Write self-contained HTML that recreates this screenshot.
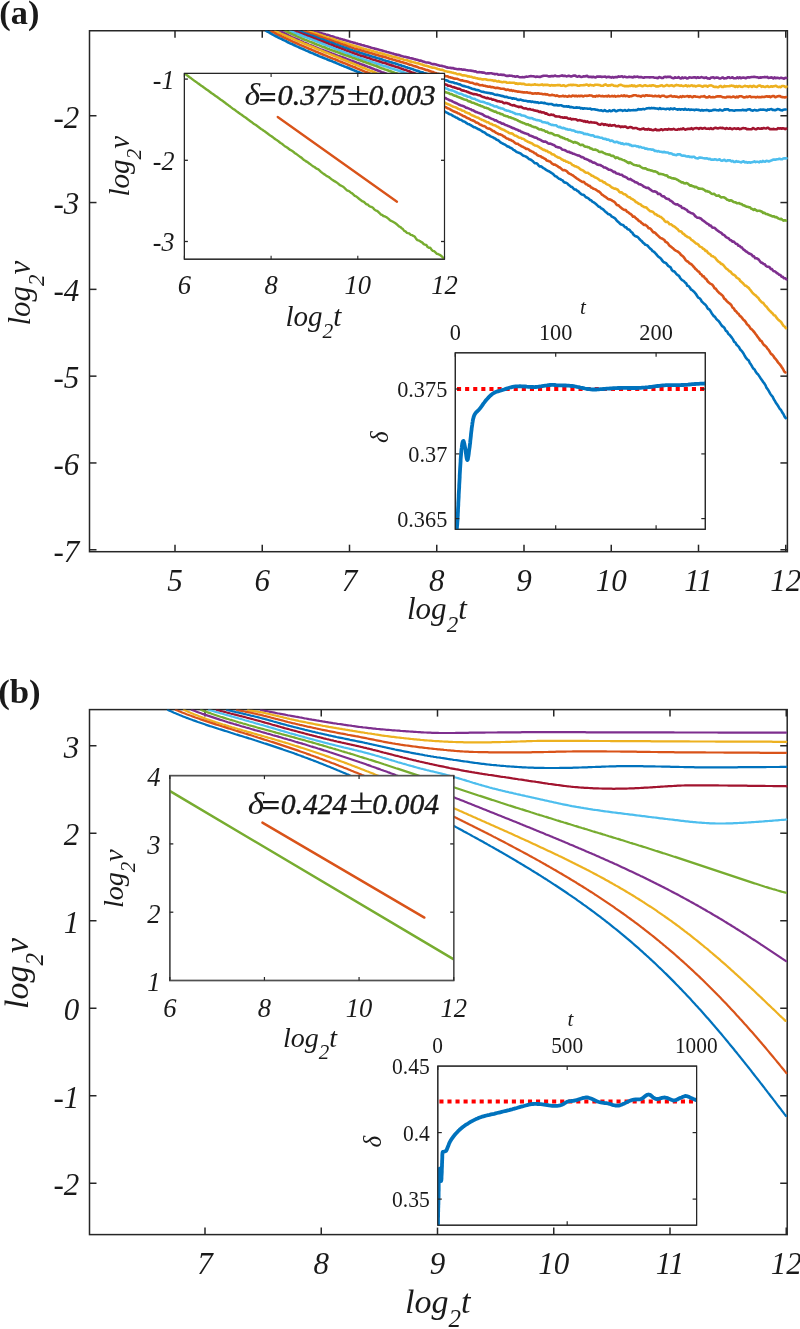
<!DOCTYPE html>
<html><head><meta charset="utf-8"><title>figure</title>
<style>
html,body{margin:0;padding:0;background:#fff;}
svg{display:block;}
text{font-family:'Liberation Serif', 'Times New Roman', serif;fill:#1a1a1a;}
</style></head>
<body>
<svg width="800" height="1329" viewBox="0 0 800 1329">
<rect width="800" height="1329" fill="#fff"/>
<rect x="89.5" y="30.75" width="697.9" height="520.95" fill="none" stroke="#262626" stroke-width="1.5"/>
<line x1="175.0" y1="551.7" x2="175.0" y2="544.7" stroke="#262626" stroke-width="1.5"/>
<line x1="175.0" y1="30.75" x2="175.0" y2="37.75" stroke="#262626" stroke-width="1.5"/>
<line x1="262.25" y1="551.7" x2="262.25" y2="544.7" stroke="#262626" stroke-width="1.5"/>
<line x1="262.25" y1="30.75" x2="262.25" y2="37.75" stroke="#262626" stroke-width="1.5"/>
<line x1="349.5" y1="551.7" x2="349.5" y2="544.7" stroke="#262626" stroke-width="1.5"/>
<line x1="349.5" y1="30.75" x2="349.5" y2="37.75" stroke="#262626" stroke-width="1.5"/>
<line x1="436.75" y1="551.7" x2="436.75" y2="544.7" stroke="#262626" stroke-width="1.5"/>
<line x1="436.75" y1="30.75" x2="436.75" y2="37.75" stroke="#262626" stroke-width="1.5"/>
<line x1="524.0" y1="551.7" x2="524.0" y2="544.7" stroke="#262626" stroke-width="1.5"/>
<line x1="524.0" y1="30.75" x2="524.0" y2="37.75" stroke="#262626" stroke-width="1.5"/>
<line x1="611.25" y1="551.7" x2="611.25" y2="544.7" stroke="#262626" stroke-width="1.5"/>
<line x1="611.25" y1="30.75" x2="611.25" y2="37.75" stroke="#262626" stroke-width="1.5"/>
<line x1="698.5" y1="551.7" x2="698.5" y2="544.7" stroke="#262626" stroke-width="1.5"/>
<line x1="698.5" y1="30.75" x2="698.5" y2="37.75" stroke="#262626" stroke-width="1.5"/>
<line x1="785.75" y1="551.7" x2="785.75" y2="544.7" stroke="#262626" stroke-width="1.5"/>
<line x1="785.75" y1="30.75" x2="785.75" y2="37.75" stroke="#262626" stroke-width="1.5"/>
<line x1="89.5" y1="115.75" x2="96.5" y2="115.75" stroke="#262626" stroke-width="1.5"/>
<line x1="787.4" y1="115.75" x2="780.4" y2="115.75" stroke="#262626" stroke-width="1.5"/>
<line x1="89.5" y1="202.55" x2="96.5" y2="202.55" stroke="#262626" stroke-width="1.5"/>
<line x1="787.4" y1="202.55" x2="780.4" y2="202.55" stroke="#262626" stroke-width="1.5"/>
<line x1="89.5" y1="289.35" x2="96.5" y2="289.35" stroke="#262626" stroke-width="1.5"/>
<line x1="787.4" y1="289.35" x2="780.4" y2="289.35" stroke="#262626" stroke-width="1.5"/>
<line x1="89.5" y1="376.15" x2="96.5" y2="376.15" stroke="#262626" stroke-width="1.5"/>
<line x1="787.4" y1="376.15" x2="780.4" y2="376.15" stroke="#262626" stroke-width="1.5"/>
<line x1="89.5" y1="462.95" x2="96.5" y2="462.95" stroke="#262626" stroke-width="1.5"/>
<line x1="787.4" y1="462.95" x2="780.4" y2="462.95" stroke="#262626" stroke-width="1.5"/>
<line x1="89.5" y1="549.75" x2="96.5" y2="549.75" stroke="#262626" stroke-width="1.5"/>
<line x1="787.4" y1="549.75" x2="780.4" y2="549.75" stroke="#262626" stroke-width="1.5"/>
<clipPath id="clipA"><rect x="89.5" y="30.75" width="698.1999999999999" height="520.95"/></clipPath>
<g clip-path="url(#clipA)">
<polyline points="313.8,31.0 314.9,31.3 316.1,31.6 317.3,32.1 318.5,32.3 319.7,32.7 320.9,33.1 322.1,33.4 323.3,33.8 324.5,34.1 325.7,34.5 326.9,34.8 328.1,35.1 329.3,35.5 330.5,36.0 331.7,36.2 332.9,36.6 334.1,37.0 335.3,37.4 336.5,37.7 337.7,38.0 338.9,38.5 340.1,38.7 341.3,39.2 342.5,39.4 343.7,39.7 344.9,40.1 346.1,40.4 347.3,40.9 348.5,41.1 349.7,41.6 350.9,41.9 352.1,42.2 353.3,42.6 354.5,42.8 355.7,43.2 356.9,43.5 358.1,44.0 359.3,44.3 360.5,44.6 361.7,45.0 362.9,45.3 364.1,45.6 365.3,46.0 366.5,46.3 367.7,46.6 368.9,46.9 370.1,47.3 371.3,47.7 372.5,48.0 373.7,48.2 374.9,48.7 376.1,48.9 377.3,49.2 378.5,49.6 379.7,49.9 380.9,50.2 382.1,50.5 383.3,50.9 384.5,51.3 385.7,51.6 386.9,52.0 388.1,52.2 389.3,52.6 390.5,52.9 391.7,53.3 392.9,53.5 394.1,54.0 395.3,54.4 396.5,54.6 397.7,54.9 398.9,55.1 400.1,55.5 401.3,55.9 402.5,56.3 403.7,56.6 404.9,56.7 406.1,57.0 407.3,57.4 408.5,57.5 409.7,57.9 410.9,58.2 412.1,58.4 413.3,58.7 414.5,59.3 415.7,59.4 416.9,59.7 418.1,60.1 419.3,60.6 420.5,60.6 421.7,61.0 422.9,61.4 424.1,61.8 425.3,62.2 426.5,62.5 427.7,62.5 428.9,62.8 430.1,63.1 431.3,63.7 432.5,64.1 433.7,64.0 434.9,64.3 436.1,64.6 437.3,64.9 438.5,65.3 439.7,65.7 440.9,65.8 442.1,65.9 443.3,66.3 444.5,66.6 445.7,67.0 446.9,67.4 448.1,67.6 449.3,67.7 450.5,67.9 451.7,68.1 452.9,68.0 454.1,68.6 455.3,68.8 456.5,69.0 457.7,69.2 458.9,69.1 460.1,69.3 461.3,69.3 462.5,69.7 463.7,69.6 464.9,69.7 466.1,70.0 467.3,70.2 468.5,70.5 469.7,70.5 470.9,70.6 472.1,70.9 473.3,71.0 474.5,71.4 475.7,71.4 476.9,72.1 478.1,72.2 479.3,72.0 480.5,72.2 481.7,72.4 482.9,72.6 484.1,72.6 485.3,73.2 486.5,73.5 487.7,73.4 488.9,73.4 490.1,73.3 491.3,73.3 492.5,73.6 493.7,73.8 494.9,74.3 496.1,74.0 497.3,74.0 498.5,74.8 499.7,74.8 500.9,74.6 502.1,74.9 503.3,74.7 504.5,75.1 505.7,75.7 506.9,75.9 508.1,75.9 509.3,75.6 510.5,75.8 511.7,75.7 512.9,76.3 514.1,76.3 515.3,76.7 516.5,76.4 517.7,76.3 518.9,76.9 520.1,77.2 521.3,77.2 522.5,77.1 523.7,77.2 524.9,77.1 526.1,76.6 527.3,76.7 528.5,76.5 529.7,76.2 530.9,76.1 532.1,76.2 533.3,76.2 534.5,76.6 535.7,76.9 536.9,76.5 538.1,76.8 539.3,76.9 540.5,76.9 541.7,76.3 542.9,75.9 544.1,75.8 545.3,75.7 546.5,75.7 547.7,76.1 548.9,76.4 550.1,76.4 551.3,76.0 552.5,76.1 553.7,76.2 554.9,75.5 556.1,75.9 557.3,76.2 558.5,76.2 559.7,76.1 560.9,75.8 562.1,75.4 563.3,76.0 564.5,75.7 565.7,76.1 566.9,76.4 568.1,75.9 569.3,75.8 570.5,76.4 571.7,76.4 572.9,75.8 574.1,75.6 575.3,75.6 576.5,76.5 577.7,76.7 578.9,76.0 580.1,76.6 581.3,77.0 582.5,76.7 583.7,76.3 584.9,76.5 586.1,76.1 587.3,75.9 588.5,77.0 589.7,76.9 590.9,76.8 592.1,77.3 593.3,76.8 594.5,77.3 595.7,77.4 596.9,76.6 598.1,76.5 599.3,76.6 600.5,76.5 601.7,77.0 602.9,76.7 604.1,76.8 605.3,76.5 606.5,77.4 607.7,76.9 608.9,76.9 610.1,77.1 611.3,77.6 612.5,77.0 613.7,77.6 614.9,77.1 616.1,77.1 617.3,77.1 618.5,76.4 619.7,76.8 620.9,76.5 622.1,76.2 623.3,77.2 624.5,76.6 625.7,76.9 626.9,77.3 628.1,77.1 629.3,76.8 630.5,77.0 631.7,77.1 632.9,77.4 634.1,76.6 635.3,77.0 636.5,76.7 637.7,76.6 638.9,77.3 640.1,77.1 641.3,77.1 642.5,77.4 643.7,77.7 644.9,77.2 646.1,77.3 647.3,77.2 648.5,77.2 649.7,77.4 650.9,77.2 652.1,77.2 653.3,77.2 654.5,77.8 655.7,77.7 656.9,77.9 658.1,78.1 659.3,77.1 660.5,77.4 661.7,78.0 662.9,78.0 664.1,77.0 665.3,76.8 666.5,77.2 667.7,76.8 668.9,76.9 670.1,76.7 671.3,77.5 672.5,77.9 673.7,78.2 674.9,77.2 676.1,77.8 677.3,77.8 678.5,77.1 679.7,78.0 680.9,78.4 682.1,77.4 683.3,78.2 684.5,77.6 685.7,77.6 686.9,78.4 688.1,78.3 689.3,77.4 690.5,77.5 691.7,77.7 692.9,77.5 694.1,77.3 695.3,77.4 696.5,78.0 697.7,77.2 698.9,77.7 700.1,77.7 701.3,77.1 702.5,77.4 703.7,77.9 704.9,77.9 706.1,77.3 707.3,78.4 708.5,78.4 709.7,78.7 710.9,77.6 712.1,77.5 713.3,77.2 714.5,78.1 715.7,77.7 716.9,77.4 718.1,77.7 719.3,78.5 720.5,78.5 721.7,77.8 722.9,77.4 724.1,78.4 725.3,78.2 726.5,78.3 727.7,77.4 728.9,77.2 730.1,78.0 731.3,77.8 732.5,77.3 733.7,78.3 734.9,78.2 736.1,78.3 737.3,77.4 738.5,78.2 739.7,77.3 740.9,78.2 742.1,77.8 743.3,77.5 744.5,77.8 745.7,78.3 746.9,77.6 748.1,77.2 749.3,77.6 750.5,77.3 751.7,77.0 752.9,77.0 754.1,76.9 755.3,77.0 756.5,77.2 757.7,77.3 758.9,77.9 760.1,77.4 761.3,77.6 762.5,77.2 763.7,77.3 764.9,76.9 766.1,77.2 767.3,76.9 768.5,77.9 769.7,77.8 770.9,77.4 772.1,77.6 773.3,78.4 774.5,77.4 775.7,78.2 776.9,77.8 778.1,77.9 779.3,78.4 780.5,77.9 781.7,77.9 782.9,78.2 784.1,78.7 785.3,77.9 786.5,78.0" fill="none" stroke="#7E2F8E" stroke-width="2.6" stroke-linejoin="round" stroke-linecap="round" />
<polyline points="308.0,31.0 309.2,31.5 310.4,31.8 311.6,32.2 312.8,32.5 314.0,32.9 315.2,33.2 316.4,33.6 317.6,34.0 318.8,34.5 320.0,34.8 321.2,35.2 322.4,35.6 323.6,36.1 324.8,36.5 326.0,36.9 327.2,37.2 328.4,37.6 329.6,37.9 330.8,38.4 332.0,38.7 333.2,39.1 334.4,39.5 335.6,40.0 336.8,40.5 338.0,40.8 339.2,41.1 340.4,41.6 341.6,41.9 342.8,42.3 344.0,42.6 345.2,43.0 346.4,43.4 347.6,43.8 348.8,44.2 350.0,44.6 351.2,44.9 352.4,45.3 353.6,45.6 354.8,46.0 356.0,46.3 357.2,46.7 358.4,47.1 359.6,47.4 360.8,47.8 362.0,48.2 363.2,48.5 364.4,48.9 365.6,49.2 366.8,49.6 368.0,49.8 369.2,50.1 370.4,50.5 371.6,50.7 372.8,51.1 374.0,51.5 375.2,51.7 376.4,52.1 377.6,52.5 378.8,52.8 380.0,53.1 381.2,53.5 382.4,53.6 383.6,54.0 384.8,54.4 386.0,54.8 387.2,55.1 388.4,55.4 389.6,55.7 390.8,56.1 392.0,56.4 393.2,56.7 394.4,56.9 395.6,57.2 396.8,57.5 398.0,57.9 399.2,58.2 400.4,58.7 401.6,59.0 402.8,59.3 404.0,59.7 405.2,60.0 406.4,60.3 407.6,60.4 408.8,61.0 410.0,61.4 411.2,61.6 412.4,62.0 413.6,62.3 414.8,62.5 416.0,63.0 417.2,63.2 418.4,63.4 419.6,63.8 420.8,64.3 422.0,64.5 423.2,65.0 424.4,65.5 425.6,65.7 426.8,65.9 428.0,66.3 429.2,66.7 430.4,67.1 431.6,67.4 432.8,67.7 434.0,67.8 435.2,68.1 436.4,68.4 437.6,69.0 438.8,69.2 440.0,69.6 441.2,69.7 442.4,69.9 443.6,70.4 444.8,70.9 446.0,71.3 447.2,71.6 448.4,71.7 449.6,72.0 450.8,72.3 452.0,72.6 453.2,72.7 454.4,73.3 455.6,73.3 456.8,73.9 458.0,74.3 459.2,74.0 460.4,74.4 461.6,75.0 462.8,75.4 464.0,75.4 465.2,75.5 466.4,75.7 467.6,76.4 468.8,76.3 470.0,76.7 471.2,76.8 472.4,77.2 473.6,77.8 474.8,77.6 476.0,78.2 477.2,78.3 478.4,78.8 479.6,78.9 480.8,78.8 482.0,79.4 483.2,79.4 484.4,79.2 485.6,79.2 486.8,79.7 488.0,79.9 489.2,80.0 490.4,80.0 491.6,80.3 492.8,80.4 494.0,81.0 495.2,80.6 496.4,81.2 497.6,81.5 498.8,81.1 500.0,81.8 501.2,81.9 502.4,82.2 503.6,81.9 504.8,82.0 506.0,82.1 507.2,82.8 508.4,82.7 509.6,82.6 510.8,82.8 512.0,82.8 513.2,82.7 514.4,82.8 515.6,83.6 516.8,83.4 518.0,84.0 519.2,83.6 520.4,83.6 521.6,83.9 522.8,83.7 524.0,83.9 525.2,84.5 526.4,84.7 527.6,84.7 528.8,84.6 530.0,84.8 531.2,85.0 532.4,84.7 533.6,84.8 534.8,84.2 536.0,84.8 537.2,84.7 538.4,85.0 539.6,85.0 540.8,84.7 542.0,84.4 543.2,85.2 544.4,84.7 545.6,84.9 546.8,84.9 548.0,84.9 549.2,85.3 550.4,85.7 551.6,85.1 552.8,85.4 554.0,85.2 555.2,85.4 556.4,85.3 557.6,85.1 558.8,85.0 560.0,85.1 561.2,85.8 562.4,85.6 563.6,85.2 564.8,85.9 566.0,86.1 567.2,85.6 568.4,85.1 569.6,85.0 570.8,84.9 572.0,85.1 573.2,84.9 574.4,85.0 575.6,85.0 576.8,85.3 578.0,85.8 579.2,85.7 580.4,85.3 581.6,85.2 582.8,85.3 584.0,85.1 585.2,85.0 586.4,84.6 587.6,84.8 588.8,85.6 590.0,84.8 591.2,85.1 592.4,85.3 593.6,85.6 594.8,84.9 596.0,84.7 597.2,84.7 598.4,84.9 599.6,85.0 600.8,85.6 602.0,85.7 603.2,85.7 604.4,84.7 605.6,84.4 606.8,85.3 608.0,85.7 609.2,85.3 610.4,85.4 611.6,84.7 612.8,85.0 614.0,85.8 615.2,85.9 616.4,86.0 617.6,86.2 618.8,85.3 620.0,84.9 621.2,84.9 622.4,85.4 623.6,85.8 624.8,86.3 626.0,86.1 627.2,86.0 628.4,86.2 629.6,85.8 630.8,85.9 632.0,85.2 633.2,86.1 634.4,85.5 635.6,86.4 636.8,86.2 638.0,85.7 639.2,85.4 640.4,85.4 641.6,86.0 642.8,86.2 644.0,85.5 645.2,85.2 646.4,85.8 647.6,86.0 648.8,85.8 650.0,85.5 651.2,85.9 652.4,85.2 653.6,85.4 654.8,85.7 656.0,86.4 657.2,86.2 658.4,86.4 659.6,85.9 660.8,85.5 662.0,85.3 663.2,86.3 664.4,86.2 665.6,85.6 666.8,85.0 668.0,85.5 669.2,85.9 670.4,85.6 671.6,85.3 672.8,85.8 674.0,86.3 675.2,85.4 676.4,84.9 677.6,85.3 678.8,85.4 680.0,85.9 681.2,85.3 682.4,86.0 683.6,86.1 684.8,85.8 686.0,85.3 687.2,86.3 688.4,85.6 689.6,86.2 690.8,85.5 692.0,85.4 693.2,86.1 694.4,85.7 695.6,86.5 696.8,86.1 698.0,85.6 699.2,85.5 700.4,85.8 701.6,86.2 702.8,86.7 704.0,85.8 705.2,85.9 706.4,85.7 707.6,86.7 708.8,85.8 710.0,85.5 711.2,85.4 712.4,85.9 713.6,86.7 714.8,86.9 716.0,86.8 717.2,87.1 718.4,87.2 719.6,86.3 720.8,85.9 722.0,86.9 723.2,86.9 724.4,85.9 725.6,86.5 726.8,86.3 728.0,86.2 729.2,86.1 730.4,85.9 731.6,85.6 732.8,85.9 734.0,86.1 735.2,87.0 736.4,86.0 737.6,87.0 738.8,86.1 740.0,86.1 741.2,86.8 742.4,86.9 743.6,86.4 744.8,85.8 746.0,86.2 747.2,86.2 748.4,86.9 749.6,86.1 750.8,86.1 752.0,86.9 753.2,85.9 754.4,86.1 755.6,86.8 756.8,86.9 758.0,85.9 759.2,85.6 760.4,85.6 761.6,86.8 762.8,86.2 764.0,86.7 765.2,87.0 766.4,86.4 767.6,86.1 768.8,87.0 770.0,86.7 771.2,86.2 772.4,86.7 773.6,86.3 774.8,86.1 776.0,85.7 777.2,86.6 778.4,87.1 779.6,86.8 780.8,87.2 782.0,86.0 783.2,86.0 784.4,86.3 785.6,87.1 786.8,86.5" fill="none" stroke="#EDB120" stroke-width="2.6" stroke-linejoin="round" stroke-linecap="round" />
<polyline points="303.8,31.0 304.9,31.5 306.1,31.8 307.3,32.2 308.5,32.6 309.7,33.1 310.9,33.6 312.1,33.9 313.3,34.4 314.5,34.8 315.7,35.2 316.9,35.6 318.1,36.0 319.3,36.4 320.5,36.8 321.7,37.2 322.9,37.7 324.1,38.0 325.3,38.4 326.5,38.9 327.7,39.3 328.9,39.6 330.1,40.0 331.3,40.5 332.5,40.9 333.7,41.5 334.9,41.9 336.1,42.3 337.3,42.6 338.5,43.0 339.7,43.4 340.9,43.9 342.1,44.3 343.3,44.7 344.5,45.1 345.7,45.5 346.9,46.0 348.1,46.4 349.3,46.8 350.5,47.3 351.7,47.6 352.9,47.9 354.1,48.4 355.3,48.7 356.5,49.1 357.7,49.4 358.9,49.9 360.1,50.1 361.3,50.5 362.5,50.8 363.7,51.1 364.9,51.6 366.1,51.9 367.3,52.2 368.5,52.6 369.7,53.0 370.9,53.3 372.1,53.6 373.3,54.0 374.5,54.3 375.7,54.7 376.9,54.9 378.1,55.3 379.3,55.7 380.5,56.1 381.7,56.4 382.9,56.6 384.1,56.9 385.3,57.2 386.5,57.6 387.7,58.1 388.9,58.4 390.1,58.8 391.3,59.0 392.5,59.5 393.7,59.7 394.9,60.0 396.1,60.5 397.3,60.9 398.5,61.1 399.7,61.5 400.9,61.9 402.1,62.2 403.3,62.5 404.5,62.9 405.7,63.2 406.9,63.6 408.1,64.1 409.3,64.6 410.5,64.8 411.7,65.1 412.9,65.6 414.1,66.1 415.3,66.3 416.5,66.7 417.7,67.1 418.9,67.7 420.1,68.0 421.3,68.2 422.5,68.6 423.7,69.1 424.9,69.5 426.1,70.0 427.3,70.1 428.5,70.5 429.7,71.1 430.9,71.4 432.1,71.8 433.3,72.1 434.5,72.8 435.7,73.0 436.9,73.4 438.1,73.7 439.3,74.1 440.5,74.7 441.7,75.2 442.9,75.3 444.1,75.5 445.3,76.1 446.5,76.2 447.7,76.4 448.9,77.1 450.1,77.3 451.3,77.8 452.5,77.9 453.7,78.5 454.9,78.6 456.1,78.7 457.3,78.8 458.5,79.4 459.7,79.9 460.9,80.4 462.1,80.2 463.3,80.7 464.5,81.0 465.7,81.3 466.9,81.4 468.1,81.8 469.3,82.2 470.5,82.8 471.7,82.7 472.9,83.1 474.1,83.7 475.3,84.1 476.5,83.9 477.7,84.1 478.9,84.8 480.1,85.3 481.3,85.2 482.5,85.1 483.7,85.8 484.9,85.8 486.1,86.3 487.3,86.4 488.5,86.8 489.7,86.5 490.9,87.1 492.1,87.0 493.3,87.2 494.5,87.8 495.7,88.1 496.9,87.8 498.1,87.9 499.3,88.2 500.5,88.6 501.7,88.7 502.9,88.7 504.1,88.9 505.3,89.5 506.5,90.0 507.7,89.6 508.9,90.0 510.1,90.5 511.3,90.1 512.5,90.9 513.7,90.6 514.9,91.1 516.1,91.3 517.3,91.6 518.5,91.5 519.7,91.7 520.9,92.0 522.1,92.1 523.3,92.4 524.5,92.4 525.7,92.5 526.9,92.2 528.1,92.8 529.3,92.9 530.5,92.8 531.7,93.4 532.9,93.6 534.1,93.5 535.3,93.2 536.5,93.6 537.7,93.4 538.9,93.4 540.1,93.8 541.3,93.7 542.5,94.1 543.7,94.3 544.9,94.0 546.1,94.6 547.3,94.3 548.5,95.0 549.7,95.3 550.9,95.2 552.1,94.8 553.3,95.2 554.5,95.3 555.7,96.0 556.9,95.3 558.1,96.0 559.3,96.4 560.5,96.2 561.7,96.3 562.9,95.7 564.1,96.4 565.3,96.1 566.5,96.5 567.7,96.6 568.9,95.8 570.1,96.3 571.3,96.5 572.5,95.6 573.7,95.7 574.9,96.2 576.1,95.7 577.3,96.4 578.5,95.8 579.7,96.3 580.9,95.7 582.1,95.9 583.3,96.5 584.5,95.8 585.7,95.7 586.9,95.9 588.1,95.8 589.3,95.4 590.5,95.5 591.7,95.5 592.9,96.4 594.1,96.3 595.3,96.6 596.5,95.7 597.7,96.3 598.9,95.6 600.1,95.9 601.3,96.2 602.5,95.9 603.7,96.4 604.9,96.2 606.1,96.1 607.3,96.5 608.5,95.6 609.7,96.5 610.9,96.3 612.1,95.9 613.3,96.4 614.5,95.8 615.7,96.6 616.9,96.3 618.1,95.9 619.3,96.3 620.5,96.0 621.7,95.6 622.9,96.2 624.1,95.4 625.3,96.3 626.5,95.7 627.7,96.1 628.9,96.7 630.1,96.3 631.3,96.3 632.5,95.8 633.7,95.3 634.9,95.2 636.1,95.3 637.3,96.0 638.5,95.9 639.7,96.0 640.9,96.6 642.1,95.7 643.3,95.6 644.5,96.2 645.7,95.4 646.9,95.2 648.1,95.7 649.3,95.5 650.5,95.8 651.7,95.7 652.9,96.2 654.1,96.3 655.3,95.8 656.5,96.3 657.7,96.3 658.9,95.8 660.1,96.8 661.3,96.1 662.5,95.8 663.7,95.7 664.9,96.4 666.1,96.9 667.3,96.9 668.5,96.4 669.7,96.1 670.9,95.7 672.1,96.5 673.3,96.6 674.5,96.3 675.7,96.7 676.9,96.5 678.1,97.2 679.3,97.1 680.5,96.4 681.7,97.1 682.9,96.1 684.1,96.6 685.3,96.5 686.5,96.3 687.7,96.0 688.9,96.9 690.1,96.1 691.3,96.6 692.5,97.3 693.7,96.4 694.9,96.2 696.1,96.8 697.3,96.8 698.5,97.0 699.7,97.3 700.9,96.5 702.1,96.5 703.3,96.5 704.5,96.1 705.7,97.2 706.9,97.4 708.1,97.3 709.3,96.3 710.5,97.2 711.7,97.3 712.9,97.0 714.1,97.3 715.3,97.0 716.5,96.6 717.7,96.3 718.9,96.4 720.1,96.2 721.3,96.5 722.5,97.2 723.7,97.3 724.9,97.5 726.1,97.4 727.3,96.7 728.5,96.9 729.7,96.8 730.9,97.3 732.1,97.0 733.3,96.6 734.5,97.0 735.7,97.5 736.9,96.6 738.1,97.3 739.3,96.2 740.5,96.3 741.7,96.3 742.9,97.0 744.1,97.4 745.3,97.3 746.5,96.6 747.7,97.2 748.9,96.6 750.1,96.3 751.3,97.2 752.5,97.0 753.7,97.0 754.9,97.0 756.1,97.4 757.3,96.8 758.5,97.2 759.7,97.1 760.9,97.3 762.1,96.7 763.3,97.0 764.5,96.9 765.7,96.5 766.9,96.2 768.1,96.8 769.3,96.2 770.5,97.2 771.7,96.4 772.9,96.0 774.1,96.1 775.3,97.2 776.5,96.7 777.7,96.3 778.9,96.1 780.1,96.1 781.3,97.0 782.5,97.1 783.7,97.3 784.9,97.4 786.1,97.0" fill="none" stroke="#D95319" stroke-width="2.6" stroke-linejoin="round" stroke-linecap="round" />
<polyline points="298.8,31.0 299.9,31.3 301.1,31.9 302.3,32.3 303.5,32.8 304.7,33.2 305.9,33.7 307.1,34.0 308.3,34.5 309.5,35.0 310.7,35.4 311.9,35.7 313.1,36.1 314.3,36.5 315.5,36.9 316.7,37.5 317.9,38.0 319.1,38.4 320.3,38.9 321.5,39.3 322.7,39.6 323.9,40.0 325.1,40.4 326.3,41.0 327.5,41.3 328.7,41.7 329.9,42.2 331.1,42.6 332.3,43.0 333.5,43.5 334.7,44.0 335.9,44.4 337.1,44.8 338.3,45.3 339.5,45.7 340.7,46.2 341.9,46.6 343.1,46.9 344.3,47.4 345.5,47.8 346.7,48.3 347.9,48.7 349.1,49.2 350.3,49.6 351.5,49.9 352.7,50.4 353.9,50.7 355.1,51.2 356.3,51.5 357.5,51.9 358.7,52.3 359.9,52.8 361.1,53.2 362.3,53.4 363.5,53.8 364.7,54.2 365.9,54.7 367.1,54.9 368.3,55.3 369.5,55.7 370.7,56.1 371.9,56.4 373.1,56.9 374.3,57.1 375.5,57.5 376.7,57.9 377.9,58.3 379.1,58.5 380.3,59.0 381.5,59.3 382.7,59.8 383.9,60.2 385.1,60.5 386.3,60.9 387.5,61.2 388.7,61.5 389.9,61.9 391.1,62.4 392.3,62.6 393.5,63.1 394.7,63.3 395.9,63.7 397.1,64.1 398.3,64.6 399.5,64.9 400.7,65.3 401.9,65.8 403.1,66.0 404.3,66.4 405.5,66.9 406.7,67.3 407.9,67.8 409.1,68.1 410.3,68.4 411.5,68.8 412.7,69.1 413.9,69.7 415.1,70.1 416.3,70.6 417.5,70.7 418.7,71.2 419.9,71.7 421.1,72.1 422.3,72.3 423.5,72.8 424.7,73.4 425.9,73.6 427.1,73.9 428.3,74.3 429.5,74.9 430.7,75.4 431.9,75.5 433.1,75.9 434.3,76.3 435.5,76.7 436.7,77.2 437.9,77.5 439.1,77.9 440.3,78.3 441.5,79.0 442.7,79.4 443.9,79.5 445.1,80.2 446.3,80.2 447.5,80.7 448.7,81.4 449.9,81.8 451.1,82.1 452.3,82.3 453.5,82.5 454.7,83.1 455.9,83.2 457.1,83.6 458.3,84.1 459.5,84.3 460.7,84.8 461.9,85.5 463.1,85.9 464.3,86.1 465.5,86.5 466.7,86.8 467.9,87.0 469.1,87.6 470.3,87.9 471.5,88.5 472.7,89.0 473.9,89.1 475.1,89.5 476.3,90.0 477.5,90.1 478.7,90.3 479.9,90.9 481.1,91.4 482.3,91.7 483.5,91.9 484.7,92.3 485.9,92.5 487.1,92.7 488.3,92.9 489.5,93.0 490.7,93.5 491.9,93.4 493.1,93.8 494.3,94.4 495.5,94.7 496.7,94.9 497.9,94.9 499.1,95.2 500.3,95.5 501.5,95.9 502.7,96.1 503.9,96.5 505.1,97.0 506.3,96.8 507.5,97.3 508.7,97.7 509.9,97.7 511.1,98.0 512.3,98.7 513.5,98.2 514.7,98.8 515.9,98.7 517.1,99.5 518.3,99.9 519.5,99.9 520.7,99.6 521.9,100.2 523.1,100.4 524.3,100.8 525.5,100.8 526.7,101.1 527.9,101.4 529.1,101.4 530.3,101.4 531.5,102.0 532.7,101.6 533.9,102.1 535.1,102.1 536.3,102.5 537.5,102.2 538.7,103.0 539.9,102.8 541.1,102.5 542.3,102.8 543.5,103.1 544.7,102.9 545.9,103.4 547.1,103.7 548.3,104.1 549.5,104.0 550.7,104.0 551.9,104.1 553.1,104.8 554.3,105.3 555.5,105.1 556.7,104.9 557.9,105.5 559.1,105.4 560.3,105.3 561.5,105.3 562.7,106.1 563.9,106.4 565.1,106.5 566.3,106.4 567.5,106.6 568.7,106.4 569.9,107.2 571.1,106.9 572.3,107.2 573.5,107.6 574.7,107.8 575.9,107.6 577.1,107.4 578.3,107.8 579.5,107.5 580.7,108.4 581.9,108.1 583.1,108.8 584.3,108.3 585.5,108.5 586.7,108.5 587.9,108.8 589.1,108.7 590.3,108.5 591.5,109.5 592.7,109.3 593.9,109.3 595.1,109.4 596.3,109.8 597.5,109.9 598.7,110.3 599.9,110.5 601.1,110.2 602.3,110.9 603.5,111.0 604.7,110.1 605.9,110.9 607.1,111.2 608.3,111.2 609.5,110.3 610.7,111.1 611.9,111.0 613.1,110.2 614.3,110.0 615.5,111.2 616.7,111.1 617.9,110.5 619.1,110.2 620.3,110.1 621.5,110.2 622.7,110.9 623.9,110.4 625.1,110.0 626.3,110.8 627.5,110.8 628.7,109.8 629.9,110.5 631.1,110.2 632.3,110.3 633.5,110.1 634.7,110.3 635.9,110.1 637.1,110.0 638.3,109.0 639.5,109.4 640.7,109.2 641.9,109.4 643.1,108.9 644.3,109.4 645.5,108.9 646.7,108.4 647.9,108.2 649.1,108.0 650.3,108.4 651.5,107.9 652.7,108.3 653.9,108.0 655.1,108.4 656.3,108.5 657.5,108.6 658.7,109.1 659.9,108.1 661.1,109.0 662.3,108.7 663.5,108.8 664.7,109.0 665.9,109.3 667.1,108.7 668.3,108.7 669.5,109.4 670.7,108.4 671.9,108.9 673.1,109.1 674.3,108.3 675.5,108.9 676.7,109.2 677.9,109.7 679.1,109.0 680.3,109.7 681.5,109.3 682.7,109.2 683.9,109.8 685.1,108.8 686.3,109.6 687.5,109.7 688.7,109.3 689.9,110.0 691.1,109.6 692.3,109.7 693.5,109.8 694.7,110.2 695.9,109.6 697.1,109.8 698.3,109.9 699.5,110.1 700.7,110.6 701.9,110.0 703.1,110.6 704.3,110.2 705.5,110.2 706.7,109.9 707.9,110.2 709.1,110.9 710.3,110.6 711.5,110.7 712.7,110.1 713.9,109.9 715.1,109.8 716.3,110.1 717.5,110.3 718.7,110.5 719.9,109.5 721.1,110.2 722.3,110.6 723.5,110.2 724.7,109.4 725.9,109.6 727.1,109.2 728.3,109.4 729.5,110.4 730.7,110.3 731.9,110.3 733.1,110.5 734.3,110.7 735.5,110.3 736.7,110.2 737.9,110.2 739.1,110.3 740.3,110.2 741.5,110.3 742.7,109.7 743.9,110.2 745.1,110.0 746.3,110.4 747.5,109.5 748.7,109.4 749.9,109.2 751.1,110.2 752.3,110.6 753.5,110.4 754.7,109.9 755.9,110.4 757.1,110.5 758.3,110.2 759.5,109.7 760.7,109.6 761.9,109.7 763.1,109.6 764.3,109.7 765.5,110.0 766.7,110.5 767.9,109.4 769.1,109.8 770.3,109.2 771.5,109.1 772.7,110.0 773.9,109.9 775.1,110.3 776.3,109.8 777.5,109.0 778.7,109.3 779.9,109.7 781.1,110.2 782.3,110.4 783.5,109.7 784.7,109.5 785.9,109.5" fill="none" stroke="#0072BD" stroke-width="2.6" stroke-linejoin="round" stroke-linecap="round" />
<polyline points="294.4,31.0 295.6,31.4 296.8,31.9 298.0,32.3 299.2,32.7 300.4,33.1 301.6,33.6 302.8,34.2 304.0,34.5 305.2,35.1 306.4,35.4 307.6,36.0 308.8,36.3 310.0,36.7 311.2,37.3 312.4,37.7 313.6,38.2 314.8,38.6 316.0,39.0 317.2,39.6 318.4,40.1 319.6,40.5 320.8,41.0 322.0,41.3 323.2,41.8 324.4,42.3 325.6,42.7 326.8,43.3 328.0,43.6 329.2,44.2 330.4,44.6 331.6,44.9 332.8,45.3 334.0,45.9 335.2,46.4 336.4,46.7 337.6,47.2 338.8,47.7 340.0,48.1 341.2,48.6 342.4,49.0 343.6,49.4 344.8,49.9 346.0,50.4 347.2,50.8 348.4,51.3 349.6,51.6 350.8,52.2 352.0,52.6 353.2,53.0 354.4,53.5 355.6,53.8 356.8,54.2 358.0,54.7 359.2,55.2 360.4,55.5 361.6,55.9 362.8,56.2 364.0,56.5 365.2,57.1 366.4,57.4 367.6,57.8 368.8,58.1 370.0,58.5 371.2,59.0 372.4,59.4 373.6,59.7 374.8,60.0 376.0,60.4 377.2,60.9 378.4,61.2 379.6,61.6 380.8,62.0 382.0,62.4 383.2,62.8 384.4,63.0 385.6,63.3 386.8,63.7 388.0,64.2 389.2,64.6 390.4,65.0 391.6,65.5 392.8,65.6 394.0,66.2 395.2,66.6 396.4,67.0 397.6,67.3 398.8,67.6 400.0,68.2 401.2,68.6 402.4,69.0 403.6,69.5 404.8,69.8 406.0,70.1 407.2,70.6 408.4,71.2 409.6,71.4 410.8,72.0 412.0,72.5 413.2,72.8 414.4,73.3 415.6,73.8 416.8,74.1 418.0,74.4 419.2,74.9 420.4,75.5 421.6,76.0 422.8,76.3 424.0,76.6 425.2,77.3 426.4,77.8 427.6,78.0 428.8,78.5 430.0,79.1 431.2,79.6 432.4,79.9 433.6,80.3 434.8,80.7 436.0,81.0 437.2,81.4 438.4,81.8 439.6,82.5 440.8,82.8 442.0,83.3 443.2,83.7 444.4,84.1 445.6,84.4 446.8,84.7 448.0,85.6 449.2,85.8 450.4,86.0 451.6,86.6 452.8,87.1 454.0,87.2 455.2,87.8 456.4,88.1 457.6,88.6 458.8,88.7 460.0,89.0 461.2,90.0 462.4,90.4 463.6,90.6 464.8,91.0 466.0,91.2 467.2,91.9 468.4,92.1 469.6,92.8 470.8,93.2 472.0,93.6 473.2,94.1 474.4,94.1 475.6,94.2 476.8,94.6 478.0,95.0 479.2,95.3 480.4,95.6 481.6,96.3 482.8,97.0 484.0,97.1 485.2,97.7 486.4,98.1 487.6,97.9 488.8,98.4 490.0,98.7 491.2,98.8 492.4,99.7 493.6,99.6 494.8,100.1 496.0,100.5 497.2,101.1 498.4,101.3 499.6,101.4 500.8,101.7 502.0,101.8 503.2,102.7 504.4,103.2 505.6,102.9 506.8,103.0 508.0,103.4 509.2,103.8 510.4,104.6 511.6,105.1 512.8,105.4 514.0,105.1 515.2,105.8 516.4,106.2 517.6,106.5 518.8,107.1 520.0,106.7 521.2,106.9 522.4,107.7 523.6,108.3 524.8,108.5 526.0,108.4 527.2,108.9 528.4,109.3 529.6,109.1 530.8,109.5 532.0,109.7 533.2,109.9 534.4,110.5 535.6,110.6 536.8,110.9 538.0,111.1 539.2,111.9 540.4,111.6 541.6,112.5 542.8,112.4 544.0,112.5 545.2,113.6 546.4,113.4 547.6,114.3 548.8,114.7 550.0,115.0 551.2,114.6 552.4,115.0 553.6,114.9 554.8,116.0 556.0,116.4 557.2,116.5 558.4,116.5 559.6,116.6 560.8,117.3 562.0,117.3 563.2,117.7 564.4,117.4 565.6,117.6 566.8,117.6 568.0,118.5 569.2,118.7 570.4,118.4 571.6,119.4 572.8,119.1 574.0,119.3 575.2,119.2 576.4,119.5 577.6,120.4 578.8,120.2 580.0,120.1 581.2,120.6 582.4,120.7 583.6,121.5 584.8,121.0 586.0,122.0 587.2,121.3 588.4,122.3 589.6,122.5 590.8,122.1 592.0,122.5 593.2,122.5 594.4,122.6 595.6,122.7 596.8,123.1 598.0,124.1 599.2,124.5 600.4,124.7 601.6,123.8 602.8,124.0 604.0,124.9 605.2,124.2 606.4,125.0 607.6,124.7 608.8,125.7 610.0,124.8 611.2,125.7 612.4,125.4 613.6,125.2 614.8,125.1 616.0,126.2 617.2,126.2 618.4,125.9 619.6,126.3 620.8,127.1 622.0,126.5 623.2,126.9 624.4,126.6 625.6,126.6 626.8,127.6 628.0,127.9 629.2,127.3 630.4,127.1 631.6,127.2 632.8,128.1 634.0,128.2 635.2,128.0 636.4,128.0 637.6,128.7 638.8,129.0 640.0,129.4 641.2,129.2 642.4,128.7 643.6,128.4 644.8,129.4 646.0,129.2 647.2,129.6 648.4,128.9 649.6,129.8 650.8,129.4 652.0,130.0 653.2,130.3 654.4,129.8 655.6,129.1 656.8,130.2 658.0,129.9 659.2,130.3 660.4,129.6 661.6,129.3 662.8,130.1 664.0,129.6 665.2,129.2 666.4,129.4 667.6,129.7 668.8,128.9 670.0,129.4 671.2,129.3 672.4,129.4 673.6,128.8 674.8,129.4 676.0,129.7 677.2,129.8 678.4,129.0 679.6,129.4 680.8,128.9 682.0,129.3 683.2,128.4 684.4,129.3 685.6,129.7 686.8,129.1 688.0,128.9 689.2,128.9 690.4,128.9 691.6,128.2 692.8,129.3 694.0,128.5 695.2,128.3 696.4,128.1 697.6,128.2 698.8,129.0 700.0,128.1 701.2,128.0 702.4,128.8 703.6,128.2 704.8,127.9 706.0,128.6 707.2,128.7 708.4,128.6 709.6,128.9 710.8,128.1 712.0,128.9 713.2,128.9 714.4,128.0 715.6,127.8 716.8,128.3 718.0,128.4 719.2,128.1 720.4,127.8 721.6,128.1 722.8,127.9 724.0,128.4 725.2,128.9 726.4,128.1 727.6,128.5 728.8,128.8 730.0,128.1 731.2,128.8 732.4,129.2 733.6,128.5 734.8,128.4 736.0,128.9 737.2,128.6 738.4,128.4 739.6,129.1 740.8,129.0 742.0,128.4 743.2,128.1 744.4,128.2 745.6,128.4 746.8,129.2 748.0,129.1 749.2,129.3 750.4,129.2 751.6,129.2 752.8,128.1 754.0,128.5 755.2,129.2 756.4,129.3 757.6,128.4 758.8,128.4 760.0,128.7 761.2,128.4 762.4,128.6 763.6,128.0 764.8,128.3 766.0,128.5 767.2,127.9 768.4,127.9 769.6,129.1 770.8,129.1 772.0,129.3 773.2,128.9 774.4,129.1 775.6,129.2 776.8,129.2 778.0,128.1 779.2,128.6 780.4,128.2 781.6,128.7 782.8,128.2 784.0,128.5 785.2,129.1 786.4,128.5" fill="none" stroke="#A2142F" stroke-width="2.6" stroke-linejoin="round" stroke-linecap="round" />
<polyline points="290.0,31.0 291.2,31.5 292.4,31.9 293.6,32.4 294.8,32.9 296.0,33.4 297.2,33.8 298.4,34.2 299.6,34.8 300.8,35.2 302.0,35.7 303.2,36.3 304.4,36.7 305.6,37.1 306.8,37.6 308.0,38.1 309.2,38.5 310.4,38.9 311.6,39.4 312.8,39.9 314.0,40.4 315.2,40.8 316.4,41.3 317.6,41.7 318.8,42.3 320.0,42.8 321.2,43.3 322.4,43.7 323.6,44.2 324.8,44.6 326.0,45.2 327.2,45.6 328.4,46.1 329.6,46.6 330.8,47.0 332.0,47.4 333.2,47.9 334.4,48.3 335.6,48.9 336.8,49.3 338.0,49.8 339.2,50.2 340.4,50.7 341.6,51.3 342.8,51.7 344.0,52.2 345.2,52.7 346.4,53.1 347.6,53.7 348.8,54.0 350.0,54.6 351.2,54.9 352.4,55.3 353.6,55.9 354.8,56.3 356.0,56.6 357.2,57.1 358.4,57.5 359.6,58.0 360.8,58.3 362.0,58.7 363.2,59.2 364.4,59.6 365.6,59.9 366.8,60.3 368.0,60.6 369.2,61.1 370.4,61.5 371.6,61.9 372.8,62.3 374.0,62.6 375.2,63.1 376.4,63.5 377.6,63.9 378.8,64.2 380.0,64.6 381.2,65.0 382.4,65.4 383.6,65.7 384.8,66.2 386.0,66.4 387.2,66.9 388.4,67.3 389.6,67.7 390.8,68.2 392.0,68.5 393.2,68.8 394.4,69.3 395.6,69.7 396.8,70.1 398.0,70.4 399.2,70.8 400.4,71.2 401.6,71.7 402.8,72.1 404.0,72.5 405.2,73.0 406.4,73.4 407.6,73.8 408.8,74.4 410.0,74.9 411.2,75.3 412.4,75.7 413.6,76.0 414.8,76.5 416.0,76.9 417.2,77.5 418.4,78.0 419.6,78.2 420.8,79.0 422.0,79.3 423.2,79.9 424.4,80.4 425.6,80.9 426.8,81.1 428.0,81.5 429.2,82.2 430.4,82.3 431.6,82.7 432.8,83.4 434.0,83.8 435.2,84.5 436.4,84.9 437.6,85.3 438.8,85.9 440.0,86.2 441.2,86.6 442.4,87.1 443.6,87.4 444.8,87.8 446.0,88.4 447.2,88.7 448.4,89.5 449.6,89.9 450.8,90.2 452.0,90.4 453.2,90.9 454.4,91.4 455.6,92.0 456.8,92.4 458.0,93.1 459.2,93.6 460.4,93.8 461.6,94.1 462.8,94.7 464.0,95.4 465.2,95.5 466.4,96.0 467.6,96.6 468.8,96.7 470.0,97.1 471.2,98.0 472.4,98.5 473.6,98.7 474.8,98.8 476.0,99.7 477.2,100.1 478.4,100.6 479.6,101.2 480.8,101.6 482.0,101.7 483.2,101.9 484.4,102.3 485.6,102.9 486.8,103.4 488.0,103.6 489.2,103.9 490.4,104.7 491.6,105.1 492.8,105.4 494.0,106.2 495.2,106.5 496.4,106.4 497.6,107.0 498.8,107.8 500.0,107.9 501.2,108.5 502.4,108.5 503.6,109.0 504.8,109.9 506.0,110.2 507.2,110.7 508.4,110.7 509.6,111.3 510.8,111.8 512.0,112.0 513.2,112.7 514.4,113.1 515.6,113.9 516.8,114.0 518.0,114.2 519.2,114.3 520.4,114.6 521.6,115.5 522.8,115.5 524.0,115.7 525.2,116.1 526.4,116.8 527.6,117.5 528.8,117.8 530.0,118.3 531.2,118.0 532.4,118.2 533.6,119.2 534.8,119.3 536.0,120.0 537.2,120.1 538.4,120.2 539.6,120.6 540.8,120.8 542.0,121.9 543.2,122.1 544.4,122.2 545.6,122.6 546.8,122.9 548.0,122.9 549.2,124.0 550.4,124.3 551.6,125.0 552.8,124.9 554.0,125.3 555.2,125.3 556.4,125.4 557.6,126.6 558.8,127.1 560.0,126.9 561.2,127.7 562.4,128.1 563.6,127.9 564.8,128.4 566.0,129.2 567.2,129.1 568.4,129.8 569.6,129.5 570.8,129.8 572.0,130.5 573.2,130.4 574.4,130.7 575.6,131.6 576.8,131.7 578.0,132.3 579.2,132.1 580.4,132.2 581.6,132.7 582.8,132.8 584.0,134.0 585.2,133.8 586.4,134.3 587.6,134.1 588.8,134.8 590.0,135.1 591.2,135.4 592.4,135.3 593.6,135.6 594.8,136.8 596.0,136.8 597.2,136.9 598.4,137.1 599.6,137.5 600.8,137.7 602.0,137.8 603.2,138.8 604.4,138.9 605.6,138.9 606.8,139.8 608.0,139.5 609.2,139.9 610.4,140.9 611.6,140.5 612.8,141.0 614.0,141.9 615.2,142.3 616.4,141.7 617.6,142.1 618.8,142.9 620.0,142.8 621.2,143.8 622.4,143.2 623.6,144.2 624.8,144.1 626.0,143.8 627.2,144.3 628.4,144.1 629.6,145.1 630.8,144.9 632.0,145.9 633.2,145.9 634.4,145.8 635.6,145.8 636.8,146.5 638.0,146.3 639.2,147.3 640.4,146.8 641.6,147.4 642.8,147.8 644.0,147.7 645.2,148.6 646.4,148.5 647.6,149.1 648.8,149.3 650.0,149.3 651.2,149.6 652.4,149.5 653.6,149.8 654.8,151.0 656.0,150.8 657.2,151.4 658.4,151.0 659.6,151.7 660.8,151.8 662.0,152.1 663.2,152.1 664.4,151.9 665.6,152.4 666.8,152.5 668.0,152.5 669.2,153.5 670.4,153.3 671.6,153.5 672.8,154.4 674.0,154.6 675.2,155.0 676.4,155.1 677.6,154.3 678.8,154.4 680.0,154.3 681.2,155.3 682.4,155.7 683.6,155.5 684.8,155.7 686.0,156.2 687.2,156.6 688.4,156.2 689.6,157.0 690.8,156.7 692.0,157.2 693.2,156.8 694.4,156.8 695.6,158.0 696.8,158.2 698.0,158.4 699.2,157.6 700.4,157.5 701.6,157.7 702.8,158.0 704.0,158.2 705.2,158.5 706.4,158.2 707.6,158.6 708.8,159.2 710.0,158.8 711.2,159.7 712.4,159.6 713.6,159.8 714.8,159.3 716.0,159.5 717.2,160.0 718.4,159.7 719.6,159.3 720.8,160.4 722.0,160.7 723.2,160.2 724.4,159.8 725.6,160.9 726.8,160.9 728.0,160.2 729.2,160.4 730.4,160.4 731.6,161.4 732.8,160.9 734.0,161.9 735.2,161.9 736.4,161.1 737.6,161.8 738.8,161.6 740.0,162.1 741.2,162.4 742.4,161.7 743.6,161.3 744.8,162.4 746.0,162.0 747.2,162.6 748.4,162.4 749.6,162.4 750.8,162.6 752.0,162.3 753.2,162.0 754.4,161.3 755.6,162.1 756.8,161.8 758.0,161.8 759.2,162.4 760.4,161.3 761.6,161.9 762.8,160.9 764.0,161.5 765.2,161.7 766.4,160.9 767.6,161.0 768.8,161.5 770.0,161.0 771.2,160.6 772.4,160.0 773.6,159.5 774.8,159.6 776.0,159.6 777.2,159.2 778.4,159.1 779.6,158.7 780.8,159.3 782.0,159.3 783.2,158.5 784.4,158.2 785.6,158.4 786.8,158.3" fill="none" stroke="#4DBEEE" stroke-width="2.6" stroke-linejoin="round" stroke-linecap="round" />
<polyline points="285.6,31.0 286.8,31.6 288.0,32.3 289.2,32.8 290.4,33.3 291.6,34.0 292.8,34.4 294.0,35.0 295.2,35.5 296.4,36.1 297.6,36.6 298.8,37.2 300.0,37.6 301.2,38.2 302.4,38.7 303.6,39.2 304.8,39.7 306.0,40.3 307.2,40.6 308.4,41.1 309.6,41.6 310.8,42.1 312.0,42.5 313.2,43.0 314.4,43.5 315.6,44.1 316.8,44.5 318.0,44.9 319.2,45.4 320.4,45.9 321.6,46.4 322.8,46.8 324.0,47.2 325.2,47.6 326.4,48.3 327.6,48.7 328.8,49.0 330.0,49.6 331.2,50.1 332.4,50.5 333.6,50.8 334.8,51.3 336.0,51.7 337.2,52.1 338.4,52.6 339.6,53.0 340.8,53.6 342.0,54.0 343.2,54.4 344.4,54.9 345.6,55.3 346.8,55.6 348.0,56.0 349.2,56.4 350.4,56.8 351.6,57.4 352.8,57.9 354.0,58.2 355.2,58.6 356.4,59.1 357.6,59.6 358.8,60.0 360.0,60.3 361.2,60.8 362.4,61.3 363.6,61.7 364.8,62.1 366.0,62.4 367.2,63.0 368.4,63.3 369.6,63.7 370.8,64.2 372.0,64.6 373.2,65.1 374.4,65.5 375.6,65.8 376.8,66.3 378.0,66.8 379.2,67.3 380.4,67.7 381.6,68.2 382.8,68.6 384.0,69.0 385.2,69.4 386.4,69.7 387.6,70.2 388.8,70.7 390.0,71.0 391.2,71.6 392.4,71.9 393.6,72.4 394.8,73.0 396.0,73.2 397.2,73.6 398.4,74.1 399.6,74.5 400.8,75.1 402.0,75.4 403.2,76.0 404.4,76.5 405.6,77.0 406.8,77.3 408.0,77.7 409.2,78.2 410.4,78.6 411.6,79.1 412.8,79.5 414.0,79.9 415.2,80.5 416.4,81.0 417.6,81.5 418.8,81.7 420.0,82.1 421.2,82.7 422.4,83.2 423.6,83.6 424.8,83.9 426.0,84.3 427.2,84.9 428.4,85.4 429.6,86.1 430.8,86.6 432.0,87.0 433.2,87.6 434.4,88.0 435.6,88.3 436.8,88.9 438.0,89.0 439.2,89.6 440.4,90.1 441.6,90.4 442.8,91.0 444.0,91.7 445.2,92.0 446.4,92.5 447.6,92.8 448.8,93.2 450.0,94.0 451.2,94.1 452.4,94.5 453.6,95.3 454.8,95.7 456.0,95.9 457.2,96.7 458.4,97.0 459.6,97.6 460.8,98.0 462.0,98.5 463.2,99.0 464.4,99.4 465.6,99.7 466.8,100.1 468.0,101.1 469.2,101.4 470.4,101.6 471.6,102.5 472.8,102.7 474.0,103.0 475.2,103.7 476.4,104.0 477.6,104.6 478.8,105.2 480.0,105.4 481.2,106.1 482.4,106.3 483.6,107.0 484.8,107.6 486.0,107.7 487.2,108.3 488.4,108.6 489.6,109.3 490.8,110.1 492.0,110.5 493.2,111.0 494.4,111.6 495.6,111.6 496.8,112.6 498.0,113.0 499.2,113.0 500.4,113.9 501.6,114.1 502.8,114.4 504.0,115.4 505.2,115.7 506.4,116.3 507.6,116.3 508.8,117.2 510.0,117.2 511.2,117.7 512.4,118.3 513.6,118.5 514.8,119.3 516.0,119.6 517.2,120.1 518.4,120.9 519.6,121.2 520.8,122.1 522.0,122.4 523.2,123.0 524.4,123.3 525.6,124.0 526.8,124.5 528.0,124.3 529.2,125.2 530.4,125.4 531.6,126.2 532.8,126.6 534.0,127.2 535.2,127.1 536.4,127.6 537.6,128.4 538.8,129.2 540.0,129.5 541.2,129.3 542.4,130.1 543.6,130.2 544.8,131.0 546.0,131.8 547.2,131.6 548.4,132.8 549.6,133.1 550.8,133.1 552.0,133.4 553.2,134.1 554.4,135.0 555.6,135.3 556.8,135.3 558.0,135.5 559.2,136.0 560.4,137.2 561.6,137.1 562.8,137.9 564.0,138.1 565.2,138.9 566.4,139.2 567.6,139.3 568.8,140.5 570.0,140.7 571.2,141.3 572.4,141.9 573.6,142.6 574.8,142.0 576.0,142.6 577.2,142.8 578.4,143.6 579.6,144.6 580.8,145.1 582.0,144.7 583.2,145.1 584.4,146.2 585.6,146.7 586.8,146.8 588.0,147.3 589.2,147.3 590.4,148.5 591.6,148.6 592.8,149.5 594.0,149.8 595.2,149.5 596.4,150.1 597.6,150.4 598.8,151.7 600.0,152.0 601.2,151.7 602.4,152.1 603.6,152.8 604.8,153.4 606.0,154.0 607.2,154.3 608.4,154.6 609.6,154.6 610.8,155.6 612.0,155.9 613.2,155.9 614.4,156.8 615.6,158.1 616.8,157.4 618.0,157.8 619.2,158.9 620.4,158.9 621.6,159.3 622.8,160.0 624.0,160.2 625.2,161.0 626.4,161.5 627.6,162.5 628.8,163.1 630.0,162.3 631.2,163.1 632.4,164.0 633.6,164.7 634.8,165.0 636.0,165.2 637.2,165.6 638.4,165.7 639.6,165.9 640.8,167.0 642.0,167.7 643.2,168.3 644.4,168.4 645.6,168.3 646.8,169.2 648.0,169.7 649.2,169.9 650.4,170.4 651.6,170.5 652.8,171.1 654.0,171.4 655.2,171.3 656.4,172.0 657.6,172.5 658.8,173.9 660.0,173.9 661.2,174.0 662.4,174.2 663.6,174.6 664.8,175.2 666.0,175.4 667.2,175.6 668.4,177.2 669.6,177.3 670.8,177.7 672.0,178.3 673.2,178.4 674.4,178.6 675.6,178.8 676.8,179.5 678.0,180.1 679.2,181.1 680.4,181.5 681.6,182.4 682.8,182.2 684.0,183.3 685.2,183.4 686.4,183.1 687.6,183.5 688.8,184.5 690.0,185.6 691.2,185.4 692.4,186.2 693.6,186.3 694.8,187.3 696.0,186.8 697.2,187.5 698.4,188.7 699.6,188.4 700.8,188.7 702.0,188.8 703.2,189.3 704.4,189.9 705.6,191.1 706.8,191.0 708.0,191.6 709.2,191.8 710.4,192.8 711.6,193.7 712.8,194.0 714.0,193.8 715.2,194.8 716.4,195.7 717.6,195.8 718.8,195.4 720.0,196.7 721.2,197.5 722.4,197.3 723.6,197.3 724.8,197.7 726.0,198.6 727.2,199.7 728.4,200.0 729.6,200.8 730.8,200.3 732.0,200.7 733.2,201.8 734.4,202.2 735.6,202.3 736.8,203.1 738.0,203.2 739.2,203.1 740.4,204.0 741.6,204.0 742.8,205.2 744.0,205.4 745.2,206.0 746.4,206.6 747.6,206.7 748.8,207.3 750.0,207.2 751.2,208.7 752.4,209.0 753.6,210.0 754.8,209.2 756.0,210.2 757.2,210.9 758.4,210.8 759.6,210.8 760.8,211.2 762.0,211.7 763.2,213.0 764.4,212.7 765.6,213.9 766.8,214.0 768.0,214.5 769.2,215.0 770.4,215.4 771.6,216.0 772.8,216.4 774.0,216.4 775.2,217.3 776.4,217.1 777.6,218.0 778.8,218.6 780.0,219.1 781.2,218.9 782.4,219.8 783.6,220.6 784.8,220.3 786.0,220.6" fill="none" stroke="#77AC30" stroke-width="2.6" stroke-linejoin="round" stroke-linecap="round" />
<polyline points="280.0,31.0 281.2,31.6 282.4,32.3 283.6,33.0 284.8,33.5 286.0,34.1 287.2,34.7 288.4,35.4 289.6,36.0 290.8,36.6 292.0,37.2 293.2,37.7 294.4,38.3 295.6,38.8 296.8,39.3 298.0,39.8 299.2,40.3 300.4,41.0 301.6,41.5 302.8,42.0 304.0,42.6 305.2,43.1 306.4,43.5 307.6,44.0 308.8,44.6 310.0,45.1 311.2,45.5 312.4,45.9 313.6,46.5 314.8,46.9 316.0,47.5 317.2,47.9 318.4,48.4 319.6,48.8 320.8,49.4 322.0,49.8 323.2,50.2 324.4,50.8 325.6,51.1 326.8,51.6 328.0,52.0 329.2,52.5 330.4,52.9 331.6,53.5 332.8,53.8 334.0,54.3 335.2,54.7 336.4,55.2 337.6,55.7 338.8,56.1 340.0,56.4 341.2,56.9 342.4,57.3 343.6,57.8 344.8,58.2 346.0,58.6 347.2,59.1 348.4,59.6 349.6,60.0 350.8,60.5 352.0,60.8 353.2,61.3 354.4,61.7 355.6,62.2 356.8,62.7 358.0,63.0 359.2,63.6 360.4,64.0 361.6,64.4 362.8,64.8 364.0,65.3 365.2,65.8 366.4,66.1 367.6,66.7 368.8,67.1 370.0,67.5 371.2,68.0 372.4,68.5 373.6,68.8 374.8,69.4 376.0,69.8 377.2,70.3 378.4,70.8 379.6,71.1 380.8,71.7 382.0,72.2 383.2,72.5 384.4,72.9 385.6,73.4 386.8,74.0 388.0,74.3 389.2,75.0 390.4,75.3 391.6,75.9 392.8,76.2 394.0,76.7 395.2,77.3 396.4,77.6 397.6,78.2 398.8,78.8 400.0,79.3 401.2,79.8 402.4,80.4 403.6,80.6 404.8,81.0 406.0,81.7 407.2,82.2 408.4,82.5 409.6,83.1 410.8,83.5 412.0,84.1 413.2,84.5 414.4,84.9 415.6,85.7 416.8,86.1 418.0,86.8 419.2,87.0 420.4,87.6 421.6,88.0 422.8,88.6 424.0,89.0 425.2,89.7 426.4,90.0 427.6,90.7 428.8,91.2 430.0,91.5 431.2,92.1 432.4,92.7 433.6,93.4 434.8,93.7 436.0,94.1 437.2,95.0 438.4,95.6 439.6,96.0 440.8,96.3 442.0,96.7 443.2,97.2 444.4,97.7 445.6,98.1 446.8,98.9 448.0,99.4 449.2,100.0 450.4,100.5 451.6,100.8 452.8,101.6 454.0,102.2 455.2,102.7 456.4,103.2 457.6,103.8 458.8,104.5 460.0,105.1 461.2,105.5 462.4,105.8 463.6,106.2 464.8,106.8 466.0,107.7 467.2,107.9 468.4,108.4 469.6,108.9 470.8,109.3 472.0,110.3 473.2,110.3 474.4,111.1 475.6,111.9 476.8,112.1 478.0,112.7 479.2,113.1 480.4,113.6 481.6,114.0 482.8,114.5 484.0,115.5 485.2,116.1 486.4,116.7 487.6,116.7 488.8,117.5 490.0,117.9 491.2,118.6 492.4,119.1 493.6,119.4 494.8,120.4 496.0,120.3 497.2,121.2 498.4,122.0 499.6,122.3 500.8,122.8 502.0,123.6 503.2,123.6 504.4,124.4 505.6,125.0 506.8,125.3 508.0,126.0 509.2,126.3 510.4,126.9 511.6,127.5 512.8,128.1 514.0,128.3 515.2,129.0 516.4,129.5 517.6,129.8 518.8,130.6 520.0,130.8 521.2,131.9 522.4,132.1 523.6,132.8 524.8,133.2 526.0,133.6 527.2,133.9 528.4,134.3 529.6,135.5 530.8,135.8 532.0,136.2 533.2,136.7 534.4,137.5 535.6,137.6 536.8,137.9 538.0,139.0 539.2,139.3 540.4,139.9 541.6,140.6 542.8,141.3 544.0,141.8 545.2,141.5 546.4,142.1 547.6,143.1 548.8,143.7 550.0,143.6 551.2,143.9 552.4,144.5 553.6,144.9 554.8,145.6 556.0,146.7 557.2,147.0 558.4,147.4 559.6,147.5 560.8,148.2 562.0,149.4 563.2,149.8 564.4,150.0 565.6,150.5 566.8,151.3 568.0,151.9 569.2,151.7 570.4,152.7 571.6,152.9 572.8,153.6 574.0,153.8 575.2,154.4 576.4,154.9 577.6,155.4 578.8,155.5 580.0,156.1 581.2,157.1 582.4,157.1 583.6,157.7 584.8,158.8 586.0,159.0 587.2,159.5 588.4,159.9 589.6,161.1 590.8,160.9 592.0,161.9 593.2,162.8 594.4,162.6 595.6,163.3 596.8,164.3 598.0,164.7 599.2,164.9 600.4,165.0 601.6,165.9 602.8,166.4 604.0,167.4 605.2,167.5 606.4,168.1 607.6,168.9 608.8,169.8 610.0,169.8 611.2,170.2 612.4,171.0 613.6,172.1 614.8,171.8 616.0,173.2 617.2,173.6 618.4,173.7 619.6,174.5 620.8,174.7 622.0,174.8 623.2,176.2 624.4,176.5 625.6,177.1 626.8,177.7 628.0,178.9 629.2,179.4 630.4,178.9 631.6,180.0 632.8,180.6 634.0,181.2 635.2,182.3 636.4,182.4 637.6,183.0 638.8,184.1 640.0,184.3 641.2,184.8 642.4,185.4 643.6,186.5 644.8,187.0 646.0,187.7 647.2,187.9 648.4,187.9 649.6,189.2 650.8,189.9 652.0,190.8 653.2,191.5 654.4,191.3 655.6,191.8 656.8,192.3 658.0,193.9 659.2,193.8 660.4,194.3 661.6,195.8 662.8,196.4 664.0,196.4 665.2,197.7 666.4,198.6 667.6,199.0 668.8,199.1 670.0,200.5 671.2,201.0 672.4,201.8 673.6,203.2 674.8,203.8 676.0,204.5 677.2,204.2 678.4,205.0 679.6,205.9 680.8,206.0 682.0,207.9 683.2,208.0 684.4,208.5 685.6,209.3 686.8,209.9 688.0,211.5 689.2,212.0 690.4,212.7 691.6,213.3 692.8,213.5 694.0,214.5 695.2,216.1 696.4,217.0 697.6,217.8 698.8,217.8 700.0,218.3 701.2,218.8 702.4,220.2 703.6,220.9 704.8,221.8 706.0,222.7 707.2,223.6 708.4,224.2 709.6,225.5 710.8,225.6 712.0,227.3 713.2,227.8 714.4,227.8 715.6,228.8 716.8,230.0 718.0,230.8 719.2,231.8 720.4,232.4 721.6,233.1 722.8,234.6 724.0,234.9 725.2,236.2 726.4,237.3 727.6,237.9 728.8,238.5 730.0,240.0 731.2,240.3 732.4,241.7 733.6,241.5 734.8,242.6 736.0,243.8 737.2,244.0 738.4,245.8 739.6,245.8 740.8,247.2 742.0,247.6 743.2,249.4 744.4,250.0 745.6,251.2 746.8,251.7 748.0,252.7 749.2,253.6 750.4,254.0 751.6,254.6 752.8,256.3 754.0,256.4 755.2,258.2 756.4,258.3 757.6,258.8 758.8,259.6 760.0,261.4 761.2,262.7 762.4,262.9 763.6,264.0 764.8,264.3 766.0,266.0 767.2,266.7 768.4,266.8 769.6,267.3 770.8,269.0 772.0,269.1 773.2,270.9 774.4,271.2 775.6,271.8 776.8,273.0 778.0,273.6 779.2,274.7 780.4,275.0 781.6,276.7 782.8,276.9 784.0,278.3 785.2,278.2 786.4,279.4" fill="none" stroke="#7E2F8E" stroke-width="2.6" stroke-linejoin="round" stroke-linecap="round" />
<polyline points="274.8,31.0 275.9,31.6 277.1,32.2 278.3,32.6 279.5,33.0 280.7,33.6 281.9,34.1 283.1,34.6 284.3,35.2 285.5,35.6 286.7,36.2 287.9,36.7 289.1,37.2 290.3,37.8 291.5,38.2 292.7,38.8 293.9,39.2 295.1,39.8 296.3,40.4 297.5,40.9 298.7,41.3 299.9,41.7 301.1,42.2 302.3,42.8 303.5,43.3 304.7,43.9 305.9,44.2 307.1,44.7 308.3,45.3 309.5,45.8 310.7,46.3 311.9,46.7 313.1,47.1 314.3,47.7 315.5,48.3 316.7,48.8 317.9,49.2 319.1,49.8 320.3,50.1 321.5,50.7 322.7,51.3 323.9,51.7 325.1,52.3 326.3,52.7 327.5,53.1 328.7,53.6 329.9,54.1 331.1,54.6 332.3,55.2 333.5,55.5 334.7,56.1 335.9,56.6 337.1,57.0 338.3,57.6 339.5,58.0 340.7,58.5 341.9,59.1 343.1,59.6 344.3,60.0 345.5,60.4 346.7,61.0 347.9,61.4 349.1,62.0 350.3,62.4 351.5,63.0 352.7,63.4 353.9,63.9 355.1,64.5 356.3,64.9 357.5,65.3 358.7,66.0 359.9,66.4 361.1,67.0 362.3,67.5 363.5,67.9 364.7,68.3 365.9,68.8 367.1,69.4 368.3,69.8 369.5,70.4 370.7,70.9 371.9,71.3 373.1,71.8 374.3,72.3 375.5,72.8 376.7,73.4 377.9,73.8 379.1,74.3 380.3,74.8 381.5,75.3 382.7,75.7 383.9,76.3 385.1,76.9 386.3,77.4 387.5,78.0 388.7,78.3 389.9,79.0 391.1,79.4 392.3,80.0 393.5,80.4 394.7,80.9 395.9,81.3 397.1,82.0 398.3,82.3 399.5,82.8 400.7,83.3 401.9,83.9 403.1,84.4 404.3,84.9 405.5,85.6 406.7,85.9 407.9,86.5 409.1,86.9 410.3,87.5 411.5,88.1 412.7,88.6 413.9,88.9 415.1,89.4 416.3,90.1 417.5,90.8 418.7,91.0 419.9,91.7 421.1,92.2 422.3,92.8 423.5,93.2 424.7,93.9 425.9,94.3 427.1,95.0 428.3,95.1 429.5,96.0 430.7,96.3 431.9,96.8 433.1,97.2 434.3,97.8 435.5,98.5 436.7,99.1 437.9,99.4 439.1,99.9 440.3,100.4 441.5,100.9 442.7,101.5 443.9,102.0 445.1,102.9 446.3,103.6 447.5,104.0 448.7,104.4 449.9,104.9 451.1,105.6 452.3,106.2 453.5,106.7 454.7,107.1 455.9,107.4 457.1,108.1 458.3,108.9 459.5,109.4 460.7,109.5 461.9,110.4 463.1,110.8 464.3,111.1 465.5,112.2 466.7,112.6 467.9,113.2 469.1,113.4 470.3,114.3 471.5,115.0 472.7,115.6 473.9,116.0 475.1,116.6 476.3,117.2 477.5,117.6 478.7,118.0 479.9,118.8 481.1,119.4 482.3,120.0 483.5,120.2 484.7,121.1 485.9,121.5 487.1,122.3 488.3,122.3 489.5,123.4 490.7,123.9 491.9,124.1 493.1,125.0 494.3,125.2 495.5,125.6 496.7,126.4 497.9,126.8 499.1,127.6 500.3,128.5 501.5,129.0 502.7,129.6 503.9,129.9 505.1,130.7 506.3,131.4 507.5,131.9 508.7,132.7 509.9,133.2 511.1,133.4 512.3,133.6 513.5,134.6 514.7,135.5 515.9,135.7 517.1,136.4 518.3,137.2 519.5,137.8 520.7,137.7 521.9,138.6 523.1,138.8 524.3,139.4 525.5,140.6 526.7,141.0 527.9,141.8 529.1,142.2 530.3,142.7 531.5,143.2 532.7,143.9 533.9,144.9 535.1,145.5 536.3,145.7 537.5,146.1 538.7,146.8 539.9,147.8 541.1,148.3 542.3,149.1 543.5,149.9 544.7,149.9 545.9,150.9 547.1,150.9 548.3,152.2 549.5,152.3 550.7,152.9 551.9,154.3 553.1,154.4 554.3,154.8 555.5,156.1 556.7,156.6 557.9,157.4 559.1,157.6 560.3,158.2 561.5,159.4 562.7,159.6 563.9,160.7 565.1,160.6 566.3,161.7 567.5,161.8 568.7,162.7 569.9,162.8 571.1,163.5 572.3,165.0 573.5,165.3 574.7,166.3 575.9,166.4 577.1,167.0 578.3,167.4 579.5,168.5 580.7,169.6 581.9,170.0 583.1,170.4 584.3,171.6 585.5,172.4 586.7,172.8 587.9,172.7 589.1,173.9 590.3,174.4 591.5,175.7 592.7,175.8 593.9,176.7 595.1,177.4 596.3,177.8 597.5,178.5 598.7,179.4 599.9,180.5 601.1,180.7 602.3,181.1 603.5,182.5 604.7,182.2 605.9,183.7 607.1,184.4 608.3,184.9 609.5,185.4 610.7,186.5 611.9,187.5 613.1,188.0 614.3,188.7 615.5,188.5 616.7,189.3 617.9,189.8 619.1,191.6 620.3,192.5 621.5,192.2 622.7,193.3 623.9,194.1 625.1,194.2 626.3,195.2 627.5,196.5 628.7,197.2 629.9,197.4 631.1,198.7 632.3,199.0 633.5,199.9 634.7,200.6 635.9,202.1 637.1,202.5 638.3,203.5 639.5,204.1 640.7,204.4 641.9,205.8 643.1,206.4 644.3,207.1 645.5,207.3 646.7,207.8 647.9,209.1 649.1,210.3 650.3,211.2 651.5,211.4 652.7,211.7 653.9,212.9 655.1,214.3 656.3,214.3 657.5,215.7 658.7,215.8 659.9,216.7 661.1,217.1 662.3,218.2 663.5,219.2 664.7,220.9 665.9,221.9 667.1,221.7 668.3,222.5 669.5,224.2 670.7,224.2 671.9,225.0 673.1,226.0 674.3,226.4 675.5,227.4 676.7,228.5 677.9,229.4 679.1,231.1 680.3,231.2 681.5,231.7 682.7,233.5 683.9,234.0 685.1,235.3 686.3,236.1 687.5,237.1 688.7,237.4 689.9,237.9 691.1,239.6 692.3,240.3 693.5,241.3 694.7,242.3 695.9,243.4 697.1,243.7 698.3,244.6 699.5,246.3 700.7,246.9 701.9,247.4 703.1,248.8 704.3,249.3 705.5,250.9 706.7,250.9 707.9,252.8 709.1,253.6 710.3,254.3 711.5,256.0 712.7,256.2 713.9,257.0 715.1,257.7 716.3,259.3 717.5,260.7 718.7,261.8 719.9,262.4 721.1,263.9 722.3,264.1 723.5,265.2 724.7,266.7 725.9,268.3 727.1,269.0 728.3,270.1 729.5,271.3 730.7,271.8 731.9,273.5 733.1,274.5 734.3,275.0 735.5,276.0 736.7,277.7 737.9,278.3 739.1,279.0 740.3,281.0 741.5,281.9 742.7,282.9 743.9,284.3 745.1,285.8 746.3,285.9 747.5,287.1 748.7,287.9 749.9,289.5 751.1,290.9 752.3,292.6 753.5,293.7 754.7,294.7 755.9,295.6 757.1,297.0 758.3,297.8 759.5,299.8 760.7,301.1 761.9,302.4 763.1,302.7 764.3,304.5 765.5,306.0 766.7,306.9 767.9,308.7 769.1,310.1 770.3,311.2 771.5,312.6 772.7,313.6 773.9,315.2 775.1,315.5 776.3,317.4 777.5,318.9 778.7,320.2 779.9,321.0 781.1,322.0 782.3,324.0 783.5,325.8 784.7,326.5 785.9,328.1" fill="none" stroke="#EDB120" stroke-width="2.6" stroke-linejoin="round" stroke-linecap="round" />
<polyline points="270.6,31.0 271.8,31.5 273.0,32.1 274.2,32.7 275.4,33.4 276.6,34.1 277.8,34.7 279.0,35.2 280.2,35.8 281.4,36.3 282.6,37.0 283.8,37.5 285.0,37.9 286.2,38.6 287.4,39.1 288.6,39.7 289.8,40.2 291.0,40.8 292.2,41.4 293.4,42.0 294.6,42.4 295.8,43.0 297.0,43.4 298.2,44.0 299.4,44.6 300.6,45.1 301.8,45.6 303.0,46.1 304.2,46.6 305.4,47.2 306.6,47.6 307.8,48.2 309.0,48.8 310.2,49.2 311.4,49.6 312.6,50.2 313.8,50.6 315.0,51.2 316.2,51.7 317.4,52.1 318.6,52.7 319.8,53.2 321.0,53.7 322.2,54.2 323.4,54.7 324.6,55.2 325.8,55.6 327.0,56.2 328.2,56.8 329.4,57.2 330.6,57.7 331.8,58.1 333.0,58.7 334.2,59.0 335.4,59.5 336.6,60.0 337.8,60.5 339.0,61.1 340.2,61.6 341.4,62.0 342.6,62.5 343.8,62.9 345.0,63.4 346.2,63.9 347.4,64.4 348.6,65.0 349.8,65.4 351.0,65.9 352.2,66.3 353.4,66.9 354.6,67.3 355.8,67.8 357.0,68.4 358.2,68.9 359.4,69.4 360.6,69.9 361.8,70.4 363.0,70.9 364.2,71.4 365.4,71.9 366.6,72.2 367.8,72.7 369.0,73.2 370.2,73.8 371.4,74.4 372.6,74.8 373.8,75.3 375.0,75.8 376.2,76.2 377.4,76.8 378.6,77.4 379.8,77.8 381.0,78.2 382.2,78.7 383.4,79.3 384.6,79.9 385.8,80.5 387.0,80.9 388.2,81.3 389.4,81.8 390.6,82.3 391.8,83.0 393.0,83.5 394.2,84.1 395.4,84.6 396.6,85.1 397.8,85.6 399.0,86.2 400.2,86.5 401.4,87.0 402.6,87.6 403.8,88.2 405.0,88.6 406.2,89.1 407.4,89.6 408.6,90.4 409.8,90.9 411.0,91.5 412.2,92.1 413.4,92.5 414.6,93.1 415.8,93.5 417.0,94.2 418.2,94.8 419.4,95.0 420.6,95.5 421.8,96.1 423.0,96.8 424.2,97.3 425.4,97.7 426.6,98.5 427.8,99.1 429.0,99.6 430.2,99.9 431.4,100.8 432.6,101.2 433.8,101.6 435.0,102.2 436.2,102.9 437.4,103.6 438.6,104.0 439.8,104.7 441.0,105.0 442.2,105.5 443.4,106.4 444.6,106.8 445.8,107.2 447.0,108.0 448.2,108.4 449.4,108.9 450.6,109.6 451.8,110.3 453.0,111.0 454.2,111.6 455.4,112.0 456.6,112.4 457.8,113.3 459.0,113.5 460.2,114.3 461.4,114.9 462.6,115.6 463.8,116.3 465.0,116.6 466.2,117.4 467.4,118.1 468.6,118.5 469.8,118.9 471.0,119.9 472.2,120.4 473.4,120.6 474.6,121.3 475.8,122.4 477.0,122.6 478.2,123.2 479.4,124.1 480.6,124.8 481.8,125.3 483.0,126.0 484.2,126.1 485.4,126.6 486.6,127.8 487.8,128.5 489.0,128.6 490.2,129.0 491.4,129.8 492.6,130.9 493.8,131.1 495.0,132.0 496.2,132.9 497.4,133.4 498.6,134.2 499.8,134.3 501.0,134.8 502.2,135.2 503.4,136.4 504.6,136.6 505.8,137.9 507.0,138.5 508.2,138.7 509.4,139.7 510.6,139.9 511.8,140.7 513.0,141.1 514.2,142.2 515.4,143.1 516.6,143.8 517.8,143.7 519.0,144.9 520.2,145.4 521.4,146.3 522.6,146.7 523.8,147.4 525.0,148.0 526.2,148.9 527.4,148.9 528.6,149.4 529.8,150.5 531.0,151.0 532.2,151.7 533.4,152.1 534.6,153.3 535.8,153.5 537.0,154.8 538.2,155.6 539.4,156.0 540.6,156.2 541.8,157.3 543.0,157.7 544.2,158.5 545.4,158.9 546.6,160.4 547.8,160.8 549.0,161.3 550.2,161.6 551.4,162.9 552.6,163.9 553.8,164.6 555.0,164.6 556.2,165.4 557.4,166.0 558.6,167.2 559.8,167.4 561.0,168.4 562.2,169.6 563.4,170.3 564.6,170.1 565.8,170.7 567.0,171.4 568.2,172.8 569.4,173.6 570.6,174.2 571.8,174.9 573.0,175.5 574.2,176.5 575.4,177.3 576.6,178.4 577.8,179.0 579.0,179.8 580.2,180.7 581.4,181.4 582.6,182.0 583.8,181.9 585.0,183.2 586.2,184.3 587.4,184.6 588.6,185.8 589.8,185.9 591.0,187.4 592.2,187.7 593.4,188.7 594.6,189.0 595.8,189.7 597.0,190.5 598.2,191.3 599.4,191.8 600.6,193.0 601.8,194.5 603.0,195.1 604.2,196.2 605.4,196.9 606.6,197.8 607.8,198.8 609.0,199.4 610.2,199.5 611.4,200.1 612.6,201.1 613.8,201.4 615.0,202.4 616.2,204.2 617.4,205.3 618.6,205.4 619.8,206.7 621.0,207.6 622.2,208.7 623.4,209.5 624.6,209.9 625.8,210.1 627.0,211.8 628.2,212.2 629.4,213.4 630.6,214.0 631.8,215.0 633.0,216.6 634.2,216.5 635.4,217.7 636.6,218.8 637.8,219.6 639.0,221.1 640.2,221.4 641.4,222.8 642.6,223.6 643.8,224.9 645.0,224.7 646.2,225.5 647.4,226.5 648.6,228.3 649.8,228.3 651.0,229.3 652.2,230.9 653.4,232.4 654.6,232.4 655.8,233.5 657.0,234.8 658.2,235.9 659.4,237.0 660.6,238.1 661.8,238.4 663.0,239.2 664.2,239.8 665.4,241.7 666.6,242.2 667.8,243.2 669.0,245.2 670.2,246.1 671.4,247.0 672.6,248.1 673.8,249.1 675.0,250.2 676.2,250.8 677.4,251.4 678.6,252.3 679.8,253.3 681.0,254.9 682.2,255.8 683.4,256.8 684.6,258.4 685.8,260.3 687.0,261.2 688.2,261.7 689.4,263.3 690.6,263.8 691.8,264.6 693.0,266.0 694.2,267.3 695.4,268.9 696.6,269.8 697.8,271.3 699.0,271.7 700.2,273.8 701.4,274.4 702.6,276.2 703.8,276.4 705.0,278.4 706.2,279.0 707.4,281.0 708.6,282.3 709.8,283.3 711.0,284.0 712.2,284.7 713.4,286.1 714.6,288.3 715.8,288.8 717.0,290.6 718.2,291.9 719.4,293.2 720.6,293.9 721.8,294.9 723.0,296.1 724.2,298.6 725.4,299.4 726.6,300.9 727.8,302.2 729.0,303.0 730.2,304.0 731.4,305.2 732.6,307.7 733.8,308.3 735.0,310.6 736.2,311.4 737.4,313.1 738.6,313.8 739.8,315.9 741.0,316.7 742.2,318.1 743.4,319.7 744.6,320.6 745.8,322.1 747.0,324.3 748.2,325.2 749.4,326.6 750.6,328.6 751.8,329.4 753.0,330.6 754.2,332.1 755.4,333.8 756.6,335.3 757.8,337.1 759.0,338.5 760.2,340.5 761.4,340.9 762.6,343.0 763.8,344.9 765.0,345.7 766.2,346.7 767.4,348.7 768.6,349.9 769.8,351.8 771.0,353.8 772.2,354.6 773.4,356.0 774.6,358.0 775.8,359.2 777.0,360.8 778.2,362.7 779.4,363.9 780.6,365.3 781.8,367.2 783.0,369.0 784.2,371.4 785.4,372.4" fill="none" stroke="#D95319" stroke-width="2.6" stroke-linejoin="round" stroke-linecap="round" />
<polyline points="266.2,30.9 267.4,31.6 268.6,32.2 269.8,32.9 271.0,33.7 272.2,34.3 273.4,35.0 274.6,35.7 275.8,36.3 277.0,36.8 278.2,37.5 279.4,38.1 280.6,38.6 281.8,39.2 283.0,39.9 284.2,40.4 285.4,40.9 286.6,41.5 287.8,42.3 289.0,42.8 290.2,43.4 291.4,43.8 292.6,44.4 293.8,45.0 295.0,45.5 296.2,46.1 297.4,46.6 298.6,47.1 299.8,47.8 301.0,48.3 302.2,48.7 303.4,49.2 304.6,49.9 305.8,50.4 307.0,50.8 308.2,51.4 309.4,52.0 310.6,52.5 311.8,52.9 313.0,53.4 314.2,54.0 315.4,54.5 316.6,54.9 317.8,55.5 319.0,56.1 320.2,56.6 321.4,57.1 322.6,57.5 323.8,58.1 325.0,58.4 326.2,58.9 327.4,59.5 328.6,60.0 329.8,60.4 331.0,60.8 332.2,61.3 333.4,61.9 334.6,62.3 335.8,62.8 337.0,63.4 338.2,63.9 339.4,64.4 340.6,64.8 341.8,65.4 343.0,65.7 344.2,66.4 345.4,66.7 346.6,67.3 347.8,67.8 349.0,68.3 350.2,68.8 351.4,69.3 352.6,69.8 353.8,70.2 355.0,70.8 356.2,71.2 357.4,71.8 358.6,72.2 359.8,72.6 361.0,73.3 362.2,73.7 363.4,74.2 364.6,74.6 365.8,75.2 367.0,75.6 368.2,76.1 369.4,76.6 370.6,77.2 371.8,77.6 373.0,78.2 374.2,78.7 375.4,79.2 376.6,79.7 377.8,80.3 379.0,80.7 380.2,81.2 381.4,81.7 382.6,82.4 383.8,82.8 385.0,83.3 386.2,83.9 387.4,84.4 388.6,85.0 389.8,85.4 391.0,85.9 392.2,86.4 393.4,87.0 394.6,87.6 395.8,88.1 397.0,88.8 398.2,89.3 399.4,89.9 400.6,90.5 401.8,90.8 403.0,91.5 404.2,91.9 405.4,92.3 406.6,93.1 407.8,93.5 409.0,93.9 410.2,94.6 411.4,95.1 412.6,96.0 413.8,96.5 415.0,96.9 416.2,97.5 417.4,98.2 418.6,98.8 419.8,99.3 421.0,99.8 422.2,100.2 423.4,100.8 424.6,101.5 425.8,102.1 427.0,102.8 428.2,103.5 429.4,104.1 430.6,104.4 431.8,104.8 433.0,105.8 434.2,106.3 435.4,106.7 436.6,107.5 437.8,107.9 439.0,108.5 440.2,109.1 441.4,109.8 442.6,110.5 443.8,110.8 445.0,111.7 446.2,112.3 447.4,112.9 448.6,113.6 449.8,114.3 451.0,114.5 452.2,115.3 453.4,116.1 454.6,116.7 455.8,117.4 457.0,117.7 458.2,118.7 459.4,119.4 460.6,119.7 461.8,120.3 463.0,121.3 464.2,121.6 465.4,122.2 466.6,123.2 467.8,123.9 469.0,124.2 470.2,125.0 471.4,125.5 472.6,126.3 473.8,127.1 475.0,127.3 476.2,128.0 477.4,128.6 478.6,129.3 479.8,129.8 481.0,130.5 482.2,131.4 483.4,132.1 484.6,132.5 485.8,133.5 487.0,134.5 488.2,135.0 489.4,135.5 490.6,136.4 491.8,136.9 493.0,137.4 494.2,138.2 495.4,138.6 496.6,139.7 497.8,140.1 499.0,140.9 500.2,142.1 501.4,142.8 502.6,143.5 503.8,144.1 505.0,144.7 506.2,145.5 507.4,146.4 508.6,146.6 509.8,147.6 511.0,148.0 512.2,148.6 513.4,149.8 514.6,150.4 515.8,151.3 517.0,152.1 518.2,152.6 519.4,153.0 520.6,153.4 521.8,154.6 523.0,155.6 524.2,155.9 525.4,156.4 526.6,157.0 527.8,157.9 529.0,159.1 530.2,159.4 531.4,160.2 532.6,161.0 533.8,162.2 535.0,163.3 536.2,163.2 537.4,163.9 538.6,165.4 539.8,166.4 541.0,166.4 542.2,167.2 543.4,168.1 544.6,168.7 545.8,169.6 547.0,170.4 548.2,171.0 549.4,171.5 550.6,172.3 551.8,173.1 553.0,173.8 554.2,175.2 555.4,176.2 556.6,176.6 557.8,177.8 559.0,178.7 560.2,179.1 561.4,179.9 562.6,180.4 563.8,182.0 565.0,182.6 566.2,182.8 567.4,183.5 568.6,184.9 569.8,185.6 571.0,186.7 572.2,187.1 573.4,188.4 574.6,189.4 575.8,189.5 577.0,190.7 578.2,191.2 579.4,192.5 580.6,193.6 581.8,194.5 583.0,194.7 584.2,195.2 585.4,196.7 586.6,197.6 587.8,198.0 589.0,198.8 590.2,200.1 591.4,200.5 592.6,201.9 593.8,202.4 595.0,203.3 596.2,204.3 597.4,205.4 598.6,206.6 599.8,206.7 601.0,208.3 602.2,208.7 603.4,209.6 604.6,210.9 605.8,212.0 607.0,212.9 608.2,214.2 609.4,214.3 610.6,215.2 611.8,216.6 613.0,217.1 614.2,217.8 615.4,218.8 616.6,220.4 617.8,221.7 619.0,222.5 620.2,223.8 621.4,224.6 622.6,224.9 623.8,225.7 625.0,227.2 626.2,227.4 627.4,229.0 628.6,229.4 629.8,230.2 631.0,231.8 632.2,232.5 633.4,234.5 634.6,235.7 635.8,236.2 637.0,236.7 638.2,237.5 639.4,239.0 640.6,240.2 641.8,241.1 643.0,242.6 644.2,243.5 645.4,244.8 646.6,245.0 647.8,245.9 649.0,247.3 650.2,248.6 651.4,249.5 652.6,251.1 653.8,251.7 655.0,252.8 656.2,254.1 657.4,255.6 658.6,256.9 659.8,257.6 661.0,258.7 662.2,260.5 663.4,261.8 664.6,262.6 665.8,262.9 667.0,264.4 668.2,265.9 669.4,266.6 670.6,267.4 671.8,269.8 673.0,271.2 674.2,271.3 675.4,272.7 676.6,274.2 677.8,275.1 679.0,275.9 680.2,278.0 681.4,279.5 682.6,280.3 683.8,281.0 685.0,282.5 686.2,283.4 687.4,285.8 688.6,286.1 689.8,287.5 691.0,289.5 692.2,290.1 693.4,291.2 694.6,292.4 695.8,293.8 697.0,295.7 698.2,297.6 699.4,298.2 700.6,299.4 701.8,301.5 703.0,302.6 704.2,303.8 705.4,304.8 706.6,306.3 707.8,308.7 709.0,309.2 710.2,310.6 711.4,312.7 712.6,314.5 713.8,316.1 715.0,316.9 716.2,318.9 717.4,320.0 718.6,321.0 719.8,322.6 721.0,324.5 722.2,326.1 723.4,326.8 724.6,328.2 725.8,330.8 727.0,331.4 728.2,333.7 729.4,334.7 730.6,336.1 731.8,337.6 733.0,339.4 734.2,341.8 735.4,342.5 736.6,344.8 737.8,345.9 739.0,347.1 740.2,349.5 741.4,350.7 742.6,352.1 743.8,354.0 745.0,356.3 746.2,358.2 747.4,359.5 748.6,360.3 749.8,362.9 751.0,364.6 752.2,366.7 753.4,368.6 754.6,369.5 755.8,371.8 757.0,373.6 758.2,374.6 759.4,376.4 760.6,378.2 761.8,379.9 763.0,381.8 764.2,383.2 765.4,385.1 766.6,387.9 767.8,389.3 769.0,391.4 770.2,393.6 771.4,395.4 772.6,396.6 773.8,399.2 775.0,401.1 776.2,403.3 777.4,404.9 778.6,406.8 779.8,408.8 781.0,410.0 782.2,412.4 783.4,414.0 784.6,416.6 785.8,418.1" fill="none" stroke="#0072BD" stroke-width="2.6" stroke-linejoin="round" stroke-linecap="round" />
</g>
<text x="175.0" y="590.5" font-size="31" font-style="italic" font-weight="normal" text-anchor="middle" >5</text>
<text x="262.25" y="590.5" font-size="31" font-style="italic" font-weight="normal" text-anchor="middle" >6</text>
<text x="349.5" y="590.5" font-size="31" font-style="italic" font-weight="normal" text-anchor="middle" >7</text>
<text x="436.75" y="590.5" font-size="31" font-style="italic" font-weight="normal" text-anchor="middle" >8</text>
<text x="524.0" y="590.5" font-size="31" font-style="italic" font-weight="normal" text-anchor="middle" >9</text>
<text x="611.25" y="590.5" font-size="31" font-style="italic" font-weight="normal" text-anchor="middle" >10</text>
<text x="698.5" y="590.5" font-size="31" font-style="italic" font-weight="normal" text-anchor="middle" >11</text>
<text x="785.75" y="590.5" font-size="31" font-style="italic" font-weight="normal" text-anchor="middle" >12</text>
<text x="79.3" y="127.55" font-size="31" font-style="italic" font-weight="normal" text-anchor="end" >-2</text>
<text x="79.3" y="214.35000000000002" font-size="31" font-style="italic" font-weight="normal" text-anchor="end" >-3</text>
<text x="79.3" y="301.15000000000003" font-size="31" font-style="italic" font-weight="normal" text-anchor="end" >-4</text>
<text x="79.3" y="387.95" font-size="31" font-style="italic" font-weight="normal" text-anchor="end" >-5</text>
<text x="79.3" y="474.75" font-size="31" font-style="italic" font-weight="normal" text-anchor="end" >-6</text>
<text x="79.3" y="561.55" font-size="31" font-style="italic" font-weight="normal" text-anchor="end" >-7</text>
<text x="407" y="618.5" font-size="31" font-style="italic">log<tspan font-size="23" dy="13">2</tspan><tspan dy="-13">t</tspan></text>
<text transform="translate(29.5,325.5) rotate(-90)" font-size="31" font-style="italic">log<tspan font-size="23" dy="14">2</tspan><tspan dy="-14">v</tspan></text>
<text transform="translate(-0.65,23.54) scale(1.0536,1.0000)" font-size="32.67" font-style="normal" font-weight="bold" >(a)</text>
<rect x="184.4" y="73.4" width="260.1" height="185.79999999999998" fill="#fff" stroke="#262626" stroke-width="1.1"/>
<clipPath id="clipA1"><rect x="184.4" y="73.4" width="260.1" height="185.79999999999998"/></clipPath>
<g clip-path="url(#clipA1)">
<polyline points="184.4,73.4 185.7,74.3 187.0,75.3 188.3,76.2 189.6,77.2 190.9,78.1 192.2,79.1 193.5,80.1 194.8,81.1 196.1,81.9 197.4,82.9 198.7,83.8 200.0,84.8 201.3,85.7 202.6,86.5 203.9,87.6 205.2,88.5 206.5,89.4 207.8,90.3 209.1,91.3 210.4,92.3 211.7,93.3 213.0,94.1 214.3,95.0 215.6,95.9 216.9,96.8 218.2,97.8 219.5,98.7 220.8,99.8 222.1,100.6 223.4,101.5 224.7,102.4 226.0,103.5 227.3,104.4 228.6,105.4 229.9,106.3 231.2,107.4 232.5,108.4 233.8,109.2 235.1,110.1 236.4,111.2 237.7,112.0 239.0,113.1 240.3,114.0 241.6,114.8 242.9,115.8 244.2,116.7 245.5,117.5 246.8,118.5 248.1,119.6 249.4,120.5 250.7,121.4 252.0,122.3 253.3,123.4 254.6,124.3 255.9,125.1 257.2,126.0 258.5,126.9 259.8,128.1 261.1,129.0 262.4,129.7 263.7,130.8 265.0,131.5 266.3,132.6 267.6,133.5 268.9,134.5 270.2,135.4 271.5,136.2 272.8,137.2 274.1,138.3 275.4,139.3 276.7,140.1 278.0,140.9 279.3,142.0 280.6,143.0 281.9,143.7 283.2,144.9 284.5,145.9 285.8,146.7 287.1,147.5 288.4,148.5 289.7,149.6 291.0,150.3 292.3,151.1 293.6,152.0 294.9,153.2 296.2,153.9 297.5,154.9 298.8,155.9 300.1,156.9 301.4,157.6 302.7,158.9 304.0,160.0 305.3,160.7 306.6,161.7 307.9,162.3 309.2,163.5 310.5,164.3 311.8,165.4 313.1,166.4 314.5,167.0 315.8,168.2 317.1,168.8 318.4,169.4 319.7,170.6 321.0,171.8 322.3,172.9 323.6,173.9 324.9,174.6 326.2,175.7 327.5,176.4 328.8,177.0 330.1,178.1 331.4,179.2 332.7,180.0 334.0,180.9 335.3,181.6 336.6,182.4 337.9,183.4 339.2,184.5 340.5,185.4 341.8,186.0 343.1,186.7 344.4,187.8 345.7,189.2 347.0,190.3 348.3,190.8 349.6,191.6 350.9,192.7 352.2,193.4 353.5,194.6 354.8,195.9 356.1,196.3 357.4,197.4 358.7,198.5 360.0,199.6 361.3,200.5 362.6,201.4 363.9,201.9 365.2,203.2 366.5,204.4 367.8,204.5 369.1,206.0 370.4,206.6 371.7,207.0 373.0,207.7 374.3,209.4 375.6,210.4 376.9,210.8 378.2,211.8 379.5,213.0 380.8,214.5 382.1,214.8 383.4,216.0 384.7,216.4 386.0,217.0 387.3,217.8 388.6,218.9 389.9,220.2 391.2,220.9 392.5,221.5 393.8,222.3 395.1,223.1 396.4,224.0 397.7,225.1 399.0,226.4 400.3,227.0 401.6,228.2 402.9,229.1 404.2,230.9 405.5,231.4 406.8,232.8 408.1,233.2 409.4,233.5 410.7,234.8 412.0,235.1 413.3,235.9 414.6,236.5 415.9,238.4 417.2,240.1 418.5,240.4 419.8,241.0 421.1,241.9 422.4,242.6 423.7,244.1 425.0,244.7 426.3,245.0 427.6,247.0 428.9,247.8 430.2,247.6 431.5,249.6 432.8,250.8 434.1,251.1 435.4,252.3 436.7,253.8 438.0,254.0 439.3,254.7 440.6,255.3 441.9,256.5 443.2,257.8 444.5,258.4" fill="none" stroke="#77AC30" stroke-width="2.4" stroke-linejoin="round" stroke-linecap="round" />
</g>
<polyline points="277.7,117.0 397.0,201.7" fill="none" stroke="#D95319" stroke-width="2.3" stroke-linejoin="round" stroke-linecap="round" />
<rect x="184.4" y="73.4" width="260.1" height="185.79999999999998" fill="none" stroke="#262626" stroke-width="1.1"/>
<line x1="184.4" y1="259.2" x2="184.4" y2="255.7" stroke="#262626" stroke-width="1.1"/>
<line x1="184.4" y1="73.4" x2="184.4" y2="76.9" stroke="#262626" stroke-width="1.1"/>
<line x1="271.1" y1="259.2" x2="271.1" y2="255.7" stroke="#262626" stroke-width="1.1"/>
<line x1="271.1" y1="73.4" x2="271.1" y2="76.9" stroke="#262626" stroke-width="1.1"/>
<line x1="357.8" y1="259.2" x2="357.8" y2="255.7" stroke="#262626" stroke-width="1.1"/>
<line x1="357.8" y1="73.4" x2="357.8" y2="76.9" stroke="#262626" stroke-width="1.1"/>
<line x1="444.5" y1="259.2" x2="444.5" y2="255.7" stroke="#262626" stroke-width="1.1"/>
<line x1="444.5" y1="73.4" x2="444.5" y2="76.9" stroke="#262626" stroke-width="1.1"/>
<line x1="184.4" y1="79.1" x2="187.9" y2="79.1" stroke="#262626" stroke-width="1.3"/>
<line x1="444.5" y1="79.1" x2="441.0" y2="79.1" stroke="#262626" stroke-width="1.3"/>
<line x1="184.4" y1="160.3" x2="187.9" y2="160.3" stroke="#262626" stroke-width="1.3"/>
<line x1="444.5" y1="160.3" x2="441.0" y2="160.3" stroke="#262626" stroke-width="1.3"/>
<line x1="184.4" y1="241.5" x2="187.9" y2="241.5" stroke="#262626" stroke-width="1.3"/>
<line x1="444.5" y1="241.5" x2="441.0" y2="241.5" stroke="#262626" stroke-width="1.3"/>
<text transform="translate(184.40,293.50) scale(0.95,1)" font-size="28" font-style="italic" font-weight="normal" text-anchor="middle" >6</text>
<text transform="translate(271.10,293.50) scale(0.95,1)" font-size="28" font-style="italic" font-weight="normal" text-anchor="middle" >8</text>
<text transform="translate(357.80,293.50) scale(0.95,1)" font-size="28" font-style="italic" font-weight="normal" text-anchor="middle" >10</text>
<text transform="translate(444.50,293.50) scale(0.95,1)" font-size="28" font-style="italic" font-weight="normal" text-anchor="middle" >12</text>
<text transform="translate(174.50,88.60) scale(0.93,1)" font-size="28" font-style="italic" font-weight="normal" text-anchor="end" >-1</text>
<text transform="translate(174.50,169.80) scale(0.93,1)" font-size="28" font-style="italic" font-weight="normal" text-anchor="end" >-2</text>
<text transform="translate(174.50,251.00) scale(0.93,1)" font-size="28" font-style="italic" font-weight="normal" text-anchor="end" >-3</text>
<text x="285.5" y="326.2" font-size="29" font-style="italic">log<tspan font-size="21.5" dy="12">2</tspan><tspan dy="-12">t</tspan></text>
<text transform="translate(128.5,196.5) rotate(-90)" font-size="29" font-style="italic">log<tspan font-size="21.5" dy="12.5">2</tspan><tspan dy="-12.5">v</tspan></text>
<text transform="translate(244.59,104.94) scale(1.0976,1.0000)" font-size="30.71" font-style="italic" font-weight="normal" >δ</text>
<text transform="translate(258.39,108.07) scale(0.9954,1.0000)" font-size="32.41" font-style="normal" font-weight="bold" >=</text>
<text transform="translate(277.54,104.80) scale(1.0124,1.0000)" font-size="29.93" font-style="italic" font-weight="normal" stroke="#000" stroke-width="0.35">0.375</text>
<text transform="translate(346.41,104.90) scale(1.2487,1.0000)" font-size="33.93" font-style="normal" font-weight="normal" >±</text>
<text transform="translate(368.61,104.80) scale(0.9978,1.0000)" font-size="29.93" font-style="italic" font-weight="normal" stroke="#000" stroke-width="0.35">0.003</text>
<rect x="455.3" y="352.8" width="249.99999999999994" height="176.49999999999994" fill="#fff" stroke="#262626" stroke-width="1.1"/>
<clipPath id="clipA2"><rect x="455.3" y="352.8" width="249.99999999999994" height="176.49999999999994"/></clipPath>
<g clip-path="url(#clipA2)">
<line x1="457" y1="389" x2="705.3" y2="389" stroke="#FF0000" stroke-width="3.8" stroke-dasharray="4.1 4"/>
<polyline points="456.6,531.0 456.7,530.2 456.8,529.2 456.9,528.1 457.0,526.6 457.2,524.8 457.3,522.7 457.5,520.0 457.6,518.9 457.6,517.8 457.7,516.6 457.8,515.3 457.8,514.0 457.9,512.6 458.0,511.1 458.0,509.6 458.1,508.1 458.2,506.5 458.3,504.9 458.3,503.3 458.4,501.6 458.5,500.0 458.6,498.3 458.7,496.6 458.7,495.0 458.8,493.3 458.9,491.6 459.0,490.0 459.1,488.6 459.2,487.1 459.2,485.5 459.3,483.9 459.4,482.3 459.5,480.7 459.6,479.0 459.7,477.4 459.7,475.7 459.8,474.0 459.9,472.3 460.0,470.7 460.1,469.0 460.2,467.4 460.3,465.8 460.4,464.3 460.5,462.8 460.6,461.3 460.6,459.9 460.7,458.6 460.8,457.3 460.9,456.1 461.0,455.0 461.2,452.4 461.4,450.1 461.7,448.0 461.9,446.2 462.1,444.7 462.3,443.4 462.6,442.4 462.8,441.6 463.0,441.0 463.5,440.9 464.0,442.3 464.5,444.5 465.0,447.0 465.3,448.5 465.6,450.3 465.8,452.5 466.1,454.6 466.4,456.6 466.7,458.3 467.0,459.5 467.3,460.0 467.6,459.8 467.9,459.0 468.1,457.7 468.4,456.1 468.7,454.3 468.9,452.2 469.2,450.1 469.5,448.0 469.7,446.8 469.8,445.4 470.0,443.9 470.2,442.4 470.3,440.8 470.5,439.2 470.7,437.5 470.9,435.8 471.0,434.2 471.2,432.6 471.4,431.1 471.6,429.6 471.7,428.2 471.9,427.0 472.2,425.0 472.4,423.2 472.7,421.6 472.9,420.1 473.2,418.7 473.6,417.4 473.9,416.2 474.4,415.0 475.3,413.4 476.4,412.1 477.6,411.0 478.8,409.8 480.0,408.5 480.8,407.4 481.7,406.2 482.6,404.9 483.4,403.6 484.4,402.4 485.3,401.2 486.2,400.0 487.4,398.7 488.6,397.4 489.8,396.2 491.1,395.0 492.4,393.9 493.8,393.0 495.1,392.3 496.5,391.7 498.0,391.3 499.4,390.9 501.0,390.5 502.5,390.0 504.1,389.5 505.8,388.9 507.6,388.3 509.3,387.8 511.0,387.3 512.5,386.9 514.1,386.6 515.6,386.4 516.9,386.3 518.4,386.3 520.0,386.2 521.6,386.3 523.2,386.4 525.0,386.5 526.8,386.7 528.4,386.8 530.0,386.9 531.6,387.0 532.9,387.0 534.3,387.1 535.7,387.0 537.5,386.9 538.9,386.7 540.4,386.5 542.0,386.2 543.7,385.9 545.4,385.6 547.1,385.4 548.6,385.1 550.0,385.0 551.8,384.9 553.2,384.9 554.6,385.0 556.1,385.2 558.0,385.3 559.3,385.4 560.7,385.4 562.3,385.4 563.9,385.5 565.5,385.5 567.2,385.6 568.8,385.7 570.5,385.8 572.0,386.0 573.7,386.2 575.4,386.5 577.1,386.9 578.8,387.2 580.4,387.6 582.0,387.9 583.5,388.2 585.0,388.5 586.7,388.8 588.1,389.0 589.4,389.2 590.8,389.4 592.6,389.5 595.0,389.5 596.2,389.5 597.4,389.4 598.8,389.3 600.3,389.2 601.9,389.1 603.5,389.0 605.1,388.9 606.8,388.7 608.5,388.6 610.1,388.5 611.8,388.4 613.4,388.2 615.0,388.1 616.6,388.1 618.0,388.0 619.7,388.0 621.5,387.9 623.2,387.9 624.9,387.9 626.5,387.9 628.1,388.0 629.7,388.0 631.3,388.0 632.8,388.0 634.2,388.0 635.6,388.0 637.0,388.0 638.9,387.9 640.6,387.8 642.2,387.7 643.8,387.6 645.3,387.5 646.8,387.3 648.3,387.2 650.0,387.0 651.5,386.8 653.0,386.6 654.6,386.4 656.1,386.2 657.7,386.0 659.3,385.8 661.0,385.6 662.7,385.4 664.5,385.3 665.9,385.2 667.4,385.2 669.0,385.1 670.6,385.1 672.3,385.1 673.9,385.1 675.5,385.1 677.2,385.1 678.7,385.1 680.2,385.1 681.7,385.0 683.0,385.0 684.8,384.9 686.5,384.8 688.0,384.7 689.5,384.5 690.9,384.4 692.2,384.2 693.6,384.1 695.0,384.0 696.7,383.9 698.5,383.8 700.4,383.7 702.1,383.7 703.7,383.6 705.0,383.5 706.0,383.5" fill="none" stroke="#0072BD" stroke-width="3.8" stroke-linejoin="round" stroke-linecap="round" />
</g>
<rect x="455.3" y="352.8" width="249.99999999999994" height="176.49999999999994" fill="none" stroke="#262626" stroke-width="1.1"/>
<line x1="555.7" y1="529.3" x2="555.7" y2="525.3" stroke="#262626" stroke-width="1.2"/>
<line x1="555.7" y1="352.8" x2="555.7" y2="356.8" stroke="#262626" stroke-width="1.2"/>
<line x1="656.1" y1="529.3" x2="656.1" y2="525.3" stroke="#262626" stroke-width="1.2"/>
<line x1="656.1" y1="352.8" x2="656.1" y2="356.8" stroke="#262626" stroke-width="1.2"/>
<line x1="455.3" y1="352.8" x2="455.3" y2="356.8" stroke="#262626" stroke-width="1.2"/>
<line x1="455.3" y1="389" x2="459.3" y2="389" stroke="#262626" stroke-width="1.2"/>
<line x1="705.3" y1="389" x2="701.3" y2="389" stroke="#262626" stroke-width="1.2"/>
<line x1="455.3" y1="453.9" x2="459.3" y2="453.9" stroke="#262626" stroke-width="1.2"/>
<line x1="705.3" y1="453.9" x2="701.3" y2="453.9" stroke="#262626" stroke-width="1.2"/>
<line x1="455.3" y1="518.6" x2="459.3" y2="518.6" stroke="#262626" stroke-width="1.2"/>
<line x1="705.3" y1="518.6" x2="701.3" y2="518.6" stroke="#262626" stroke-width="1.2"/>
<text x="455.3" y="340" font-size="22.3" font-style="normal" font-weight="normal" text-anchor="middle" >0</text>
<text x="555.7" y="340" font-size="22.3" font-style="normal" font-weight="normal" text-anchor="middle" >100</text>
<text x="656.1" y="340" font-size="22.3" font-style="normal" font-weight="normal" text-anchor="middle" >200</text>
<text x="447.3" y="397.3" font-size="22.3" font-style="normal" font-weight="normal" text-anchor="end" >0.375</text>
<text x="447.3" y="462.2" font-size="22.3" font-style="normal" font-weight="normal" text-anchor="end" >0.37</text>
<text x="447.3" y="526.9" font-size="22.3" font-style="normal" font-weight="normal" text-anchor="end" >0.365</text>
<text x="583" y="313.5" font-size="21" font-style="italic" font-weight="normal" text-anchor="middle" >t</text>
<text transform="translate(387.5,443) rotate(-90)" font-size="25" font-style="italic">δ</text>
<rect x="89.5" y="709.6" width="697.7" height="524.9999999999999" fill="none" stroke="#262626" stroke-width="1.5"/>
<line x1="205.0" y1="1234.6" x2="205.0" y2="1227.6" stroke="#262626" stroke-width="1.5"/>
<line x1="205.0" y1="709.6" x2="205.0" y2="716.6" stroke="#262626" stroke-width="1.5"/>
<line x1="321.25" y1="1234.6" x2="321.25" y2="1227.6" stroke="#262626" stroke-width="1.5"/>
<line x1="321.25" y1="709.6" x2="321.25" y2="716.6" stroke="#262626" stroke-width="1.5"/>
<line x1="437.5" y1="1234.6" x2="437.5" y2="1227.6" stroke="#262626" stroke-width="1.5"/>
<line x1="437.5" y1="709.6" x2="437.5" y2="716.6" stroke="#262626" stroke-width="1.5"/>
<line x1="553.75" y1="1234.6" x2="553.75" y2="1227.6" stroke="#262626" stroke-width="1.5"/>
<line x1="553.75" y1="709.6" x2="553.75" y2="716.6" stroke="#262626" stroke-width="1.5"/>
<line x1="670.0" y1="1234.6" x2="670.0" y2="1227.6" stroke="#262626" stroke-width="1.5"/>
<line x1="670.0" y1="709.6" x2="670.0" y2="716.6" stroke="#262626" stroke-width="1.5"/>
<line x1="786.25" y1="1234.6" x2="786.25" y2="1227.6" stroke="#262626" stroke-width="1.5"/>
<line x1="786.25" y1="709.6" x2="786.25" y2="716.6" stroke="#262626" stroke-width="1.5"/>
<line x1="89.5" y1="745.75" x2="96.5" y2="745.75" stroke="#262626" stroke-width="1.5"/>
<line x1="787.2" y1="745.75" x2="780.2" y2="745.75" stroke="#262626" stroke-width="1.5"/>
<line x1="89.5" y1="833.25" x2="96.5" y2="833.25" stroke="#262626" stroke-width="1.5"/>
<line x1="787.2" y1="833.25" x2="780.2" y2="833.25" stroke="#262626" stroke-width="1.5"/>
<line x1="89.5" y1="920.75" x2="96.5" y2="920.75" stroke="#262626" stroke-width="1.5"/>
<line x1="787.2" y1="920.75" x2="780.2" y2="920.75" stroke="#262626" stroke-width="1.5"/>
<line x1="89.5" y1="1008.25" x2="96.5" y2="1008.25" stroke="#262626" stroke-width="1.5"/>
<line x1="787.2" y1="1008.25" x2="780.2" y2="1008.25" stroke="#262626" stroke-width="1.5"/>
<line x1="89.5" y1="1095.75" x2="96.5" y2="1095.75" stroke="#262626" stroke-width="1.5"/>
<line x1="787.2" y1="1095.75" x2="780.2" y2="1095.75" stroke="#262626" stroke-width="1.5"/>
<line x1="89.5" y1="1183.25" x2="96.5" y2="1183.25" stroke="#262626" stroke-width="1.5"/>
<line x1="787.2" y1="1183.25" x2="780.2" y2="1183.25" stroke="#262626" stroke-width="1.5"/>
<clipPath id="clipB"><rect x="89.5" y="709.6" width="698.0" height="524.9999999999999"/></clipPath>
<g clip-path="url(#clipB)">
<polyline points="261.0,710.0 262.5,710.3 264.0,710.6 265.5,710.9 267.0,711.2 268.5,711.5 270.0,711.8 271.5,712.1 273.0,712.4 274.5,712.7 276.0,713.0 277.5,713.3 279.0,713.5 280.5,713.8 282.0,714.1 283.5,714.4 285.0,714.7 286.5,715.0 288.0,715.3 289.5,715.5 291.0,715.8 292.5,716.1 294.0,716.4 295.5,716.7 297.0,716.9 298.5,717.2 300.0,717.5 301.5,717.7 303.0,718.0 304.5,718.3 306.0,718.5 307.5,718.8 309.0,719.1 310.5,719.3 312.0,719.6 313.5,719.8 315.0,720.1 316.5,720.4 318.0,720.6 319.5,720.9 321.0,721.1 322.5,721.4 324.0,721.6 325.5,721.9 327.0,722.1 328.5,722.4 330.0,722.6 331.5,722.8 333.0,723.1 334.5,723.3 336.0,723.5 337.5,723.8 339.0,724.0 340.5,724.2 342.0,724.4 343.5,724.7 345.0,724.9 346.5,725.1 348.0,725.3 349.5,725.5 351.0,725.7 352.5,726.0 354.0,726.2 355.5,726.4 357.0,726.6 358.5,726.8 360.0,727.0 361.5,727.2 363.0,727.4 364.5,727.5 366.0,727.7 367.5,727.9 369.0,728.1 370.5,728.2 372.0,728.4 373.5,728.6 375.0,728.7 376.5,728.9 378.0,729.0 379.5,729.1 381.0,729.3 382.5,729.4 384.0,729.5 385.5,729.7 387.0,729.8 388.5,729.9 390.0,730.0 391.5,730.2 393.0,730.3 394.5,730.4 396.0,730.5 397.5,730.6 399.0,730.7 400.5,730.9 402.0,731.0 403.5,731.1 405.0,731.2 406.5,731.3 408.0,731.4 409.5,731.5 411.0,731.6 412.5,731.7 414.0,731.8 415.5,731.9 417.0,732.0 418.5,732.1 420.0,732.2 421.5,732.3 423.0,732.4 424.5,732.5 426.0,732.5 427.5,732.6 429.0,732.7 430.5,732.7 432.0,732.8 433.5,732.8 435.0,732.9 436.5,732.9 438.0,732.9 439.5,733.0 441.0,733.0 442.5,733.0 444.0,733.0 445.5,733.0 447.0,733.0 448.5,733.0 450.0,733.0 451.5,733.0 453.0,733.0 454.5,733.0 456.0,732.9 457.5,732.9 459.0,732.9 460.5,732.9 462.0,732.9 463.5,732.8 465.0,732.8 466.5,732.8 468.0,732.8 469.5,732.7 471.0,732.7 472.5,732.7 474.0,732.7 475.5,732.7 477.0,732.6 478.5,732.6 480.0,732.6 481.5,732.6 483.0,732.6 484.5,732.6 486.0,732.5 487.5,732.5 489.0,732.5 490.5,732.5 492.0,732.5 493.5,732.5 495.0,732.5 496.5,732.5 498.0,732.4 499.5,732.4 501.0,732.4 502.5,732.4 504.0,732.4 505.5,732.4 507.0,732.4 508.5,732.4 510.0,732.3 511.5,732.3 513.0,732.3 514.5,732.3 516.0,732.3 517.5,732.3 519.0,732.3 520.5,732.3 522.0,732.2 523.5,732.2 525.0,732.2 526.5,732.2 528.0,732.2 529.5,732.2 531.0,732.2 532.5,732.2 534.0,732.2 535.5,732.2 537.0,732.2 538.5,732.2 540.0,732.2 541.5,732.2 543.0,732.1 544.5,732.1 546.0,732.1 547.5,732.1 549.0,732.1 550.5,732.1 552.0,732.2 553.5,732.2 555.0,732.2 556.5,732.2 558.0,732.2 559.5,732.2 561.0,732.2 562.5,732.2 564.0,732.2 565.5,732.2 567.0,732.2 568.5,732.2 570.0,732.2 571.5,732.2 573.0,732.2 574.5,732.2 576.0,732.2 577.5,732.2 579.0,732.2 580.5,732.2 582.0,732.2 583.5,732.2 585.0,732.2 586.5,732.3 588.0,732.3 589.5,732.3 591.0,732.3 592.5,732.3 594.0,732.3 595.5,732.3 597.0,732.3 598.5,732.3 600.0,732.3 601.5,732.3 603.0,732.3 604.5,732.3 606.0,732.3 607.5,732.3 609.0,732.3 610.5,732.3 612.0,732.3 613.5,732.3 615.0,732.3 616.5,732.3 618.0,732.3 619.5,732.3 621.0,732.3 622.5,732.3 624.0,732.3 625.5,732.4 627.0,732.4 628.5,732.4 630.0,732.4 631.5,732.4 633.0,732.4 634.5,732.4 636.0,732.4 637.5,732.4 639.0,732.4 640.5,732.4 642.0,732.4 643.5,732.4 645.0,732.4 646.5,732.4 648.0,732.4 649.5,732.4 651.0,732.4 652.5,732.4 654.0,732.4 655.5,732.4 657.0,732.4 658.5,732.4 660.0,732.4 661.5,732.4 663.0,732.4 664.5,732.4 666.0,732.4 667.5,732.4 669.0,732.4 670.5,732.4 672.0,732.4 673.5,732.4 675.0,732.5 676.5,732.5 678.0,732.5 679.5,732.5 681.0,732.5 682.5,732.5 684.0,732.5 685.5,732.5 687.0,732.5 688.5,732.5 690.0,732.5 691.5,732.5 693.0,732.5 694.5,732.5 696.0,732.5 697.5,732.5 699.0,732.5 700.5,732.5 702.0,732.5 703.5,732.5 705.0,732.5 706.5,732.5 708.0,732.5 709.5,732.5 711.0,732.5 712.5,732.5 714.0,732.5 715.5,732.5 717.0,732.5 718.5,732.6 720.0,732.6 721.5,732.6 723.0,732.6 724.5,732.6 726.0,732.6 727.5,732.6 729.0,732.6 730.5,732.6 732.0,732.6 733.5,732.6 735.0,732.6 736.5,732.6 738.0,732.6 739.5,732.6 741.0,732.6 742.5,732.6 744.0,732.6 745.5,732.6 747.0,732.6 748.5,732.6 750.0,732.6 751.5,732.6 753.0,732.7 754.5,732.7 756.0,732.7 757.5,732.7 759.0,732.7 760.5,732.7 762.0,732.7 763.5,732.7 765.0,732.7 766.5,732.7 768.0,732.7 769.5,732.7 771.0,732.7 772.5,732.7 774.0,732.7 775.5,732.7 777.0,732.7 778.5,732.7 780.0,732.7 781.5,732.7 783.0,732.7 784.5,732.7 786.0,732.7" fill="none" stroke="#7E2F8E" stroke-width="2.2" stroke-linejoin="round" stroke-linecap="round" />
<polyline points="248.0,710.1 249.5,710.4 251.0,710.6 252.5,710.8 254.0,711.1 255.5,711.3 257.0,711.6 258.5,711.9 260.0,712.1 261.5,712.4 263.0,712.7 264.5,713.0 266.0,713.4 267.5,713.7 269.0,714.0 270.5,714.4 272.0,714.7 273.5,715.1 275.0,715.4 276.5,715.8 278.0,716.1 279.5,716.5 281.0,716.9 282.5,717.2 284.0,717.6 285.5,717.9 287.0,718.3 288.5,718.6 290.0,719.0 291.5,719.3 293.0,719.7 294.5,720.0 296.0,720.3 297.5,720.6 299.0,721.0 300.5,721.3 302.0,721.6 303.5,721.9 305.0,722.2 306.5,722.5 308.0,722.8 309.5,723.1 311.0,723.4 312.5,723.7 314.0,724.0 315.5,724.3 317.0,724.6 318.5,724.9 320.0,725.2 321.5,725.5 323.0,725.8 324.5,726.0 326.0,726.3 327.5,726.6 329.0,726.9 330.5,727.1 332.0,727.4 333.5,727.7 335.0,727.9 336.5,728.2 338.0,728.4 339.5,728.7 341.0,728.9 342.5,729.2 344.0,729.4 345.5,729.7 347.0,729.9 348.5,730.1 350.0,730.4 351.5,730.6 353.0,730.9 354.5,731.1 356.0,731.3 357.5,731.6 359.0,731.8 360.5,732.1 362.0,732.3 363.5,732.5 365.0,732.8 366.5,733.0 368.0,733.3 369.5,733.5 371.0,733.7 372.5,734.0 374.0,734.2 375.5,734.5 377.0,734.7 378.5,734.9 380.0,735.1 381.5,735.4 383.0,735.6 384.5,735.8 386.0,736.0 387.5,736.2 389.0,736.4 390.5,736.6 392.0,736.8 393.5,736.9 395.0,737.1 396.5,737.3 398.0,737.5 399.5,737.6 401.0,737.8 402.5,738.0 404.0,738.2 405.5,738.3 407.0,738.5 408.5,738.6 410.0,738.8 411.5,739.0 413.0,739.1 414.5,739.3 416.0,739.4 417.5,739.6 419.0,739.7 420.5,739.9 422.0,740.0 423.5,740.1 425.0,740.3 426.5,740.4 428.0,740.5 429.5,740.6 431.0,740.7 432.5,740.8 434.0,741.0 435.5,741.1 437.0,741.2 438.5,741.2 440.0,741.3 441.5,741.4 443.0,741.5 444.5,741.6 446.0,741.6 447.5,741.7 449.0,741.8 450.5,741.9 452.0,741.9 453.5,742.0 455.0,742.0 456.5,742.1 458.0,742.1 459.5,742.2 461.0,742.2 462.5,742.2 464.0,742.3 465.5,742.3 467.0,742.3 468.5,742.4 470.0,742.4 471.5,742.4 473.0,742.4 474.5,742.4 476.0,742.4 477.5,742.4 479.0,742.4 480.5,742.4 482.0,742.4 483.5,742.4 485.0,742.4 486.5,742.3 488.0,742.3 489.5,742.3 491.0,742.3 492.5,742.2 494.0,742.2 495.5,742.2 497.0,742.2 498.5,742.1 500.0,742.1 501.5,742.0 503.0,742.0 504.5,742.0 506.0,741.9 507.5,741.9 509.0,741.8 510.5,741.8 512.0,741.7 513.5,741.7 515.0,741.6 516.5,741.6 518.0,741.5 519.5,741.5 521.0,741.4 522.5,741.4 524.0,741.3 525.5,741.3 527.0,741.2 528.5,741.2 530.0,741.1 531.5,741.1 533.0,741.0 534.5,741.0 536.0,741.0 537.5,740.9 539.0,740.9 540.5,740.9 542.0,740.9 543.5,740.9 545.0,740.8 546.5,740.8 548.0,740.8 549.5,740.8 551.0,740.8 552.5,740.8 554.0,740.8 555.5,740.8 557.0,740.8 558.5,740.8 560.0,740.8 561.5,740.8 563.0,740.8 564.5,740.8 566.0,740.8 567.5,740.8 569.0,740.8 570.5,740.9 572.0,740.9 573.5,740.9 575.0,740.9 576.5,740.9 578.0,740.9 579.5,740.9 581.0,740.9 582.5,740.9 584.0,740.9 585.5,740.9 587.0,740.9 588.5,740.9 590.0,741.0 591.5,741.0 593.0,741.0 594.5,741.0 596.0,741.0 597.5,741.0 599.0,741.0 600.5,741.0 602.0,741.0 603.5,741.0 605.0,741.0 606.5,741.0 608.0,741.0 609.5,741.0 611.0,741.1 612.5,741.1 614.0,741.1 615.5,741.1 617.0,741.1 618.5,741.1 620.0,741.1 621.5,741.1 623.0,741.1 624.5,741.1 626.0,741.1 627.5,741.1 629.0,741.1 630.5,741.2 632.0,741.2 633.5,741.2 635.0,741.2 636.5,741.2 638.0,741.2 639.5,741.2 641.0,741.2 642.5,741.2 644.0,741.2 645.5,741.2 647.0,741.2 648.5,741.2 650.0,741.2 651.5,741.3 653.0,741.3 654.5,741.3 656.0,741.3 657.5,741.3 659.0,741.3 660.5,741.3 662.0,741.3 663.5,741.3 665.0,741.3 666.5,741.3 668.0,741.3 669.5,741.3 671.0,741.4 672.5,741.4 674.0,741.4 675.5,741.4 677.0,741.4 678.5,741.4 680.0,741.4 681.5,741.4 683.0,741.4 684.5,741.4 686.0,741.4 687.5,741.4 689.0,741.4 690.5,741.5 692.0,741.5 693.5,741.5 695.0,741.5 696.5,741.5 698.0,741.5 699.5,741.5 701.0,741.5 702.5,741.5 704.0,741.5 705.5,741.5 707.0,741.5 708.5,741.5 710.0,741.5 711.5,741.5 713.0,741.5 714.5,741.5 716.0,741.6 717.5,741.6 719.0,741.6 720.5,741.6 722.0,741.6 723.5,741.6 725.0,741.6 726.5,741.6 728.0,741.6 729.5,741.6 731.0,741.6 732.5,741.6 734.0,741.6 735.5,741.6 737.0,741.6 738.5,741.6 740.0,741.6 741.5,741.6 743.0,741.6 744.5,741.7 746.0,741.7 747.5,741.7 749.0,741.7 750.5,741.7 752.0,741.7 753.5,741.7 755.0,741.7 756.5,741.7 758.0,741.7 759.5,741.7 761.0,741.7 762.5,741.7 764.0,741.7 765.5,741.7 767.0,741.7 768.5,741.7 770.0,741.7 771.5,741.7 773.0,741.8 774.5,741.8 776.0,741.8 777.5,741.8 779.0,741.8 780.5,741.8 782.0,741.8 783.5,741.8 785.0,741.8 786.5,741.8" fill="none" stroke="#EDB120" stroke-width="2.2" stroke-linejoin="round" stroke-linecap="round" />
<polyline points="237.0,710.0 238.5,710.3 240.0,710.6 241.5,710.9 243.0,711.2 244.5,711.5 246.0,711.8 247.5,712.1 249.0,712.4 250.5,712.7 252.0,713.0 253.5,713.3 255.0,713.7 256.5,714.0 258.0,714.4 259.5,714.7 261.0,715.0 262.5,715.4 264.0,715.8 265.5,716.1 267.0,716.5 268.5,716.9 270.0,717.3 271.5,717.7 273.0,718.1 274.5,718.5 276.0,718.9 277.5,719.2 279.0,719.6 280.5,720.0 282.0,720.4 283.5,720.8 285.0,721.2 286.5,721.6 288.0,722.0 289.5,722.3 291.0,722.7 292.5,723.1 294.0,723.4 295.5,723.8 297.0,724.2 298.5,724.5 300.0,724.9 301.5,725.2 303.0,725.5 304.5,725.9 306.0,726.2 307.5,726.6 309.0,726.9 310.5,727.2 312.0,727.5 313.5,727.9 315.0,728.2 316.5,728.5 318.0,728.8 319.5,729.2 321.0,729.5 322.5,729.8 324.0,730.1 325.5,730.4 327.0,730.7 328.5,731.0 330.0,731.3 331.5,731.6 333.0,731.9 334.5,732.2 336.0,732.5 337.5,732.8 339.0,733.1 340.5,733.4 342.0,733.6 343.5,733.9 345.0,734.2 346.5,734.5 348.0,734.8 349.5,735.0 351.0,735.3 352.5,735.6 354.0,735.9 355.5,736.2 357.0,736.4 358.5,736.7 360.0,737.0 361.5,737.3 363.0,737.6 364.5,737.9 366.0,738.2 367.5,738.5 369.0,738.8 370.5,739.1 372.0,739.4 373.5,739.7 375.0,740.0 376.5,740.3 378.0,740.6 379.5,740.9 381.0,741.2 382.5,741.5 384.0,741.8 385.5,742.1 387.0,742.4 388.5,742.7 390.0,742.9 391.5,743.2 393.0,743.5 394.5,743.7 396.0,744.0 397.5,744.2 399.0,744.4 400.5,744.7 402.0,744.9 403.5,745.1 405.0,745.3 406.5,745.5 408.0,745.7 409.5,745.9 411.0,746.1 412.5,746.3 414.0,746.5 415.5,746.7 417.0,746.9 418.5,747.1 420.0,747.3 421.5,747.4 423.0,747.6 424.5,747.8 426.0,748.0 427.5,748.1 429.0,748.3 430.5,748.5 432.0,748.6 433.5,748.8 435.0,749.0 436.5,749.1 438.0,749.3 439.5,749.4 441.0,749.6 442.5,749.7 444.0,749.9 445.5,750.0 447.0,750.2 448.5,750.3 450.0,750.4 451.5,750.6 453.0,750.7 454.5,750.8 456.0,751.0 457.5,751.1 459.0,751.2 460.5,751.3 462.0,751.4 463.5,751.5 465.0,751.6 466.5,751.7 468.0,751.7 469.5,751.8 471.0,751.9 472.5,751.9 474.0,752.0 475.5,752.0 477.0,752.0 478.5,752.1 480.0,752.1 481.5,752.1 483.0,752.2 484.5,752.2 486.0,752.2 487.5,752.2 489.0,752.3 490.5,752.3 492.0,752.3 493.5,752.3 495.0,752.3 496.5,752.3 498.0,752.3 499.5,752.4 501.0,752.4 502.5,752.4 504.0,752.4 505.5,752.4 507.0,752.4 508.5,752.4 510.0,752.4 511.5,752.4 513.0,752.4 514.5,752.4 516.0,752.4 517.5,752.4 519.0,752.4 520.5,752.4 522.0,752.4 523.5,752.3 525.0,752.3 526.5,752.3 528.0,752.3 529.5,752.3 531.0,752.3 532.5,752.2 534.0,752.2 535.5,752.2 537.0,752.2 538.5,752.1 540.0,752.1 541.5,752.1 543.0,752.1 544.5,752.0 546.0,752.0 547.5,752.0 549.0,751.9 550.5,751.9 552.0,751.9 553.5,751.8 555.0,751.8 556.5,751.7 558.0,751.7 559.5,751.7 561.0,751.6 562.5,751.6 564.0,751.6 565.5,751.6 567.0,751.5 568.5,751.5 570.0,751.5 571.5,751.5 573.0,751.4 574.5,751.4 576.0,751.4 577.5,751.4 579.0,751.4 580.5,751.4 582.0,751.4 583.5,751.4 585.0,751.4 586.5,751.4 588.0,751.4 589.5,751.4 591.0,751.4 592.5,751.4 594.0,751.4 595.5,751.4 597.0,751.4 598.5,751.4 600.0,751.4 601.5,751.4 603.0,751.4 604.5,751.4 606.0,751.4 607.5,751.5 609.0,751.5 610.5,751.5 612.0,751.5 613.5,751.5 615.0,751.5 616.5,751.5 618.0,751.5 619.5,751.5 621.0,751.6 622.5,751.6 624.0,751.6 625.5,751.6 627.0,751.6 628.5,751.6 630.0,751.7 631.5,751.7 633.0,751.7 634.5,751.7 636.0,751.7 637.5,751.8 639.0,751.8 640.5,751.8 642.0,751.8 643.5,751.9 645.0,751.9 646.5,751.9 648.0,751.9 649.5,751.9 651.0,752.0 652.5,752.0 654.0,752.0 655.5,752.0 657.0,752.0 658.5,752.1 660.0,752.1 661.5,752.1 663.0,752.1 664.5,752.1 666.0,752.2 667.5,752.2 669.0,752.2 670.5,752.2 672.0,752.2 673.5,752.2 675.0,752.3 676.5,752.3 678.0,752.3 679.5,752.3 681.0,752.3 682.5,752.3 684.0,752.3 685.5,752.3 687.0,752.3 688.5,752.3 690.0,752.4 691.5,752.4 693.0,752.4 694.5,752.4 696.0,752.4 697.5,752.4 699.0,752.4 700.5,752.4 702.0,752.4 703.5,752.4 705.0,752.4 706.5,752.5 708.0,752.5 709.5,752.5 711.0,752.5 712.5,752.5 714.0,752.5 715.5,752.5 717.0,752.5 718.5,752.5 720.0,752.5 721.5,752.5 723.0,752.5 724.5,752.6 726.0,752.6 727.5,752.6 729.0,752.6 730.5,752.6 732.0,752.6 733.5,752.6 735.0,752.6 736.5,752.6 738.0,752.6 739.5,752.6 741.0,752.6 742.5,752.7 744.0,752.7 745.5,752.7 747.0,752.7 748.5,752.7 750.0,752.7 751.5,752.7 753.0,752.7 754.5,752.7 756.0,752.7 757.5,752.7 759.0,752.7 760.5,752.8 762.0,752.8 763.5,752.8 765.0,752.8 766.5,752.8 768.0,752.8 769.5,752.8 771.0,752.8 772.5,752.8 774.0,752.8 775.5,752.8 777.0,752.8 778.5,752.9 780.0,752.9 781.5,752.9 783.0,752.9 784.5,752.9 786.0,752.9" fill="none" stroke="#D95319" stroke-width="2.2" stroke-linejoin="round" stroke-linecap="round" />
<polyline points="227.0,710.0 228.5,710.3 230.0,710.7 231.5,711.0 233.0,711.4 234.5,711.7 236.0,712.1 237.5,712.4 239.0,712.7 240.5,713.1 242.0,713.4 243.5,713.8 245.0,714.1 246.5,714.5 248.0,714.8 249.5,715.2 251.0,715.6 252.5,715.9 254.0,716.3 255.5,716.7 257.0,717.0 258.5,717.4 260.0,717.8 261.5,718.2 263.0,718.6 264.5,719.0 266.0,719.4 267.5,719.8 269.0,720.2 270.5,720.6 272.0,721.0 273.5,721.5 275.0,721.9 276.5,722.3 278.0,722.7 279.5,723.1 281.0,723.6 282.5,724.0 284.0,724.4 285.5,724.8 287.0,725.2 288.5,725.6 290.0,726.0 291.5,726.4 293.0,726.8 294.5,727.2 296.0,727.5 297.5,727.9 299.0,728.3 300.5,728.7 302.0,729.0 303.5,729.4 305.0,729.8 306.5,730.1 308.0,730.5 309.5,730.9 311.0,731.2 312.5,731.6 314.0,731.9 315.5,732.3 317.0,732.6 318.5,733.0 320.0,733.3 321.5,733.7 323.0,734.0 324.5,734.3 326.0,734.7 327.5,735.0 329.0,735.4 330.5,735.7 332.0,736.0 333.5,736.3 335.0,736.6 336.5,737.0 338.0,737.3 339.5,737.6 341.0,737.9 342.5,738.2 344.0,738.5 345.5,738.8 347.0,739.1 348.5,739.4 350.0,739.8 351.5,740.1 353.0,740.4 354.5,740.7 356.0,741.0 357.5,741.3 359.0,741.6 360.5,741.9 362.0,742.2 363.5,742.5 365.0,742.9 366.5,743.2 368.0,743.5 369.5,743.8 371.0,744.2 372.5,744.5 374.0,744.8 375.5,745.2 377.0,745.5 378.5,745.8 380.0,746.2 381.5,746.5 383.0,746.8 384.5,747.2 386.0,747.5 387.5,747.8 389.0,748.2 390.5,748.5 392.0,748.8 393.5,749.1 395.0,749.5 396.5,749.8 398.0,750.1 399.5,750.4 401.0,750.7 402.5,751.0 404.0,751.3 405.5,751.6 407.0,751.9 408.5,752.2 410.0,752.5 411.5,752.8 413.0,753.1 414.5,753.4 416.0,753.7 417.5,753.9 419.0,754.2 420.5,754.5 422.0,754.7 423.5,755.0 425.0,755.3 426.5,755.5 428.0,755.8 429.5,756.0 431.0,756.3 432.5,756.5 434.0,756.8 435.5,757.0 437.0,757.3 438.5,757.5 440.0,757.7 441.5,758.0 443.0,758.2 444.5,758.4 446.0,758.6 447.5,758.9 449.0,759.1 450.5,759.3 452.0,759.5 453.5,759.8 455.0,760.0 456.5,760.2 458.0,760.4 459.5,760.6 461.0,760.9 462.5,761.1 464.0,761.3 465.5,761.5 467.0,761.7 468.5,761.9 470.0,762.2 471.5,762.4 473.0,762.6 474.5,762.8 476.0,763.0 477.5,763.2 479.0,763.4 480.5,763.6 482.0,763.8 483.5,763.9 485.0,764.1 486.5,764.3 488.0,764.5 489.5,764.6 491.0,764.8 492.5,765.0 494.0,765.1 495.5,765.2 497.0,765.4 498.5,765.5 500.0,765.7 501.5,765.8 503.0,765.9 504.5,766.0 506.0,766.2 507.5,766.3 509.0,766.4 510.5,766.5 512.0,766.6 513.5,766.7 515.0,766.8 516.5,766.9 518.0,767.0 519.5,767.1 521.0,767.2 522.5,767.3 524.0,767.4 525.5,767.4 527.0,767.5 528.5,767.6 530.0,767.6 531.5,767.7 533.0,767.7 534.5,767.8 536.0,767.8 537.5,767.9 539.0,767.9 540.5,767.9 542.0,767.9 543.5,767.9 545.0,768.0 546.5,768.0 548.0,768.0 549.5,768.0 551.0,768.0 552.5,768.0 554.0,768.0 555.5,768.0 557.0,768.0 558.5,768.0 560.0,767.9 561.5,767.9 563.0,767.9 564.5,767.9 566.0,767.9 567.5,767.9 569.0,767.8 570.5,767.8 572.0,767.8 573.5,767.7 575.0,767.7 576.5,767.6 578.0,767.6 579.5,767.5 581.0,767.5 582.5,767.4 584.0,767.4 585.5,767.3 587.0,767.3 588.5,767.2 590.0,767.2 591.5,767.1 593.0,767.0 594.5,767.0 596.0,766.9 597.5,766.9 599.0,766.8 600.5,766.8 602.0,766.7 603.5,766.6 605.0,766.6 606.5,766.5 608.0,766.5 609.5,766.4 611.0,766.4 612.5,766.3 614.0,766.3 615.5,766.3 617.0,766.2 618.5,766.2 620.0,766.2 621.5,766.2 623.0,766.1 624.5,766.1 626.0,766.1 627.5,766.1 629.0,766.1 630.5,766.1 632.0,766.1 633.5,766.1 635.0,766.2 636.5,766.2 638.0,766.2 639.5,766.2 641.0,766.2 642.5,766.2 644.0,766.3 645.5,766.3 647.0,766.3 648.5,766.3 650.0,766.4 651.5,766.4 653.0,766.4 654.5,766.4 656.0,766.5 657.5,766.5 659.0,766.5 660.5,766.5 662.0,766.6 663.5,766.6 665.0,766.6 666.5,766.7 668.0,766.7 669.5,766.7 671.0,766.8 672.5,766.8 674.0,766.8 675.5,766.9 677.0,766.9 678.5,766.9 680.0,767.0 681.5,767.0 683.0,767.0 684.5,767.1 686.0,767.1 687.5,767.1 689.0,767.2 690.5,767.2 692.0,767.2 693.5,767.2 695.0,767.3 696.5,767.3 698.0,767.3 699.5,767.3 701.0,767.3 702.5,767.4 704.0,767.4 705.5,767.4 707.0,767.4 708.5,767.4 710.0,767.4 711.5,767.4 713.0,767.4 714.5,767.4 716.0,767.4 717.5,767.4 719.0,767.4 720.5,767.4 722.0,767.4 723.5,767.3 725.0,767.3 726.5,767.3 728.0,767.3 729.5,767.3 731.0,767.3 732.5,767.3 734.0,767.3 735.5,767.3 737.0,767.3 738.5,767.2 740.0,767.2 741.5,767.2 743.0,767.2 744.5,767.2 746.0,767.2 747.5,767.2 749.0,767.2 750.5,767.2 752.0,767.1 753.5,767.1 755.0,767.1 756.5,767.1 758.0,767.1 759.5,767.1 761.0,767.1 762.5,767.1 764.0,767.1 765.5,767.1 767.0,767.0 768.5,767.0 770.0,767.0 771.5,767.0 773.0,767.0 774.5,767.0 776.0,767.0 777.5,767.0 779.0,767.0 780.5,766.9 782.0,766.9 783.5,766.9 785.0,766.9 786.5,766.9" fill="none" stroke="#0072BD" stroke-width="2.2" stroke-linejoin="round" stroke-linecap="round" />
<polyline points="217.0,710.0 218.5,710.4 220.0,710.8 221.5,711.2 223.0,711.5 224.5,711.9 226.0,712.3 227.5,712.7 229.0,713.1 230.5,713.5 232.0,713.8 233.5,714.2 235.0,714.6 236.5,715.0 238.0,715.4 239.5,715.8 241.0,716.1 242.5,716.5 244.0,716.9 245.5,717.3 247.0,717.7 248.5,718.1 250.0,718.5 251.5,718.9 253.0,719.3 254.5,719.7 256.0,720.1 257.5,720.5 259.0,720.9 260.5,721.3 262.0,721.7 263.5,722.1 265.0,722.6 266.5,723.0 268.0,723.4 269.5,723.8 271.0,724.2 272.5,724.7 274.0,725.1 275.5,725.5 277.0,725.9 278.5,726.4 280.0,726.8 281.5,727.2 283.0,727.6 284.5,728.1 286.0,728.5 287.5,728.9 289.0,729.3 290.5,729.7 292.0,730.1 293.5,730.5 295.0,730.9 296.5,731.3 298.0,731.7 299.5,732.1 301.0,732.5 302.5,732.9 304.0,733.3 305.5,733.7 307.0,734.1 308.5,734.5 310.0,734.9 311.5,735.2 313.0,735.6 314.5,736.0 316.0,736.4 317.5,736.8 319.0,737.1 320.5,737.5 322.0,737.9 323.5,738.3 325.0,738.6 326.5,739.0 328.0,739.3 329.5,739.7 331.0,740.1 332.5,740.4 334.0,740.8 335.5,741.1 337.0,741.5 338.5,741.8 340.0,742.1 341.5,742.5 343.0,742.8 344.5,743.2 346.0,743.5 347.5,743.8 349.0,744.2 350.5,744.5 352.0,744.8 353.5,745.2 355.0,745.5 356.5,745.8 358.0,746.2 359.5,746.5 361.0,746.9 362.5,747.2 364.0,747.6 365.5,747.9 367.0,748.3 368.5,748.6 370.0,749.0 371.5,749.4 373.0,749.8 374.5,750.1 376.0,750.5 377.5,750.9 379.0,751.3 380.5,751.7 382.0,752.1 383.5,752.5 385.0,752.8 386.5,753.2 388.0,753.6 389.5,754.0 391.0,754.4 392.5,754.8 394.0,755.2 395.5,755.6 397.0,755.9 398.5,756.3 400.0,756.7 401.5,757.1 403.0,757.5 404.5,757.8 406.0,758.2 407.5,758.6 409.0,759.0 410.5,759.3 412.0,759.7 413.5,760.1 415.0,760.4 416.5,760.8 418.0,761.1 419.5,761.5 421.0,761.8 422.5,762.2 424.0,762.5 425.5,762.9 427.0,763.2 428.5,763.5 430.0,763.9 431.5,764.2 433.0,764.5 434.5,764.8 436.0,765.2 437.5,765.5 439.0,765.8 440.5,766.1 442.0,766.4 443.5,766.7 445.0,767.0 446.5,767.3 448.0,767.6 449.5,768.0 451.0,768.3 452.5,768.6 454.0,768.9 455.5,769.2 457.0,769.4 458.5,769.7 460.0,770.0 461.5,770.3 463.0,770.6 464.5,770.9 466.0,771.1 467.5,771.4 469.0,771.7 470.5,771.9 472.0,772.2 473.5,772.4 475.0,772.7 476.5,772.9 478.0,773.1 479.5,773.4 481.0,773.6 482.5,773.9 484.0,774.1 485.5,774.3 487.0,774.5 488.5,774.8 490.0,775.0 491.5,775.2 493.0,775.4 494.5,775.7 496.0,775.9 497.5,776.1 499.0,776.3 500.5,776.6 502.0,776.8 503.5,777.0 505.0,777.2 506.5,777.5 508.0,777.7 509.5,777.9 511.0,778.1 512.5,778.4 514.0,778.6 515.5,778.8 517.0,779.0 518.5,779.3 520.0,779.5 521.5,779.7 523.0,779.9 524.5,780.2 526.0,780.4 527.5,780.6 529.0,780.9 530.5,781.1 532.0,781.3 533.5,781.5 535.0,781.7 536.5,782.0 538.0,782.2 539.5,782.4 541.0,782.6 542.5,782.9 544.0,783.1 545.5,783.3 547.0,783.5 548.5,783.8 550.0,784.0 551.5,784.2 553.0,784.4 554.5,784.6 556.0,784.8 557.5,785.0 559.0,785.2 560.5,785.4 562.0,785.6 563.5,785.8 565.0,786.0 566.5,786.2 568.0,786.3 569.5,786.5 571.0,786.7 572.5,786.8 574.0,787.0 575.5,787.1 577.0,787.2 578.5,787.3 580.0,787.5 581.5,787.6 583.0,787.7 584.5,787.8 586.0,787.9 587.5,787.9 589.0,788.0 590.5,788.1 592.0,788.2 593.5,788.3 595.0,788.3 596.5,788.4 598.0,788.4 599.5,788.5 601.0,788.5 602.5,788.6 604.0,788.6 605.5,788.7 607.0,788.7 608.5,788.7 610.0,788.7 611.5,788.7 613.0,788.8 614.5,788.8 616.0,788.7 617.5,788.7 619.0,788.7 620.5,788.7 622.0,788.7 623.5,788.6 625.0,788.6 626.5,788.6 628.0,788.5 629.5,788.4 631.0,788.4 632.5,788.3 634.0,788.3 635.5,788.2 637.0,788.1 638.5,788.1 640.0,788.0 641.5,787.9 643.0,787.8 644.5,787.7 646.0,787.6 647.5,787.6 649.0,787.5 650.5,787.4 652.0,787.3 653.5,787.2 655.0,787.1 656.5,787.0 658.0,786.9 659.5,786.8 661.0,786.7 662.5,786.6 664.0,786.5 665.5,786.4 667.0,786.3 668.5,786.2 670.0,786.1 671.5,786.1 673.0,786.0 674.5,785.9 676.0,785.8 677.5,785.7 679.0,785.7 680.5,785.6 682.0,785.5 683.5,785.5 685.0,785.4 686.5,785.4 688.0,785.4 689.5,785.3 691.0,785.3 692.5,785.3 694.0,785.3 695.5,785.3 697.0,785.3 698.5,785.3 700.0,785.3 701.5,785.3 703.0,785.3 704.5,785.3 706.0,785.3 707.5,785.3 709.0,785.3 710.5,785.4 712.0,785.4 713.5,785.4 715.0,785.4 716.5,785.4 718.0,785.4 719.5,785.5 721.0,785.5 722.5,785.5 724.0,785.5 725.5,785.5 727.0,785.5 728.5,785.6 730.0,785.6 731.5,785.6 733.0,785.6 734.5,785.6 736.0,785.6 737.5,785.6 739.0,785.7 740.5,785.7 742.0,785.7 743.5,785.7 745.0,785.7 746.5,785.7 748.0,785.8 749.5,785.8 751.0,785.8 752.5,785.8 754.0,785.8 755.5,785.8 757.0,785.9 758.5,785.9 760.0,785.9 761.5,785.9 763.0,785.9 764.5,785.9 766.0,786.0 767.5,786.0 769.0,786.0 770.5,786.0 772.0,786.0 773.5,786.1 775.0,786.1 776.5,786.1 778.0,786.1 779.5,786.1 781.0,786.2 782.5,786.2 784.0,786.2 785.5,786.2 787.0,786.3" fill="none" stroke="#A2142F" stroke-width="2.2" stroke-linejoin="round" stroke-linecap="round" />
<polyline points="209.0,710.0 210.5,710.4 212.0,710.8 213.5,711.3 215.0,711.7 216.5,712.1 218.0,712.5 219.5,713.0 221.0,713.4 222.5,713.8 224.0,714.2 225.5,714.7 227.0,715.1 228.5,715.5 230.0,715.9 231.5,716.4 233.0,716.8 234.5,717.2 236.0,717.6 237.5,718.0 239.0,718.5 240.5,718.9 242.0,719.3 243.5,719.7 245.0,720.2 246.5,720.6 248.0,721.0 249.5,721.5 251.0,721.9 252.5,722.3 254.0,722.7 255.5,723.2 257.0,723.6 258.5,724.0 260.0,724.5 261.5,724.9 263.0,725.3 264.5,725.8 266.0,726.2 267.5,726.6 269.0,727.1 270.5,727.5 272.0,727.9 273.5,728.4 275.0,728.8 276.5,729.3 278.0,729.7 279.5,730.1 281.0,730.6 282.5,731.0 284.0,731.4 285.5,731.9 287.0,732.3 288.5,732.7 290.0,733.2 291.5,733.6 293.0,734.0 294.5,734.4 296.0,734.9 297.5,735.3 299.0,735.7 300.5,736.1 302.0,736.5 303.5,736.9 305.0,737.4 306.5,737.8 308.0,738.2 309.5,738.6 311.0,739.0 312.5,739.4 314.0,739.8 315.5,740.2 317.0,740.6 318.5,741.0 320.0,741.4 321.5,741.8 323.0,742.2 324.5,742.6 326.0,743.0 327.5,743.4 329.0,743.8 330.5,744.2 332.0,744.5 333.5,744.9 335.0,745.3 336.5,745.7 338.0,746.0 339.5,746.4 341.0,746.7 342.5,747.1 344.0,747.5 345.5,747.8 347.0,748.2 348.5,748.5 350.0,748.9 351.5,749.2 353.0,749.6 354.5,750.0 356.0,750.3 357.5,750.7 359.0,751.1 360.5,751.4 362.0,751.8 363.5,752.2 365.0,752.6 366.5,753.0 368.0,753.4 369.5,753.8 371.0,754.2 372.5,754.6 374.0,755.0 375.5,755.5 377.0,755.9 378.5,756.3 380.0,756.8 381.5,757.2 383.0,757.7 384.5,758.1 386.0,758.6 387.5,759.0 389.0,759.5 390.5,759.9 392.0,760.4 393.5,760.8 395.0,761.3 396.5,761.7 398.0,762.2 399.5,762.6 401.0,763.0 402.5,763.5 404.0,763.9 405.5,764.3 407.0,764.8 408.5,765.2 410.0,765.6 411.5,766.0 413.0,766.4 414.5,766.9 416.0,767.3 417.5,767.7 419.0,768.1 420.5,768.5 422.0,768.8 423.5,769.2 425.0,769.6 426.5,770.0 428.0,770.3 429.5,770.7 431.0,771.1 432.5,771.4 434.0,771.8 435.5,772.2 437.0,772.5 438.5,772.9 440.0,773.2 441.5,773.6 443.0,774.0 444.5,774.4 446.0,774.8 447.5,775.2 449.0,775.6 450.5,776.0 452.0,776.4 453.5,776.8 455.0,777.3 456.5,777.7 458.0,778.1 459.5,778.6 461.0,779.0 462.5,779.5 464.0,779.9 465.5,780.4 467.0,780.9 468.5,781.3 470.0,781.8 471.5,782.2 473.0,782.7 474.5,783.1 476.0,783.6 477.5,784.0 479.0,784.5 480.5,784.9 482.0,785.4 483.5,785.8 485.0,786.2 486.5,786.6 488.0,787.0 489.5,787.5 491.0,787.9 492.5,788.3 494.0,788.6 495.5,789.0 497.0,789.4 498.5,789.8 500.0,790.1 501.5,790.5 503.0,790.9 504.5,791.2 506.0,791.6 507.5,791.9 509.0,792.3 510.5,792.6 512.0,792.9 513.5,793.3 515.0,793.6 516.5,794.0 518.0,794.3 519.5,794.6 521.0,795.0 522.5,795.3 524.0,795.6 525.5,796.0 527.0,796.3 528.5,796.7 530.0,797.0 531.5,797.3 533.0,797.7 534.5,798.0 536.0,798.3 537.5,798.7 539.0,799.0 540.5,799.4 542.0,799.7 543.5,800.0 545.0,800.4 546.5,800.7 548.0,801.0 549.5,801.4 551.0,801.7 552.5,802.0 554.0,802.4 555.5,802.7 557.0,803.0 558.5,803.3 560.0,803.7 561.5,804.0 563.0,804.3 564.5,804.6 566.0,804.9 567.5,805.2 569.0,805.5 570.5,805.8 572.0,806.1 573.5,806.3 575.0,806.6 576.5,806.9 578.0,807.1 579.5,807.4 581.0,807.7 582.5,807.9 584.0,808.2 585.5,808.4 587.0,808.6 588.5,808.9 590.0,809.1 591.5,809.3 593.0,809.6 594.5,809.8 596.0,810.0 597.5,810.2 599.0,810.4 600.5,810.7 602.0,810.9 603.5,811.1 605.0,811.3 606.5,811.5 608.0,811.7 609.5,811.9 611.0,812.1 612.5,812.3 614.0,812.5 615.5,812.7 617.0,812.9 618.5,813.1 620.0,813.2 621.5,813.4 623.0,813.6 624.5,813.8 626.0,814.0 627.5,814.2 629.0,814.4 630.5,814.6 632.0,814.7 633.5,814.9 635.0,815.1 636.5,815.3 638.0,815.5 639.5,815.7 641.0,815.9 642.5,816.1 644.0,816.2 645.5,816.4 647.0,816.6 648.5,816.8 650.0,817.0 651.5,817.2 653.0,817.3 654.5,817.5 656.0,817.7 657.5,817.9 659.0,818.1 660.5,818.3 662.0,818.4 663.5,818.6 665.0,818.8 666.5,819.0 668.0,819.2 669.5,819.3 671.0,819.5 672.5,819.7 674.0,819.9 675.5,820.1 677.0,820.2 678.5,820.4 680.0,820.6 681.5,820.8 683.0,820.9 684.5,821.1 686.0,821.3 687.5,821.4 689.0,821.6 690.5,821.8 692.0,821.9 693.5,822.1 695.0,822.2 696.5,822.3 698.0,822.5 699.5,822.6 701.0,822.7 702.5,822.8 704.0,822.9 705.5,823.0 707.0,823.1 708.5,823.2 710.0,823.3 711.5,823.3 713.0,823.4 714.5,823.4 716.0,823.5 717.5,823.5 719.0,823.5 720.5,823.5 722.0,823.5 723.5,823.5 725.0,823.5 726.5,823.4 728.0,823.4 729.5,823.4 731.0,823.3 732.5,823.3 734.0,823.2 735.5,823.2 737.0,823.1 738.5,823.0 740.0,822.9 741.5,822.9 743.0,822.8 744.5,822.7 746.0,822.6 747.5,822.5 749.0,822.4 750.5,822.3 752.0,822.2 753.5,822.1 755.0,822.0 756.5,821.9 758.0,821.8 759.5,821.7 761.0,821.6 762.5,821.5 764.0,821.3 765.5,821.2 767.0,821.1 768.5,821.0 770.0,820.9 771.5,820.8 773.0,820.6 774.5,820.5 776.0,820.4 777.5,820.3 779.0,820.1 780.5,820.0 782.0,819.9 783.5,819.8 785.0,819.7 786.5,819.5" fill="none" stroke="#4DBEEE" stroke-width="2.2" stroke-linejoin="round" stroke-linecap="round" />
<polyline points="201.0,709.8 202.5,710.4 204.0,711.0 205.5,711.5 207.0,712.1 208.5,712.6 210.0,713.1 211.5,713.7 213.0,714.2 214.5,714.7 216.0,715.2 217.5,715.7 219.0,716.2 220.5,716.7 222.0,717.1 223.5,717.6 225.0,718.1 226.5,718.6 228.0,719.0 229.5,719.5 231.0,719.9 232.5,720.4 234.0,720.8 235.5,721.3 237.0,721.7 238.5,722.2 240.0,722.6 241.5,723.0 243.0,723.5 244.5,723.9 246.0,724.3 247.5,724.7 249.0,725.2 250.5,725.6 252.0,726.0 253.5,726.4 255.0,726.8 256.5,727.3 258.0,727.7 259.5,728.1 261.0,728.5 262.5,728.9 264.0,729.3 265.5,729.7 267.0,730.1 268.5,730.5 270.0,730.9 271.5,731.3 273.0,731.7 274.5,732.1 276.0,732.6 277.5,733.0 279.0,733.4 280.5,733.8 282.0,734.2 283.5,734.6 285.0,735.0 286.5,735.4 288.0,735.8 289.5,736.2 291.0,736.6 292.5,737.0 294.0,737.4 295.5,737.9 297.0,738.3 298.5,738.7 300.0,739.1 301.5,739.5 303.0,739.9 304.5,740.3 306.0,740.8 307.5,741.2 309.0,741.6 310.5,742.0 312.0,742.4 313.5,742.9 315.0,743.3 316.5,743.7 318.0,744.1 319.5,744.6 321.0,745.0 322.5,745.4 324.0,745.9 325.5,746.3 327.0,746.7 328.5,747.2 330.0,747.6 331.5,748.0 333.0,748.5 334.5,748.9 336.0,749.4 337.5,749.8 339.0,750.3 340.5,750.7 342.0,751.2 343.5,751.6 345.0,752.1 346.5,752.5 348.0,753.0 349.5,753.4 351.0,753.9 352.5,754.3 354.0,754.8 355.5,755.3 357.0,755.7 358.5,756.2 360.0,756.7 361.5,757.1 363.0,757.6 364.5,758.1 366.0,758.5 367.5,759.0 369.0,759.5 370.5,759.9 372.0,760.4 373.5,760.9 375.0,761.4 376.5,761.9 378.0,762.3 379.5,762.8 381.0,763.3 382.5,763.8 384.0,764.3 385.5,764.7 387.0,765.2 388.5,765.7 390.0,766.2 391.5,766.7 393.0,767.2 394.5,767.7 396.0,768.2 397.5,768.6 399.0,769.1 400.5,769.6 402.0,770.1 403.5,770.6 405.0,771.1 406.5,771.6 408.0,772.1 409.5,772.6 411.0,773.1 412.5,773.6 414.0,774.1 415.5,774.6 417.0,775.1 418.5,775.6 420.0,776.1 421.5,776.6 423.0,777.1 424.5,777.6 426.0,778.1 427.5,778.6 429.0,779.1 430.5,779.6 432.0,780.1 433.5,780.6 435.0,781.0 436.5,781.5 438.0,782.0 439.5,782.5 441.0,783.0 442.5,783.5 444.0,784.0 445.5,784.5 447.0,785.0 448.5,785.5 450.0,786.0 451.5,786.5 453.0,787.0 454.5,787.5 456.0,788.0 457.5,788.5 459.0,789.0 460.5,789.5 462.0,790.0 463.5,790.5 465.0,791.0 466.5,791.5 468.0,792.0 469.5,792.5 471.0,793.0 472.5,793.5 474.0,794.0 475.5,794.5 477.0,795.0 478.5,795.5 480.0,795.9 481.5,796.4 483.0,796.9 484.5,797.4 486.0,797.9 487.5,798.4 489.0,798.9 490.5,799.4 492.0,799.9 493.5,800.3 495.0,800.8 496.5,801.3 498.0,801.8 499.5,802.3 501.0,802.8 502.5,803.2 504.0,803.7 505.5,804.2 507.0,804.7 508.5,805.2 510.0,805.6 511.5,806.1 513.0,806.6 514.5,807.1 516.0,807.6 517.5,808.0 519.0,808.5 520.5,809.0 522.0,809.4 523.5,809.9 525.0,810.4 526.5,810.9 528.0,811.3 529.5,811.8 531.0,812.3 532.5,812.7 534.0,813.2 535.5,813.7 537.0,814.2 538.5,814.6 540.0,815.1 541.5,815.5 543.0,816.0 544.5,816.5 546.0,816.9 547.5,817.4 549.0,817.9 550.5,818.3 552.0,818.8 553.5,819.3 555.0,819.7 556.5,820.2 558.0,820.6 559.5,821.1 561.0,821.6 562.5,822.0 564.0,822.5 565.5,822.9 567.0,823.4 568.5,823.9 570.0,824.3 571.5,824.8 573.0,825.2 574.5,825.7 576.0,826.1 577.5,826.6 579.0,827.1 580.5,827.5 582.0,828.0 583.5,828.4 585.0,828.9 586.5,829.3 588.0,829.8 589.5,830.2 591.0,830.7 592.5,831.2 594.0,831.6 595.5,832.1 597.0,832.5 598.5,833.0 600.0,833.4 601.5,833.9 603.0,834.4 604.5,834.8 606.0,835.3 607.5,835.7 609.0,836.2 610.5,836.6 612.0,837.1 613.5,837.6 615.0,838.0 616.5,838.5 618.0,838.9 619.5,839.4 621.0,839.9 622.5,840.3 624.0,840.8 625.5,841.3 627.0,841.7 628.5,842.2 630.0,842.7 631.5,843.1 633.0,843.6 634.5,844.0 636.0,844.5 637.5,845.0 639.0,845.5 640.5,845.9 642.0,846.4 643.5,846.9 645.0,847.3 646.5,847.8 648.0,848.3 649.5,848.8 651.0,849.2 652.5,849.7 654.0,850.2 655.5,850.7 657.0,851.1 658.5,851.6 660.0,852.1 661.5,852.6 663.0,853.1 664.5,853.5 666.0,854.0 667.5,854.5 669.0,855.0 670.5,855.5 672.0,856.0 673.5,856.5 675.0,856.9 676.5,857.4 678.0,857.9 679.5,858.4 681.0,858.9 682.5,859.4 684.0,859.9 685.5,860.4 687.0,860.9 688.5,861.4 690.0,861.9 691.5,862.4 693.0,862.9 694.5,863.4 696.0,863.9 697.5,864.4 699.0,864.9 700.5,865.4 702.0,865.9 703.5,866.4 705.0,866.9 706.5,867.4 708.0,867.9 709.5,868.4 711.0,868.9 712.5,869.4 714.0,869.9 715.5,870.4 717.0,870.9 718.5,871.4 720.0,871.9 721.5,872.4 723.0,872.9 724.5,873.4 726.0,873.9 727.5,874.4 729.0,874.9 730.5,875.4 732.0,875.9 733.5,876.4 735.0,876.9 736.5,877.4 738.0,877.9 739.5,878.4 741.0,878.9 742.5,879.4 744.0,879.9 745.5,880.4 747.0,880.9 748.5,881.4 750.0,881.9 751.5,882.4 753.0,882.9 754.5,883.4 756.0,883.8 757.5,884.3 759.0,884.8 760.5,885.3 762.0,885.7 763.5,886.2 765.0,886.7 766.5,887.1 768.0,887.6 769.5,888.1 771.0,888.5 772.5,889.0 774.0,889.4 775.5,889.8 777.0,890.3 778.5,890.7 780.0,891.1 781.5,891.6 783.0,892.0 784.5,892.4 786.0,892.8" fill="none" stroke="#77AC30" stroke-width="2.2" stroke-linejoin="round" stroke-linecap="round" />
<polyline points="192.0,710.0 193.5,710.5 195.0,711.1 196.5,711.7 198.0,712.2 199.5,712.8 201.0,713.3 202.5,713.9 204.0,714.4 205.5,714.9 207.0,715.4 208.5,715.9 210.0,716.4 211.5,716.9 213.0,717.4 214.5,717.9 216.0,718.4 217.5,718.9 219.0,719.4 220.5,719.9 222.0,720.3 223.5,720.8 225.0,721.3 226.5,721.7 228.0,722.2 229.5,722.6 231.0,723.1 232.5,723.5 234.0,724.0 235.5,724.4 237.0,724.9 238.5,725.3 240.0,725.7 241.5,726.2 243.0,726.6 244.5,727.0 246.0,727.5 247.5,727.9 249.0,728.3 250.5,728.8 252.0,729.2 253.5,729.6 255.0,730.1 256.5,730.5 258.0,730.9 259.5,731.3 261.0,731.8 262.5,732.2 264.0,732.6 265.5,733.0 267.0,733.5 268.5,733.9 270.0,734.3 271.5,734.7 273.0,735.2 274.5,735.6 276.0,736.0 277.5,736.4 279.0,736.9 280.5,737.3 282.0,737.7 283.5,738.2 285.0,738.6 286.5,739.0 288.0,739.5 289.5,739.9 291.0,740.3 292.5,740.8 294.0,741.2 295.5,741.7 297.0,742.1 298.5,742.6 300.0,743.0 301.5,743.4 303.0,743.9 304.5,744.3 306.0,744.8 307.5,745.3 309.0,745.7 310.5,746.2 312.0,746.6 313.5,747.1 315.0,747.5 316.5,748.0 318.0,748.5 319.5,748.9 321.0,749.4 322.5,749.9 324.0,750.4 325.5,750.8 327.0,751.3 328.5,751.8 330.0,752.3 331.5,752.7 333.0,753.2 334.5,753.7 336.0,754.2 337.5,754.7 339.0,755.2 340.5,755.7 342.0,756.2 343.5,756.7 345.0,757.2 346.5,757.7 348.0,758.2 349.5,758.7 351.0,759.2 352.5,759.7 354.0,760.2 355.5,760.7 357.0,761.2 358.5,761.7 360.0,762.3 361.5,762.8 363.0,763.3 364.5,763.8 366.0,764.3 367.5,764.9 369.0,765.4 370.5,765.9 372.0,766.5 373.5,767.0 375.0,767.5 376.5,768.1 378.0,768.6 379.5,769.1 381.0,769.7 382.5,770.2 384.0,770.8 385.5,771.3 387.0,771.8 388.5,772.4 390.0,772.9 391.5,773.5 393.0,774.0 394.5,774.6 396.0,775.2 397.5,775.7 399.0,776.3 400.5,776.8 402.0,777.4 403.5,777.9 405.0,778.5 406.5,779.1 408.0,779.6 409.5,780.2 411.0,780.8 412.5,781.3 414.0,781.9 415.5,782.5 417.0,783.0 418.5,783.6 420.0,784.2 421.5,784.8 423.0,785.3 424.5,785.9 426.0,786.5 427.5,787.1 429.0,787.6 430.5,788.2 432.0,788.8 433.5,789.4 435.0,790.0 436.5,790.5 438.0,791.1 439.5,791.7 441.0,792.3 442.5,792.9 444.0,793.5 445.5,794.0 447.0,794.6 448.5,795.2 450.0,795.8 451.5,796.4 453.0,797.0 454.5,797.6 456.0,798.2 457.5,798.8 459.0,799.3 460.5,799.9 462.0,800.5 463.5,801.1 465.0,801.7 466.5,802.3 468.0,802.9 469.5,803.5 471.0,804.1 472.5,804.7 474.0,805.3 475.5,805.9 477.0,806.5 478.5,807.1 480.0,807.7 481.5,808.3 483.0,808.9 484.5,809.5 486.0,810.1 487.5,810.7 489.0,811.3 490.5,811.9 492.0,812.5 493.5,813.1 495.0,813.7 496.5,814.3 498.0,814.9 499.5,815.5 501.0,816.1 502.5,816.7 504.0,817.3 505.5,817.9 507.0,818.5 508.5,819.1 510.0,819.7 511.5,820.3 513.0,820.9 514.5,821.5 516.0,822.1 517.5,822.7 519.0,823.3 520.5,824.0 522.0,824.6 523.5,825.2 525.0,825.8 526.5,826.4 528.0,827.0 529.5,827.6 531.0,828.2 532.5,828.8 534.0,829.4 535.5,830.1 537.0,830.7 538.5,831.3 540.0,831.9 541.5,832.5 543.0,833.1 544.5,833.7 546.0,834.4 547.5,835.0 549.0,835.6 550.5,836.2 552.0,836.8 553.5,837.5 555.0,838.1 556.5,838.7 558.0,839.3 559.5,840.0 561.0,840.6 562.5,841.2 564.0,841.8 565.5,842.5 567.0,843.1 568.5,843.7 570.0,844.4 571.5,845.0 573.0,845.6 574.5,846.3 576.0,846.9 577.5,847.5 579.0,848.2 580.5,848.8 582.0,849.4 583.5,850.1 585.0,850.7 586.5,851.4 588.0,852.0 589.5,852.7 591.0,853.3 592.5,854.0 594.0,854.6 595.5,855.3 597.0,855.9 598.5,856.6 600.0,857.3 601.5,857.9 603.0,858.6 604.5,859.3 606.0,859.9 607.5,860.6 609.0,861.3 610.5,861.9 612.0,862.6 613.5,863.3 615.0,864.0 616.5,864.6 618.0,865.3 619.5,866.0 621.0,866.7 622.5,867.4 624.0,868.1 625.5,868.8 627.0,869.5 628.5,870.2 630.0,870.9 631.5,871.6 633.0,872.3 634.5,873.0 636.0,873.7 637.5,874.4 639.0,875.1 640.5,875.9 642.0,876.6 643.5,877.3 645.0,878.0 646.5,878.8 648.0,879.5 649.5,880.2 651.0,881.0 652.5,881.7 654.0,882.5 655.5,883.2 657.0,884.0 658.5,884.7 660.0,885.5 661.5,886.3 663.0,887.0 664.5,887.8 666.0,888.6 667.5,889.3 669.0,890.1 670.5,890.9 672.0,891.7 673.5,892.5 675.0,893.3 676.5,894.0 678.0,894.8 679.5,895.6 681.0,896.5 682.5,897.3 684.0,898.1 685.5,898.9 687.0,899.7 688.5,900.5 690.0,901.4 691.5,902.2 693.0,903.0 694.5,903.9 696.0,904.7 697.5,905.5 699.0,906.4 700.5,907.2 702.0,908.1 703.5,909.0 705.0,909.8 706.5,910.7 708.0,911.6 709.5,912.4 711.0,913.3 712.5,914.2 714.0,915.1 715.5,916.0 717.0,916.8 718.5,917.7 720.0,918.6 721.5,919.5 723.0,920.4 724.5,921.4 726.0,922.3 727.5,923.2 729.0,924.1 730.5,925.0 732.0,926.0 733.5,926.9 735.0,927.8 736.5,928.8 738.0,929.7 739.5,930.6 741.0,931.6 742.5,932.5 744.0,933.5 745.5,934.4 747.0,935.4 748.5,936.4 750.0,937.3 751.5,938.3 753.0,939.3 754.5,940.2 756.0,941.2 757.5,942.2 759.0,943.2 760.5,944.2 762.0,945.1 763.5,946.1 765.0,947.1 766.5,948.1 768.0,949.1 769.5,950.1 771.0,951.1 772.5,952.1 774.0,953.1 775.5,954.1 777.0,955.1 778.5,956.1 780.0,957.1 781.5,958.2 783.0,959.2 784.5,960.2 786.0,961.2" fill="none" stroke="#7E2F8E" stroke-width="2.2" stroke-linejoin="round" stroke-linecap="round" />
<polyline points="184.0,709.9 185.5,710.6 187.0,711.3 188.5,711.9 190.0,712.6 191.5,713.2 193.0,713.8 194.5,714.4 196.0,715.0 197.5,715.6 199.0,716.2 200.5,716.8 202.0,717.3 203.5,717.9 205.0,718.4 206.5,719.0 208.0,719.5 209.5,720.0 211.0,720.5 212.5,721.1 214.0,721.6 215.5,722.1 217.0,722.5 218.5,723.0 220.0,723.5 221.5,724.0 223.0,724.5 224.5,724.9 226.0,725.4 227.5,725.8 229.0,726.3 230.5,726.7 232.0,727.2 233.5,727.6 235.0,728.1 236.5,728.5 238.0,729.0 239.5,729.4 241.0,729.8 242.5,730.3 244.0,730.7 245.5,731.1 247.0,731.6 248.5,732.0 250.0,732.4 251.5,732.9 253.0,733.3 254.5,733.7 256.0,734.1 257.5,734.6 259.0,735.0 260.5,735.4 262.0,735.9 263.5,736.3 265.0,736.7 266.5,737.1 268.0,737.6 269.5,738.0 271.0,738.4 272.5,738.9 274.0,739.3 275.5,739.8 277.0,740.2 278.5,740.6 280.0,741.1 281.5,741.5 283.0,742.0 284.5,742.4 286.0,742.9 287.5,743.3 289.0,743.8 290.5,744.3 292.0,744.7 293.5,745.2 295.0,745.7 296.5,746.1 298.0,746.6 299.5,747.1 301.0,747.6 302.5,748.0 304.0,748.5 305.5,749.0 307.0,749.5 308.5,750.0 310.0,750.5 311.5,751.0 313.0,751.5 314.5,752.0 316.0,752.5 317.5,753.0 319.0,753.5 320.5,754.0 322.0,754.5 323.5,755.0 325.0,755.6 326.5,756.1 328.0,756.6 329.5,757.1 331.0,757.7 332.5,758.2 334.0,758.7 335.5,759.3 337.0,759.8 338.5,760.4 340.0,760.9 341.5,761.5 343.0,762.0 344.5,762.6 346.0,763.1 347.5,763.7 349.0,764.3 350.5,764.8 352.0,765.4 353.5,766.0 355.0,766.6 356.5,767.1 358.0,767.7 359.5,768.3 361.0,768.9 362.5,769.5 364.0,770.1 365.5,770.7 367.0,771.3 368.5,771.8 370.0,772.4 371.5,773.0 373.0,773.6 374.5,774.3 376.0,774.9 377.5,775.5 379.0,776.1 380.5,776.7 382.0,777.3 383.5,777.9 385.0,778.5 386.5,779.2 388.0,779.8 389.5,780.4 391.0,781.0 392.5,781.7 394.0,782.3 395.5,782.9 397.0,783.5 398.5,784.2 400.0,784.8 401.5,785.4 403.0,786.1 404.5,786.7 406.0,787.3 407.5,788.0 409.0,788.6 410.5,789.3 412.0,789.9 413.5,790.6 415.0,791.2 416.5,791.8 418.0,792.5 419.5,793.1 421.0,793.8 422.5,794.4 424.0,795.1 425.5,795.7 427.0,796.4 428.5,797.0 430.0,797.7 431.5,798.4 433.0,799.0 434.5,799.7 436.0,800.3 437.5,801.0 439.0,801.6 440.5,802.3 442.0,803.0 443.5,803.6 445.0,804.3 446.5,804.9 448.0,805.6 449.5,806.2 451.0,806.9 452.5,807.6 454.0,808.2 455.5,808.9 457.0,809.6 458.5,810.2 460.0,810.9 461.5,811.5 463.0,812.2 464.5,812.9 466.0,813.5 467.5,814.2 469.0,814.9 470.5,815.5 472.0,816.2 473.5,816.9 475.0,817.5 476.5,818.2 478.0,818.9 479.5,819.5 481.0,820.2 482.5,820.9 484.0,821.5 485.5,822.2 487.0,822.9 488.5,823.5 490.0,824.2 491.5,824.9 493.0,825.5 494.5,826.2 496.0,826.9 497.5,827.6 499.0,828.2 500.5,828.9 502.0,829.6 503.5,830.2 505.0,830.9 506.5,831.6 508.0,832.3 509.5,832.9 511.0,833.6 512.5,834.3 514.0,835.0 515.5,835.7 517.0,836.3 518.5,837.0 520.0,837.7 521.5,838.4 523.0,839.1 524.5,839.7 526.0,840.4 527.5,841.1 529.0,841.8 530.5,842.5 532.0,843.2 533.5,843.9 535.0,844.6 536.5,845.3 538.0,846.0 539.5,846.7 541.0,847.4 542.5,848.1 544.0,848.8 545.5,849.5 547.0,850.2 548.5,850.9 550.0,851.6 551.5,852.3 553.0,853.0 554.5,853.7 556.0,854.4 557.5,855.1 559.0,855.9 560.5,856.6 562.0,857.3 563.5,858.0 565.0,858.8 566.5,859.5 568.0,860.2 569.5,861.0 571.0,861.7 572.5,862.5 574.0,863.2 575.5,864.0 577.0,864.7 578.5,865.5 580.0,866.2 581.5,867.0 583.0,867.8 584.5,868.5 586.0,869.3 587.5,870.1 589.0,870.8 590.5,871.6 592.0,872.4 593.5,873.2 595.0,874.0 596.5,874.8 598.0,875.6 599.5,876.4 601.0,877.2 602.5,878.0 604.0,878.8 605.5,879.7 607.0,880.5 608.5,881.3 610.0,882.2 611.5,883.0 613.0,883.9 614.5,884.7 616.0,885.6 617.5,886.4 619.0,887.3 620.5,888.2 622.0,889.0 623.5,889.9 625.0,890.8 626.5,891.7 628.0,892.6 629.5,893.5 631.0,894.4 632.5,895.3 634.0,896.2 635.5,897.2 637.0,898.1 638.5,899.0 640.0,900.0 641.5,900.9 643.0,901.9 644.5,902.8 646.0,903.8 647.5,904.8 649.0,905.8 650.5,906.7 652.0,907.7 653.5,908.7 655.0,909.7 656.5,910.7 658.0,911.8 659.5,912.8 661.0,913.8 662.5,914.9 664.0,915.9 665.5,917.0 667.0,918.0 668.5,919.1 670.0,920.2 671.5,921.2 673.0,922.3 674.5,923.4 676.0,924.5 677.5,925.6 679.0,926.7 680.5,927.9 682.0,929.0 683.5,930.1 685.0,931.3 686.5,932.4 688.0,933.6 689.5,934.7 691.0,935.9 692.5,937.1 694.0,938.3 695.5,939.5 697.0,940.7 698.5,941.9 700.0,943.1 701.5,944.3 703.0,945.5 704.5,946.8 706.0,948.0 707.5,949.2 709.0,950.5 710.5,951.8 712.0,953.0 713.5,954.3 715.0,955.6 716.5,956.9 718.0,958.1 719.5,959.4 721.0,960.8 722.5,962.1 724.0,963.4 725.5,964.7 727.0,966.0 728.5,967.4 730.0,968.7 731.5,970.1 733.0,971.4 734.5,972.8 736.0,974.1 737.5,975.5 739.0,976.9 740.5,978.2 742.0,979.6 743.5,981.0 745.0,982.4 746.5,983.8 748.0,985.2 749.5,986.6 751.0,988.0 752.5,989.4 754.0,990.8 755.5,992.2 757.0,993.7 758.5,995.1 760.0,996.5 761.5,997.9 763.0,999.4 764.5,1000.8 766.0,1002.2 767.5,1003.7 769.0,1005.1 770.5,1006.5 772.0,1008.0 773.5,1009.4 775.0,1010.8 776.5,1012.3 778.0,1013.7 779.5,1015.2 781.0,1016.6 782.5,1018.0 784.0,1019.4 785.5,1020.9" fill="none" stroke="#EDB120" stroke-width="2.2" stroke-linejoin="round" stroke-linecap="round" />
<polyline points="176.0,710.0 177.5,710.6 179.0,711.2 180.5,711.8 182.0,712.4 183.5,713.0 185.0,713.6 186.5,714.2 188.0,714.7 189.5,715.3 191.0,715.8 192.5,716.4 194.0,716.9 195.5,717.5 197.0,718.0 198.5,718.5 200.0,719.1 201.5,719.6 203.0,720.1 204.5,720.6 206.0,721.1 207.5,721.6 209.0,722.1 210.5,722.6 212.0,723.1 213.5,723.6 215.0,724.1 216.5,724.6 218.0,725.0 219.5,725.5 221.0,726.0 222.5,726.5 224.0,726.9 225.5,727.4 227.0,727.9 228.5,728.4 230.0,728.8 231.5,729.3 233.0,729.8 234.5,730.2 236.0,730.7 237.5,731.1 239.0,731.6 240.5,732.1 242.0,732.5 243.5,733.0 245.0,733.5 246.5,733.9 248.0,734.4 249.5,734.9 251.0,735.3 252.5,735.8 254.0,736.3 255.5,736.7 257.0,737.2 258.5,737.7 260.0,738.1 261.5,738.6 263.0,739.1 264.5,739.6 266.0,740.0 267.5,740.5 269.0,741.0 270.5,741.5 272.0,741.9 273.5,742.4 275.0,742.9 276.5,743.4 278.0,743.9 279.5,744.4 281.0,744.9 282.5,745.4 284.0,745.9 285.5,746.4 287.0,746.9 288.5,747.4 290.0,747.9 291.5,748.4 293.0,748.9 294.5,749.4 296.0,749.9 297.5,750.4 299.0,750.9 300.5,751.5 302.0,752.0 303.5,752.5 305.0,753.0 306.5,753.6 308.0,754.1 309.5,754.6 311.0,755.2 312.5,755.7 314.0,756.3 315.5,756.8 317.0,757.4 318.5,757.9 320.0,758.5 321.5,759.0 323.0,759.6 324.5,760.1 326.0,760.7 327.5,761.3 329.0,761.8 330.5,762.4 332.0,763.0 333.5,763.5 335.0,764.1 336.5,764.7 338.0,765.3 339.5,765.9 341.0,766.5 342.5,767.1 344.0,767.7 345.5,768.2 347.0,768.8 348.5,769.4 350.0,770.0 351.5,770.7 353.0,771.3 354.5,771.9 356.0,772.5 357.5,773.1 359.0,773.7 360.5,774.3 362.0,775.0 363.5,775.6 365.0,776.2 366.5,776.8 368.0,777.5 369.5,778.1 371.0,778.7 372.5,779.4 374.0,780.0 375.5,780.7 377.0,781.3 378.5,781.9 380.0,782.6 381.5,783.2 383.0,783.9 384.5,784.6 386.0,785.2 387.5,785.9 389.0,786.5 390.5,787.2 392.0,787.9 393.5,788.5 395.0,789.2 396.5,789.9 398.0,790.5 399.5,791.2 401.0,791.9 402.5,792.6 404.0,793.2 405.5,793.9 407.0,794.6 408.5,795.3 410.0,796.0 411.5,796.7 413.0,797.4 414.5,798.0 416.0,798.7 417.5,799.4 419.0,800.1 420.5,800.8 422.0,801.5 423.5,802.2 425.0,802.9 426.5,803.6 428.0,804.3 429.5,805.0 431.0,805.8 432.5,806.5 434.0,807.2 435.5,807.9 437.0,808.6 438.5,809.3 440.0,810.0 441.5,810.8 443.0,811.5 444.5,812.2 446.0,812.9 447.5,813.6 449.0,814.4 450.5,815.1 452.0,815.8 453.5,816.6 455.0,817.3 456.5,818.0 458.0,818.8 459.5,819.5 461.0,820.2 462.5,821.0 464.0,821.7 465.5,822.5 467.0,823.2 468.5,824.0 470.0,824.7 471.5,825.4 473.0,826.2 474.5,827.0 476.0,827.7 477.5,828.5 479.0,829.2 480.5,830.0 482.0,830.7 483.5,831.5 485.0,832.3 486.5,833.0 488.0,833.8 489.5,834.6 491.0,835.3 492.5,836.1 494.0,836.9 495.5,837.6 497.0,838.4 498.5,839.2 500.0,840.0 501.5,840.8 503.0,841.5 504.5,842.3 506.0,843.1 507.5,843.9 509.0,844.7 510.5,845.5 512.0,846.3 513.5,847.1 515.0,847.9 516.5,848.7 518.0,849.5 519.5,850.3 521.0,851.1 522.5,851.9 524.0,852.7 525.5,853.5 527.0,854.3 528.5,855.1 530.0,856.0 531.5,856.8 533.0,857.6 534.5,858.4 536.0,859.3 537.5,860.1 539.0,860.9 540.5,861.8 542.0,862.6 543.5,863.5 545.0,864.3 546.5,865.2 548.0,866.0 549.5,866.9 551.0,867.7 552.5,868.6 554.0,869.5 555.5,870.3 557.0,871.2 558.5,872.1 560.0,873.0 561.5,873.8 563.0,874.7 564.5,875.6 566.0,876.5 567.5,877.4 569.0,878.3 570.5,879.2 572.0,880.1 573.5,881.0 575.0,881.9 576.5,882.8 578.0,883.8 579.5,884.7 581.0,885.6 582.5,886.5 584.0,887.5 585.5,888.4 587.0,889.4 588.5,890.3 590.0,891.3 591.5,892.2 593.0,893.2 594.5,894.2 596.0,895.1 597.5,896.1 599.0,897.1 600.5,898.1 602.0,899.1 603.5,900.1 605.0,901.1 606.5,902.1 608.0,903.1 609.5,904.1 611.0,905.2 612.5,906.2 614.0,907.2 615.5,908.3 617.0,909.3 618.5,910.3 620.0,911.4 621.5,912.5 623.0,913.5 624.5,914.6 626.0,915.7 627.5,916.8 629.0,917.9 630.5,919.0 632.0,920.1 633.5,921.2 635.0,922.3 636.5,923.4 638.0,924.5 639.5,925.7 641.0,926.8 642.5,928.0 644.0,929.1 645.5,930.3 647.0,931.5 648.5,932.6 650.0,933.8 651.5,935.0 653.0,936.2 654.5,937.4 656.0,938.6 657.5,939.8 659.0,941.0 660.5,942.3 662.0,943.5 663.5,944.8 665.0,946.0 666.5,947.3 668.0,948.5 669.5,949.8 671.0,951.1 672.5,952.4 674.0,953.7 675.5,955.0 677.0,956.3 678.5,957.6 680.0,959.0 681.5,960.3 683.0,961.6 684.5,963.0 686.0,964.3 687.5,965.7 689.0,967.1 690.5,968.5 692.0,969.9 693.5,971.3 695.0,972.7 696.5,974.1 698.0,975.5 699.5,976.9 701.0,978.4 702.5,979.8 704.0,981.3 705.5,982.8 707.0,984.2 708.5,985.7 710.0,987.2 711.5,988.7 713.0,990.2 714.5,991.7 716.0,993.2 717.5,994.8 719.0,996.3 720.5,997.8 722.0,999.4 723.5,1001.0 725.0,1002.5 726.5,1004.1 728.0,1005.7 729.5,1007.3 731.0,1008.9 732.5,1010.5 734.0,1012.1 735.5,1013.7 737.0,1015.4 738.5,1017.0 740.0,1018.7 741.5,1020.3 743.0,1022.0 744.5,1023.7 746.0,1025.3 747.5,1027.0 749.0,1028.7 750.5,1030.4 752.0,1032.1 753.5,1033.8 755.0,1035.6 756.5,1037.3 758.0,1039.0 759.5,1040.8 761.0,1042.5 762.5,1044.3 764.0,1046.0 765.5,1047.8 767.0,1049.6 768.5,1051.4 770.0,1053.2 771.5,1055.0 773.0,1056.8 774.5,1058.6 776.0,1060.4 777.5,1062.2 779.0,1064.0 780.5,1065.9 782.0,1067.7 783.5,1069.5 785.0,1071.4 786.5,1073.2" fill="none" stroke="#D95319" stroke-width="2.2" stroke-linejoin="round" stroke-linecap="round" />
<polyline points="168.0,710.0 169.5,710.7 171.0,711.3 172.5,712.0 174.0,712.7 175.5,713.3 177.0,713.9 178.5,714.6 180.0,715.2 181.5,715.8 183.0,716.4 184.5,717.0 186.0,717.6 187.5,718.1 189.0,718.7 190.5,719.3 192.0,719.8 193.5,720.4 195.0,720.9 196.5,721.4 198.0,722.0 199.5,722.5 201.0,723.0 202.5,723.5 204.0,724.0 205.5,724.6 207.0,725.1 208.5,725.6 210.0,726.1 211.5,726.5 213.0,727.0 214.5,727.5 216.0,728.0 217.5,728.5 219.0,729.0 220.5,729.4 222.0,729.9 223.5,730.4 225.0,730.9 226.5,731.3 228.0,731.8 229.5,732.3 231.0,732.8 232.5,733.2 234.0,733.7 235.5,734.2 237.0,734.6 238.5,735.1 240.0,735.6 241.5,736.0 243.0,736.5 244.5,737.0 246.0,737.4 247.5,737.9 249.0,738.4 250.5,738.8 252.0,739.3 253.5,739.8 255.0,740.3 256.5,740.7 258.0,741.2 259.5,741.7 261.0,742.2 262.5,742.7 264.0,743.2 265.5,743.6 267.0,744.1 268.5,744.6 270.0,745.1 271.5,745.6 273.0,746.1 274.5,746.6 276.0,747.1 277.5,747.6 279.0,748.1 280.5,748.6 282.0,749.1 283.5,749.7 285.0,750.2 286.5,750.7 288.0,751.2 289.5,751.8 291.0,752.3 292.5,752.8 294.0,753.3 295.5,753.9 297.0,754.4 298.5,755.0 300.0,755.5 301.5,756.1 303.0,756.6 304.5,757.2 306.0,757.7 307.5,758.3 309.0,758.9 310.5,759.4 312.0,760.0 313.5,760.6 315.0,761.1 316.5,761.7 318.0,762.3 319.5,762.9 321.0,763.5 322.5,764.1 324.0,764.7 325.5,765.3 327.0,765.9 328.5,766.5 330.0,767.1 331.5,767.7 333.0,768.3 334.5,768.9 336.0,769.5 337.5,770.2 339.0,770.8 340.5,771.4 342.0,772.1 343.5,772.7 345.0,773.3 346.5,774.0 348.0,774.6 349.5,775.3 351.0,775.9 352.5,776.6 354.0,777.2 355.5,777.9 357.0,778.5 358.5,779.2 360.0,779.9 361.5,780.5 363.0,781.2 364.5,781.9 366.0,782.5 367.5,783.2 369.0,783.9 370.5,784.6 372.0,785.3 373.5,786.0 375.0,786.7 376.5,787.3 378.0,788.0 379.5,788.7 381.0,789.4 382.5,790.1 384.0,790.9 385.5,791.6 387.0,792.3 388.5,793.0 390.0,793.7 391.5,794.4 393.0,795.1 394.5,795.9 396.0,796.6 397.5,797.3 399.0,798.0 400.5,798.8 402.0,799.5 403.5,800.2 405.0,801.0 406.5,801.7 408.0,802.4 409.5,803.2 411.0,803.9 412.5,804.7 414.0,805.4 415.5,806.2 417.0,806.9 418.5,807.7 420.0,808.4 421.5,809.2 423.0,810.0 424.5,810.7 426.0,811.5 427.5,812.2 429.0,813.0 430.5,813.8 432.0,814.6 433.5,815.3 435.0,816.1 436.5,816.9 438.0,817.7 439.5,818.4 441.0,819.2 442.5,820.0 444.0,820.8 445.5,821.6 447.0,822.4 448.5,823.2 450.0,823.9 451.5,824.7 453.0,825.5 454.5,826.3 456.0,827.1 457.5,827.9 459.0,828.7 460.5,829.5 462.0,830.3 463.5,831.2 465.0,832.0 466.5,832.8 468.0,833.6 469.5,834.4 471.0,835.2 472.5,836.1 474.0,836.9 475.5,837.7 477.0,838.5 478.5,839.4 480.0,840.2 481.5,841.0 483.0,841.8 484.5,842.7 486.0,843.5 487.5,844.4 489.0,845.2 490.5,846.1 492.0,846.9 493.5,847.7 495.0,848.6 496.5,849.5 498.0,850.3 499.5,851.2 501.0,852.0 502.5,852.9 504.0,853.8 505.5,854.6 507.0,855.5 508.5,856.4 510.0,857.3 511.5,858.1 513.0,859.0 514.5,859.9 516.0,860.8 517.5,861.7 519.0,862.6 520.5,863.5 522.0,864.4 523.5,865.3 525.0,866.2 526.5,867.1 528.0,868.0 529.5,868.9 531.0,869.8 532.5,870.8 534.0,871.7 535.5,872.6 537.0,873.5 538.5,874.5 540.0,875.4 541.5,876.4 543.0,877.3 544.5,878.3 546.0,879.2 547.5,880.2 549.0,881.1 550.5,882.1 552.0,883.1 553.5,884.1 555.0,885.0 556.5,886.0 558.0,887.0 559.5,888.0 561.0,889.0 562.5,890.0 564.0,891.0 565.5,892.0 567.0,893.0 568.5,894.1 570.0,895.1 571.5,896.1 573.0,897.2 574.5,898.2 576.0,899.2 577.5,900.3 579.0,901.3 580.5,902.4 582.0,903.5 583.5,904.6 585.0,905.6 586.5,906.7 588.0,907.8 589.5,908.9 591.0,910.0 592.5,911.1 594.0,912.2 595.5,913.3 597.0,914.5 598.5,915.6 600.0,916.7 601.5,917.9 603.0,919.0 604.5,920.2 606.0,921.4 607.5,922.5 609.0,923.7 610.5,924.9 612.0,926.1 613.5,927.3 615.0,928.5 616.5,929.7 618.0,930.9 619.5,932.1 621.0,933.4 622.5,934.6 624.0,935.8 625.5,937.1 627.0,938.4 628.5,939.6 630.0,940.9 631.5,942.2 633.0,943.5 634.5,944.8 636.0,946.1 637.5,947.4 639.0,948.7 640.5,950.1 642.0,951.4 643.5,952.8 645.0,954.1 646.5,955.5 648.0,956.8 649.5,958.2 651.0,959.6 652.5,961.0 654.0,962.4 655.5,963.8 657.0,965.2 658.5,966.7 660.0,968.1 661.5,969.5 663.0,971.0 664.5,972.5 666.0,973.9 667.5,975.4 669.0,976.9 670.5,978.4 672.0,979.9 673.5,981.4 675.0,982.9 676.5,984.5 678.0,986.0 679.5,987.6 681.0,989.1 682.5,990.7 684.0,992.3 685.5,993.8 687.0,995.4 688.5,997.0 690.0,998.6 691.5,1000.3 693.0,1001.9 694.5,1003.5 696.0,1005.2 697.5,1006.8 699.0,1008.5 700.5,1010.1 702.0,1011.8 703.5,1013.5 705.0,1015.2 706.5,1016.9 708.0,1018.6 709.5,1020.3 711.0,1022.0 712.5,1023.8 714.0,1025.5 715.5,1027.3 717.0,1029.0 718.5,1030.8 720.0,1032.6 721.5,1034.3 723.0,1036.1 724.5,1037.9 726.0,1039.7 727.5,1041.5 729.0,1043.4 730.5,1045.2 732.0,1047.0 733.5,1048.8 735.0,1050.7 736.5,1052.5 738.0,1054.4 739.5,1056.2 741.0,1058.1 742.5,1060.0 744.0,1061.9 745.5,1063.8 747.0,1065.6 748.5,1067.5 750.0,1069.4 751.5,1071.3 753.0,1073.3 754.5,1075.2 756.0,1077.1 757.5,1079.0 759.0,1080.9 760.5,1082.9 762.0,1084.8 763.5,1086.7 765.0,1088.7 766.5,1090.6 768.0,1092.6 769.5,1094.5 771.0,1096.5 772.5,1098.4 774.0,1100.4 775.5,1102.3 777.0,1104.3 778.5,1106.3 780.0,1108.2 781.5,1110.2 783.0,1112.1 784.5,1114.1 786.0,1116.0" fill="none" stroke="#0072BD" stroke-width="2.2" stroke-linejoin="round" stroke-linecap="round" />
</g>
<text x="205.0" y="1273.5" font-size="31" font-style="italic" font-weight="normal" text-anchor="middle" >7</text>
<text x="321.25" y="1273.5" font-size="31" font-style="italic" font-weight="normal" text-anchor="middle" >8</text>
<text x="437.5" y="1273.5" font-size="31" font-style="italic" font-weight="normal" text-anchor="middle" >9</text>
<text x="553.75" y="1273.5" font-size="31" font-style="italic" font-weight="normal" text-anchor="middle" >10</text>
<text x="670.0" y="1273.5" font-size="31" font-style="italic" font-weight="normal" text-anchor="middle" >11</text>
<text x="786.25" y="1273.5" font-size="31" font-style="italic" font-weight="normal" text-anchor="middle" >12</text>
<text x="79.3" y="757.55" font-size="31" font-style="italic" font-weight="normal" text-anchor="end" >3</text>
<text x="79.3" y="845.05" font-size="31" font-style="italic" font-weight="normal" text-anchor="end" >2</text>
<text x="79.3" y="932.55" font-size="31" font-style="italic" font-weight="normal" text-anchor="end" >1</text>
<text x="79.3" y="1020.05" font-size="31" font-style="italic" font-weight="normal" text-anchor="end" >0</text>
<text x="79.3" y="1107.55" font-size="31" font-style="italic" font-weight="normal" text-anchor="end" >-1</text>
<text x="79.3" y="1195.05" font-size="31" font-style="italic" font-weight="normal" text-anchor="end" >-2</text>
<text x="405" y="1313" font-size="34" font-style="italic">log<tspan font-size="25" dy="14">2</tspan><tspan dy="-14">t</tspan></text>
<text transform="translate(27.5,1009) rotate(-90)" font-size="34" font-style="italic">log<tspan font-size="25" dy="15">2</tspan><tspan dy="-15">v</tspan></text>
<text transform="translate(-1.87,702.54) scale(1.0654,1.0000)" font-size="32.67" font-style="normal" font-weight="bold" >(b)</text>
<rect x="169.8" y="775.6" width="283.9" height="204.89999999999998" fill="#fff" stroke="#505050" stroke-width="1.4"/>
<clipPath id="clipB1"><rect x="169.8" y="775.6" width="283.9" height="204.89999999999998"/></clipPath>
<g clip-path="url(#clipB1)">
<polyline points="168.8,790.4 454.7,959.9" fill="none" stroke="#77AC30" stroke-width="2.4" stroke-linejoin="round" stroke-linecap="round" />
</g>
<polyline points="262.4,822.6 424.4,917.6" fill="none" stroke="#D95319" stroke-width="2.4" stroke-linejoin="round" stroke-linecap="round" />
<rect x="169.8" y="775.6" width="283.9" height="204.89999999999998" fill="none" stroke="#505050" stroke-width="1.4"/>
<line x1="169.8" y1="980.5" x2="169.8" y2="977.0" stroke="#262626" stroke-width="1.2"/>
<line x1="169.8" y1="775.6" x2="169.8" y2="779.1" stroke="#262626" stroke-width="1.2"/>
<line x1="264.43333333333334" y1="980.5" x2="264.43333333333334" y2="977.0" stroke="#262626" stroke-width="1.2"/>
<line x1="264.43333333333334" y1="775.6" x2="264.43333333333334" y2="779.1" stroke="#262626" stroke-width="1.2"/>
<line x1="359.06666666666666" y1="980.5" x2="359.06666666666666" y2="977.0" stroke="#262626" stroke-width="1.2"/>
<line x1="359.06666666666666" y1="775.6" x2="359.06666666666666" y2="779.1" stroke="#262626" stroke-width="1.2"/>
<line x1="453.7" y1="980.5" x2="453.7" y2="977.0" stroke="#262626" stroke-width="1.2"/>
<line x1="453.7" y1="775.6" x2="453.7" y2="779.1" stroke="#262626" stroke-width="1.2"/>
<line x1="169.8" y1="843.9" x2="173.3" y2="843.9" stroke="#262626" stroke-width="1.3"/>
<line x1="453.7" y1="843.9" x2="450.2" y2="843.9" stroke="#262626" stroke-width="1.3"/>
<line x1="169.8" y1="912.2" x2="173.3" y2="912.2" stroke="#262626" stroke-width="1.3"/>
<line x1="453.7" y1="912.2" x2="450.2" y2="912.2" stroke="#262626" stroke-width="1.3"/>
<text transform="translate(169.80,1016.50) scale(0.95,1)" font-size="28" font-style="italic" font-weight="normal" text-anchor="middle" >6</text>
<text transform="translate(264.43,1016.50) scale(0.95,1)" font-size="28" font-style="italic" font-weight="normal" text-anchor="middle" >8</text>
<text transform="translate(359.07,1016.50) scale(0.95,1)" font-size="28" font-style="italic" font-weight="normal" text-anchor="middle" >10</text>
<text transform="translate(453.70,1016.50) scale(0.95,1)" font-size="28" font-style="italic" font-weight="normal" text-anchor="middle" >12</text>
<text transform="translate(160.50,786.20) scale(0.95,1)" font-size="28" font-style="italic" font-weight="normal" text-anchor="end" >4</text>
<text transform="translate(160.50,854.35) scale(0.95,1)" font-size="28" font-style="italic" font-weight="normal" text-anchor="end" >3</text>
<text transform="translate(160.50,923.00) scale(0.95,1)" font-size="28" font-style="italic" font-weight="normal" text-anchor="end" >2</text>
<text transform="translate(160.50,991.10) scale(0.95,1)" font-size="28" font-style="italic" font-weight="normal" text-anchor="end" >1</text>
<text x="283" y="1047" font-size="28" font-style="italic">log<tspan font-size="21" dy="12">2</tspan><tspan dy="-12">t</tspan></text>
<text transform="translate(122.5,908) rotate(-90)" font-size="28" font-style="italic">log<tspan font-size="21" dy="12">2</tspan><tspan dy="-12">v</tspan></text>
<text transform="translate(247.69,813.94) scale(1.1347,1.0000)" font-size="30.99" font-style="italic" font-weight="normal" >δ</text>
<text transform="translate(261.31,816.39) scale(1.0759,1.0000)" font-size="31.48" font-style="normal" font-weight="bold" >=</text>
<text transform="translate(280.71,813.79) scale(0.9766,1.0000)" font-size="30.37" font-style="italic" font-weight="normal" stroke="#000" stroke-width="0.35">0.424</text>
<text transform="translate(349.23,813.40) scale(1.2593,1.0000)" font-size="35.18" font-style="normal" font-weight="normal" >±</text>
<text transform="translate(372.21,813.79) scale(0.9796,1.0000)" font-size="30.37" font-style="italic" font-weight="normal" stroke="#000" stroke-width="0.35">0.004</text>
<rect x="437.8" y="1066.1" width="258.8" height="159.10000000000014" fill="#fff" stroke="#262626" stroke-width="1.1"/>
<clipPath id="clipB2"><rect x="437.8" y="1066.1" width="258.8" height="159.10000000000014"/></clipPath>
<g clip-path="url(#clipB2)">
<line x1="439.4" y1="1101.6" x2="696.6" y2="1101.6" stroke="#FF0000" stroke-width="4" stroke-dasharray="4.1 3.95"/>
<polyline points="437.9,1227.0 437.9,1226.1 437.9,1224.9 438.0,1223.5 438.0,1222.0 438.0,1220.3 438.0,1218.5 438.1,1216.7 438.1,1215.0 438.1,1213.2 438.2,1211.5 438.2,1210.0 438.2,1208.5 438.3,1207.0 438.3,1205.6 438.4,1204.2 438.4,1202.8 438.4,1201.4 438.5,1200.0 438.5,1198.4 438.6,1196.8 438.6,1195.0 438.6,1193.7 438.6,1192.2 438.7,1190.7 438.7,1189.0 438.7,1187.4 438.7,1185.6 438.7,1183.9 438.8,1182.2 438.8,1180.5 438.8,1178.9 438.8,1177.3 438.9,1175.9 438.9,1174.6 438.9,1173.5 439.0,1172.5 439.6,1168.6 440.3,1169.0 440.4,1170.0 440.6,1171.7 440.7,1173.8 440.8,1176.1 440.9,1178.2 441.0,1180.0 441.1,1181.0 441.2,1181.0 441.3,1180.5 441.4,1179.6 441.5,1178.5 441.5,1177.0 441.6,1175.4 441.7,1173.6 441.8,1171.8 441.8,1169.8 441.9,1167.9 442.0,1166.0 442.0,1164.2 442.1,1162.6 442.1,1161.2 442.2,1160.0 442.3,1157.4 442.3,1155.5 442.4,1154.0 442.5,1152.9 442.8,1151.9 444.1,1151.6 446.0,1151.0 446.6,1150.0 447.1,1148.7 447.7,1147.2 448.4,1145.5 449.0,1143.8 449.8,1142.1 450.6,1140.6 451.5,1139.2 452.5,1137.8 453.5,1136.4 454.6,1135.1 455.7,1133.8 456.9,1132.5 458.1,1131.2 459.2,1130.2 460.2,1129.2 461.3,1128.3 462.5,1127.3 463.6,1126.4 464.8,1125.5 466.1,1124.6 467.5,1123.8 468.8,1123.0 470.1,1122.2 471.5,1121.4 473.0,1120.6 474.4,1119.9 476.0,1119.1 477.5,1118.5 479.0,1117.8 480.6,1117.2 482.0,1116.7 483.5,1116.3 485.0,1115.9 486.5,1115.5 488.0,1115.1 489.5,1114.8 491.0,1114.4 492.6,1114.1 494.1,1113.8 495.6,1113.4 497.1,1113.0 498.6,1112.7 500.2,1112.3 501.7,1111.9 503.2,1111.5 504.7,1111.2 506.2,1110.8 507.7,1110.4 509.2,1110.1 510.6,1109.7 512.2,1109.3 513.7,1108.8 515.3,1108.4 516.8,1108.0 518.3,1107.5 519.7,1107.1 521.1,1106.7 522.5,1106.3 523.8,1106.0 525.5,1105.5 527.1,1105.1 528.7,1104.7 530.1,1104.4 531.6,1104.2 533.1,1104.0 534.6,1103.9 536.2,1103.9 537.7,1104.0 539.2,1104.1 540.8,1104.2 542.5,1104.4 544.0,1104.6 545.7,1104.8 547.4,1105.1 549.1,1105.4 550.8,1105.6 552.3,1105.8 553.8,1105.9 555.5,1105.9 557.1,1105.8 558.5,1105.7 559.9,1105.4 561.2,1105.0 562.6,1104.4 564.0,1103.7 565.3,1102.8 566.6,1102.1 568.0,1101.5 569.6,1101.1 571.2,1101.0 572.9,1100.8 575.0,1100.5 576.3,1100.2 577.6,1099.7 579.1,1099.2 580.7,1098.7 582.3,1098.2 583.9,1097.8 585.5,1097.5 587.0,1097.5 588.5,1097.7 590.1,1098.2 591.6,1098.8 593.2,1099.5 594.7,1100.2 596.2,1100.9 597.6,1101.5 599.0,1102.0 600.7,1102.4 602.2,1102.7 603.6,1102.9 605.0,1103.1 606.4,1103.2 608.0,1103.5 609.4,1103.8 610.8,1104.3 612.2,1104.8 613.7,1105.2 615.2,1105.5 616.8,1105.7 618.5,1105.6 619.9,1105.3 621.4,1104.8 622.9,1104.1 624.5,1103.4 626.1,1102.6 627.7,1101.8 629.2,1101.1 630.7,1100.5 632.0,1100.0 633.8,1099.6 635.4,1099.5 636.9,1099.4 638.3,1099.4 639.6,1099.3 641.0,1099.0 642.6,1098.2 644.1,1097.0 645.6,1095.8 647.0,1094.9 648.5,1094.5 650.0,1094.9 651.4,1095.9 652.9,1097.2 654.4,1098.3 656.0,1099.0 657.4,1099.0 658.9,1098.8 660.4,1098.3 661.9,1097.9 663.5,1097.6 665.0,1097.5 666.5,1097.8 668.1,1098.4 669.7,1099.1 671.2,1099.7 672.7,1100.3 674.0,1100.5 675.7,1100.2 677.2,1099.6 678.6,1098.7 680.0,1098.0 681.5,1097.4 683.1,1096.7 684.6,1096.2 686.0,1096.0 687.7,1096.4 689.3,1097.1 691.0,1098.0 692.6,1098.6 694.3,1099.4 695.9,1100.0 697.0,1100.5" fill="none" stroke="#0072BD" stroke-width="3.8" stroke-linejoin="round" stroke-linecap="round" />
</g>
<rect x="437.8" y="1066.1" width="258.8" height="159.10000000000014" fill="none" stroke="#262626" stroke-width="1.1"/>
<line x1="567.2" y1="1225.2" x2="567.2" y2="1221.2" stroke="#262626" stroke-width="1.2"/>
<line x1="567.2" y1="1066.1" x2="567.2" y2="1070.1" stroke="#262626" stroke-width="1.2"/>
<line x1="437.8" y1="1066.1" x2="437.8" y2="1070.1" stroke="#262626" stroke-width="1.2"/>
<line x1="437.8" y1="1132.6" x2="441.8" y2="1132.6" stroke="#262626" stroke-width="1.2"/>
<line x1="696.6" y1="1132.6" x2="692.6" y2="1132.6" stroke="#262626" stroke-width="1.2"/>
<line x1="437.8" y1="1199.1" x2="441.8" y2="1199.1" stroke="#262626" stroke-width="1.2"/>
<line x1="696.6" y1="1199.1" x2="692.6" y2="1199.1" stroke="#262626" stroke-width="1.2"/>
<text transform="translate(437.60,1052.80) scale(0.95,1)" font-size="22.5" font-style="normal" font-weight="normal" text-anchor="middle" >0</text>
<text transform="translate(567.20,1052.80) scale(0.95,1)" font-size="22.5" font-style="normal" font-weight="normal" text-anchor="middle" >500</text>
<text transform="translate(696.30,1052.80) scale(0.95,1)" font-size="22.5" font-style="normal" font-weight="normal" text-anchor="middle" >1000</text>
<text transform="translate(429.80,1074.00) scale(0.945,1)" font-size="22.8" font-style="normal" font-weight="normal" text-anchor="end" >0.45</text>
<text transform="translate(429.80,1140.50) scale(0.945,1)" font-size="22.8" font-style="normal" font-weight="normal" text-anchor="end" >0.4</text>
<text transform="translate(429.80,1207.00) scale(0.945,1)" font-size="22.8" font-style="normal" font-weight="normal" text-anchor="end" >0.35</text>
<text x="570.5" y="1026" font-size="21" font-style="italic" font-weight="normal" text-anchor="middle" >t</text>
<text transform="translate(381,1147.5) rotate(-90)" font-size="25" font-style="italic">δ</text>
</svg>
</body></html>
